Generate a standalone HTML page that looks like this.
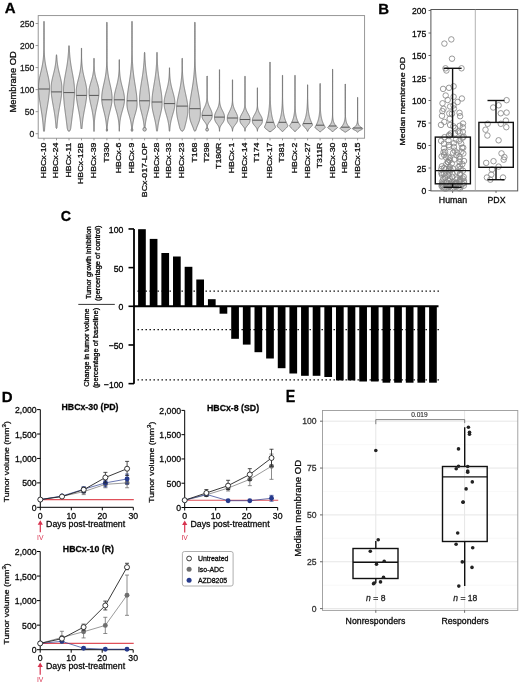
<!DOCTYPE html>
<html><head><meta charset="utf-8"><title>Figure</title>
<style>
html,body{margin:0;padding:0;background:#fff;}
svg{display:block;font-family:'Liberation Sans', Arial, sans-serif;}
</style></head>
<body>
<svg width="520" height="685" viewBox="0 0 520 685">
<rect width="520" height="685" fill="#fff"/>
<text x="4.70" y="13.30" font-size="15" text-anchor="start" font-weight="bold" fill="#000" stroke="#000" stroke-width="0.28">A</text>
<text x="378.20" y="13.90" font-size="15" text-anchor="start" font-weight="bold" fill="#000" stroke="#000" stroke-width="0.28">B</text>
<text x="0" y="0" font-size="15" font-weight="bold" fill="#000" stroke="#000" stroke-width="0.28" transform="translate(60.8 220.5) scale(0.95 1.03)">C</text>
<text x="1.70" y="401.50" font-size="15" text-anchor="start" font-weight="bold" fill="#000" stroke="#000" stroke-width="0.28">D</text>
<text x="0" y="0" font-size="15" font-weight="bold" fill="#000" stroke="#000" stroke-width="0.28" transform="translate(285.8 402.1) scale(0.95 1.04)">E</text>
<rect x="38.2" y="15.6" width="326.40000000000003" height="122.6" fill="none" stroke="#8c8c8c" stroke-width="0.9"/>
<line x1="35.60" y1="133.70" x2="38.20" y2="133.70" stroke="#8c8c8c" stroke-width="0.9"/>
<text x="34.30" y="137.00" font-size="8.6" text-anchor="end" transform="matrix(1,0,0,1.08,0,-10.960)" fill="#222" stroke="#222" stroke-width="0.28">0</text>
<line x1="35.60" y1="111.66" x2="38.20" y2="111.66" stroke="#8c8c8c" stroke-width="0.9"/>
<text x="34.30" y="114.96" font-size="8.6" text-anchor="end" transform="matrix(1,0,0,1.08,0,-9.197)" fill="#222" stroke="#222" stroke-width="0.28">50</text>
<line x1="35.60" y1="89.62" x2="38.20" y2="89.62" stroke="#8c8c8c" stroke-width="0.9"/>
<text x="34.30" y="92.92" font-size="8.6" text-anchor="end" transform="matrix(1,0,0,1.08,0,-7.434)" fill="#222" stroke="#222" stroke-width="0.28">100</text>
<line x1="35.60" y1="67.58" x2="38.20" y2="67.58" stroke="#8c8c8c" stroke-width="0.9"/>
<text x="34.30" y="70.88" font-size="8.6" text-anchor="end" transform="matrix(1,0,0,1.08,0,-5.670)" fill="#222" stroke="#222" stroke-width="0.28">150</text>
<line x1="35.60" y1="45.54" x2="38.20" y2="45.54" stroke="#8c8c8c" stroke-width="0.9"/>
<text x="34.30" y="48.84" font-size="8.6" text-anchor="end" transform="matrix(1,0,0,1.08,0,-3.907)" fill="#222" stroke="#222" stroke-width="0.28">200</text>
<line x1="35.60" y1="23.50" x2="38.20" y2="23.50" stroke="#8c8c8c" stroke-width="0.9"/>
<text x="34.30" y="26.80" font-size="8.6" text-anchor="end" transform="matrix(1,0,0,1.08,0,-2.144)" fill="#222" stroke="#222" stroke-width="0.28">250</text>
<text x="0" y="0" font-size="8.500" text-anchor="middle" transform="translate(16.40 81.90) rotate(-90) scale(1.1 1)" stroke="#111" stroke-width="0.28">Membrane OD</text>
<path d="M44.10,21.40 L44.10,22.09 L44.10,22.78 L44.10,23.48 L44.10,24.17 L44.10,24.86 L44.10,25.55 L44.10,26.25 L44.10,26.94 L44.10,27.63 L44.10,28.32 L44.10,29.02 L44.10,29.71 L44.10,30.40 L44.10,31.09 L44.10,31.79 L44.10,32.48 L44.10,33.17 L44.10,33.86 L44.10,34.56 L44.10,35.25 L44.10,35.94 L44.10,36.63 L44.10,37.33 L44.10,38.02 L44.10,38.71 L44.10,39.40 L44.10,40.10 L44.10,40.79 L44.10,41.48 L44.10,42.17 L44.10,42.87 L44.10,43.56 L44.10,44.25 L44.10,44.94 L44.10,45.64 L44.10,46.33 L44.10,47.02 L44.11,47.71 L44.13,48.41 L44.15,49.10 L44.17,49.79 L44.19,50.48 L44.22,51.18 L44.24,51.87 L44.28,52.56 L44.31,53.25 L44.35,53.95 L44.39,54.64 L44.44,55.33 L44.49,56.02 L44.55,56.72 L44.61,57.41 L44.67,58.10 L44.74,58.79 L44.82,59.48 L44.90,60.18 L44.99,60.87 L45.08,61.56 L45.18,62.25 L45.29,62.95 L45.40,63.64 L45.52,64.33 L45.64,65.02 L45.77,65.72 L45.90,66.41 L46.04,67.10 L46.19,67.79 L46.34,68.49 L46.49,69.18 L46.65,69.87 L46.81,70.56 L46.97,71.26 L47.13,71.95 L47.30,72.64 L47.46,73.33 L47.63,74.03 L47.79,74.72 L47.95,75.41 L48.11,76.10 L48.26,76.80 L48.41,77.49 L48.55,78.18 L48.69,78.87 L48.81,79.57 L48.93,80.26 L49.04,80.95 L49.14,81.64 L49.23,82.34 L49.30,83.03 L49.37,83.72 L49.42,84.41 L49.46,85.11 L49.49,85.80 L49.50,86.49 L49.50,87.18 L49.49,87.88 L49.48,88.57 L49.46,89.26 L49.43,89.95 L49.40,90.65 L49.36,91.34 L49.32,92.03 L49.26,92.72 L49.21,93.42 L49.14,94.11 L49.08,94.80 L49.00,95.49 L48.93,96.18 L48.84,96.88 L48.76,97.57 L48.67,98.26 L48.57,98.95 L48.47,99.65 L48.37,100.34 L48.27,101.03 L48.16,101.72 L48.05,102.42 L47.94,103.11 L47.83,103.80 L47.72,104.49 L47.60,105.19 L47.49,105.88 L47.37,106.57 L47.26,107.26 L47.14,107.96 L47.03,108.65 L46.91,109.34 L46.80,110.03 L46.69,110.73 L46.58,111.42 L46.47,112.11 L46.36,112.80 L46.26,113.50 L46.15,114.19 L46.05,114.88 L45.95,115.57 L45.86,116.27 L45.76,116.96 L45.67,117.65 L45.59,118.34 L45.50,119.04 L45.42,119.73 L45.34,120.42 L45.26,121.11 L45.19,121.81 L45.12,122.50 L45.05,123.19 L44.99,123.88 L44.92,124.58 L44.87,125.27 L44.81,125.96 L44.76,126.65 L44.70,127.35 L44.66,128.04 L44.61,128.73 L44.57,129.42 L44.53,130.12 L44.46,130.81 L44.00,131.50 L44.00,131.50 L43.54,130.81 L43.47,130.12 L43.43,129.42 L43.39,128.73 L43.34,128.04 L43.30,127.35 L43.24,126.65 L43.19,125.96 L43.13,125.27 L43.08,124.58 L43.01,123.88 L42.95,123.19 L42.88,122.50 L42.81,121.81 L42.74,121.11 L42.66,120.42 L42.58,119.73 L42.50,119.04 L42.41,118.34 L42.33,117.65 L42.24,116.96 L42.14,116.27 L42.05,115.57 L41.95,114.88 L41.85,114.19 L41.74,113.50 L41.64,112.80 L41.53,112.11 L41.42,111.42 L41.31,110.73 L41.20,110.03 L41.09,109.34 L40.97,108.65 L40.86,107.96 L40.74,107.26 L40.63,106.57 L40.51,105.88 L40.40,105.19 L40.28,104.49 L40.17,103.80 L40.06,103.11 L39.95,102.42 L39.84,101.72 L39.73,101.03 L39.63,100.34 L39.53,99.65 L39.43,98.95 L39.33,98.26 L39.24,97.57 L39.16,96.88 L39.07,96.18 L39.00,95.49 L38.92,94.80 L38.86,94.11 L38.79,93.42 L38.74,92.72 L38.68,92.03 L38.64,91.34 L38.60,90.65 L38.57,89.95 L38.54,89.26 L38.52,88.57 L38.51,87.88 L38.50,87.18 L38.50,86.49 L38.51,85.80 L38.54,85.11 L38.58,84.41 L38.63,83.72 L38.70,83.03 L38.77,82.34 L38.86,81.64 L38.96,80.95 L39.07,80.26 L39.19,79.57 L39.31,78.87 L39.45,78.18 L39.59,77.49 L39.74,76.80 L39.89,76.10 L40.05,75.41 L40.21,74.72 L40.37,74.03 L40.54,73.33 L40.70,72.64 L40.87,71.95 L41.03,71.26 L41.19,70.56 L41.35,69.87 L41.51,69.18 L41.66,68.49 L41.81,67.79 L41.96,67.10 L42.10,66.41 L42.23,65.72 L42.36,65.02 L42.48,64.33 L42.60,63.64 L42.71,62.95 L42.82,62.25 L42.92,61.56 L43.01,60.87 L43.10,60.18 L43.18,59.48 L43.26,58.79 L43.33,58.10 L43.39,57.41 L43.45,56.72 L43.51,56.02 L43.56,55.33 L43.61,54.64 L43.65,53.95 L43.69,53.25 L43.72,52.56 L43.76,51.87 L43.78,51.18 L43.81,50.48 L43.83,49.79 L43.85,49.10 L43.87,48.41 L43.89,47.71 L43.90,47.02 L43.90,46.33 L43.90,45.64 L43.90,44.94 L43.90,44.25 L43.90,43.56 L43.90,42.87 L43.90,42.17 L43.90,41.48 L43.90,40.79 L43.90,40.10 L43.90,39.40 L43.90,38.71 L43.90,38.02 L43.90,37.33 L43.90,36.63 L43.90,35.94 L43.90,35.25 L43.90,34.56 L43.90,33.86 L43.90,33.17 L43.90,32.48 L43.90,31.79 L43.90,31.09 L43.90,30.40 L43.90,29.71 L43.90,29.02 L43.90,28.32 L43.90,27.63 L43.90,26.94 L43.90,26.25 L43.90,25.55 L43.90,24.86 L43.90,24.17 L43.90,23.48 L43.90,22.78 L43.90,22.09 L43.90,21.40Z" fill="#cdcdcd" stroke="#666" stroke-width="0.8" stroke-linejoin="round"/>
<line x1="38.53" y1="89.00" x2="49.47" y2="89.00" stroke="#555" stroke-width="1.0"/>
<line x1="44.00" y1="138.20" x2="44.00" y2="140.40" stroke="#8c8c8c" stroke-width="0.9"/>
<text x="0" y="0" font-size="7.982" text-anchor="end" transform="translate(45.90 142.60) rotate(-90) scale(1.1 1)" stroke="#111" stroke-width="0.28">HBCx-10</text>
<path d="M56.60,54.80 L56.60,55.26 L56.75,55.73 L56.77,56.19 L56.80,56.65 L56.82,57.12 L56.85,57.58 L56.88,58.04 L56.91,58.51 L56.95,58.97 L56.98,59.44 L57.02,59.90 L57.06,60.36 L57.11,60.83 L57.15,61.29 L57.20,61.75 L57.26,62.22 L57.31,62.68 L57.37,63.14 L57.43,63.61 L57.49,64.07 L57.56,64.53 L57.63,65.00 L57.70,65.46 L57.78,65.92 L57.86,66.39 L57.94,66.85 L58.02,67.32 L58.11,67.78 L58.20,68.24 L58.29,68.71 L58.39,69.17 L58.49,69.63 L58.59,70.10 L58.70,70.56 L58.80,71.02 L58.91,71.49 L59.02,71.95 L59.13,72.41 L59.25,72.88 L59.36,73.34 L59.47,73.80 L59.59,74.27 L59.71,74.73 L59.82,75.19 L59.94,75.66 L60.06,76.12 L60.17,76.59 L60.29,77.05 L60.40,77.51 L60.51,77.98 L60.62,78.44 L60.73,78.90 L60.83,79.37 L60.93,79.83 L61.03,80.29 L61.12,80.76 L61.21,81.22 L61.30,81.68 L61.38,82.15 L61.46,82.61 L61.53,83.07 L61.59,83.54 L61.65,84.00 L61.70,84.47 L61.75,84.93 L61.79,85.39 L61.83,85.86 L61.86,86.32 L61.88,86.78 L61.89,87.25 L61.90,87.71 L61.90,88.17 L61.90,88.64 L61.89,89.10 L61.88,89.56 L61.87,90.03 L61.85,90.49 L61.83,90.95 L61.80,91.42 L61.78,91.88 L61.74,92.35 L61.71,92.81 L61.67,93.27 L61.63,93.74 L61.59,94.20 L61.54,94.66 L61.49,95.13 L61.44,95.59 L61.39,96.05 L61.33,96.52 L61.27,96.98 L61.21,97.44 L61.14,97.91 L61.07,98.37 L61.01,98.83 L60.93,99.30 L60.86,99.76 L60.79,100.23 L60.71,100.69 L60.63,101.15 L60.56,101.62 L60.48,102.08 L60.40,102.54 L60.31,103.01 L60.23,103.47 L60.15,103.93 L60.07,104.40 L59.98,104.86 L59.90,105.32 L59.81,105.79 L59.73,106.25 L59.65,106.71 L59.56,107.18 L59.48,107.64 L59.39,108.11 L59.31,108.57 L59.23,109.03 L59.15,109.50 L59.07,109.96 L58.99,110.42 L58.91,110.89 L58.83,111.35 L58.75,111.81 L58.67,112.28 L58.60,112.74 L58.53,113.20 L58.45,113.67 L58.38,114.13 L58.31,114.59 L58.24,115.06 L58.18,115.52 L58.11,115.98 L58.05,116.45 L57.99,116.91 L57.93,117.38 L57.87,117.84 L57.81,118.30 L57.75,118.77 L57.70,119.23 L57.65,119.69 L57.59,120.16 L57.55,120.62 L57.50,121.08 L57.45,121.55 L57.41,122.01 L57.36,122.47 L57.32,122.94 L57.28,123.40 L57.24,123.86 L57.20,124.33 L57.17,124.79 L57.13,125.26 L57.10,125.72 L57.07,126.18 L57.04,126.65 L57.01,127.11 L56.98,127.57 L56.88,128.04 L56.50,128.50 L56.50,128.50 L56.12,128.04 L56.02,127.57 L55.99,127.11 L55.96,126.65 L55.93,126.18 L55.90,125.72 L55.87,125.26 L55.83,124.79 L55.80,124.33 L55.76,123.86 L55.72,123.40 L55.68,122.94 L55.64,122.47 L55.59,122.01 L55.55,121.55 L55.50,121.08 L55.45,120.62 L55.41,120.16 L55.35,119.69 L55.30,119.23 L55.25,118.77 L55.19,118.30 L55.13,117.84 L55.07,117.38 L55.01,116.91 L54.95,116.45 L54.89,115.98 L54.82,115.52 L54.76,115.06 L54.69,114.59 L54.62,114.13 L54.55,113.67 L54.47,113.20 L54.40,112.74 L54.33,112.28 L54.25,111.81 L54.17,111.35 L54.09,110.89 L54.01,110.42 L53.93,109.96 L53.85,109.50 L53.77,109.03 L53.69,108.57 L53.61,108.11 L53.52,107.64 L53.44,107.18 L53.35,106.71 L53.27,106.25 L53.19,105.79 L53.10,105.32 L53.02,104.86 L52.93,104.40 L52.85,103.93 L52.77,103.47 L52.69,103.01 L52.60,102.54 L52.52,102.08 L52.44,101.62 L52.37,101.15 L52.29,100.69 L52.21,100.23 L52.14,99.76 L52.07,99.30 L51.99,98.83 L51.93,98.37 L51.86,97.91 L51.79,97.44 L51.73,96.98 L51.67,96.52 L51.61,96.05 L51.56,95.59 L51.51,95.13 L51.46,94.66 L51.41,94.20 L51.37,93.74 L51.33,93.27 L51.29,92.81 L51.26,92.35 L51.22,91.88 L51.20,91.42 L51.17,90.95 L51.15,90.49 L51.13,90.03 L51.12,89.56 L51.11,89.10 L51.10,88.64 L51.10,88.17 L51.10,87.71 L51.11,87.25 L51.12,86.78 L51.14,86.32 L51.17,85.86 L51.21,85.39 L51.25,84.93 L51.30,84.47 L51.35,84.00 L51.41,83.54 L51.47,83.07 L51.54,82.61 L51.62,82.15 L51.70,81.68 L51.79,81.22 L51.88,80.76 L51.97,80.29 L52.07,79.83 L52.17,79.37 L52.27,78.90 L52.38,78.44 L52.49,77.98 L52.60,77.51 L52.71,77.05 L52.83,76.59 L52.94,76.12 L53.06,75.66 L53.18,75.19 L53.29,74.73 L53.41,74.27 L53.53,73.80 L53.64,73.34 L53.75,72.88 L53.87,72.41 L53.98,71.95 L54.09,71.49 L54.20,71.02 L54.30,70.56 L54.41,70.10 L54.51,69.63 L54.61,69.17 L54.71,68.71 L54.80,68.24 L54.89,67.78 L54.98,67.32 L55.06,66.85 L55.14,66.39 L55.22,65.92 L55.30,65.46 L55.37,65.00 L55.44,64.53 L55.51,64.07 L55.57,63.61 L55.63,63.14 L55.69,62.68 L55.74,62.22 L55.80,61.75 L55.85,61.29 L55.89,60.83 L55.94,60.36 L55.98,59.90 L56.02,59.44 L56.05,58.97 L56.09,58.51 L56.12,58.04 L56.15,57.58 L56.18,57.12 L56.20,56.65 L56.23,56.19 L56.25,55.73 L56.40,55.26 L56.40,54.80Z" fill="#cdcdcd" stroke="#666" stroke-width="0.8" stroke-linejoin="round"/>
<line x1="51.23" y1="91.90" x2="61.77" y2="91.90" stroke="#555" stroke-width="1.0"/>
<line x1="56.50" y1="138.20" x2="56.50" y2="140.40" stroke="#8c8c8c" stroke-width="0.9"/>
<text x="0" y="0" font-size="7.982" text-anchor="end" transform="translate(58.40 142.60) rotate(-90) scale(1.1 1)" stroke="#111" stroke-width="0.28">HBCx-24</text>
<path d="M69.10,45.70 L69.10,46.24 L69.27,46.78 L69.29,47.32 L69.31,47.86 L69.34,48.40 L69.36,48.94 L69.39,49.48 L69.42,50.02 L69.44,50.56 L69.48,51.10 L69.51,51.64 L69.54,52.18 L69.58,52.72 L69.62,53.25 L69.66,53.79 L69.70,54.33 L69.74,54.87 L69.79,55.41 L69.84,55.95 L69.89,56.49 L69.94,57.03 L69.99,57.57 L70.05,58.11 L70.11,58.65 L70.17,59.19 L70.23,59.73 L70.30,60.27 L70.36,60.81 L70.43,61.35 L70.51,61.89 L70.58,62.43 L70.66,62.97 L70.73,63.51 L70.82,64.05 L70.90,64.59 L70.98,65.13 L71.07,65.67 L71.16,66.21 L71.25,66.75 L71.34,67.28 L71.43,67.82 L71.52,68.36 L71.62,68.90 L71.72,69.44 L71.82,69.98 L71.91,70.52 L72.01,71.06 L72.11,71.60 L72.21,72.14 L72.31,72.68 L72.41,73.22 L72.51,73.76 L72.61,74.30 L72.71,74.84 L72.81,75.38 L72.91,75.92 L73.01,76.46 L73.10,77.00 L73.20,77.54 L73.29,78.08 L73.38,78.62 L73.47,79.16 L73.55,79.70 L73.64,80.24 L73.72,80.78 L73.79,81.32 L73.87,81.85 L73.94,82.39 L74.01,82.93 L74.07,83.47 L74.13,84.01 L74.19,84.55 L74.24,85.09 L74.28,85.63 L74.33,86.17 L74.37,86.71 L74.40,87.25 L74.43,87.79 L74.45,88.33 L74.47,88.87 L74.49,89.41 L74.50,89.95 L74.50,90.49 L74.50,91.03 L74.50,91.57 L74.49,92.11 L74.48,92.65 L74.47,93.19 L74.46,93.73 L74.44,94.27 L74.43,94.81 L74.41,95.35 L74.38,95.88 L74.36,96.42 L74.33,96.96 L74.30,97.50 L74.27,98.04 L74.23,98.58 L74.20,99.12 L74.16,99.66 L74.12,100.20 L74.07,100.74 L74.03,101.28 L73.98,101.82 L73.93,102.36 L73.88,102.90 L73.83,103.44 L73.78,103.98 L73.72,104.52 L73.66,105.06 L73.61,105.60 L73.55,106.14 L73.48,106.68 L73.42,107.22 L73.36,107.76 L73.29,108.30 L73.23,108.84 L73.16,109.38 L73.09,109.92 L73.03,110.45 L72.96,110.99 L72.89,111.53 L72.82,112.07 L72.75,112.61 L72.67,113.15 L72.60,113.69 L72.53,114.23 L72.46,114.77 L72.39,115.31 L72.32,115.85 L72.24,116.39 L72.17,116.93 L72.10,117.47 L72.03,118.01 L71.96,118.55 L71.89,119.09 L71.82,119.63 L71.75,120.17 L71.68,120.71 L71.61,121.25 L71.54,121.79 L71.47,122.33 L71.40,122.87 L71.34,123.41 L71.27,123.95 L71.21,124.48 L71.14,125.02 L71.08,125.56 L71.02,126.10 L70.96,126.64 L70.90,127.18 L70.83,127.72 L70.75,128.26 L70.63,128.80 L70.48,129.34 L70.29,129.88 L70.06,130.42 L69.75,130.96 L69.00,131.50 L69.00,131.50 L68.25,130.96 L67.94,130.42 L67.71,129.88 L67.52,129.34 L67.37,128.80 L67.25,128.26 L67.17,127.72 L67.10,127.18 L67.04,126.64 L66.98,126.10 L66.92,125.56 L66.86,125.02 L66.79,124.48 L66.73,123.95 L66.66,123.41 L66.60,122.87 L66.53,122.33 L66.46,121.79 L66.39,121.25 L66.32,120.71 L66.25,120.17 L66.18,119.63 L66.11,119.09 L66.04,118.55 L65.97,118.01 L65.90,117.47 L65.83,116.93 L65.76,116.39 L65.68,115.85 L65.61,115.31 L65.54,114.77 L65.47,114.23 L65.40,113.69 L65.33,113.15 L65.25,112.61 L65.18,112.07 L65.11,111.53 L65.04,110.99 L64.97,110.45 L64.91,109.92 L64.84,109.38 L64.77,108.84 L64.71,108.30 L64.64,107.76 L64.58,107.22 L64.52,106.68 L64.45,106.14 L64.39,105.60 L64.34,105.06 L64.28,104.52 L64.22,103.98 L64.17,103.44 L64.12,102.90 L64.07,102.36 L64.02,101.82 L63.97,101.28 L63.93,100.74 L63.88,100.20 L63.84,99.66 L63.80,99.12 L63.77,98.58 L63.73,98.04 L63.70,97.50 L63.67,96.96 L63.64,96.42 L63.62,95.88 L63.59,95.35 L63.57,94.81 L63.56,94.27 L63.54,93.73 L63.53,93.19 L63.52,92.65 L63.51,92.11 L63.50,91.57 L63.50,91.03 L63.50,90.49 L63.50,89.95 L63.51,89.41 L63.53,88.87 L63.55,88.33 L63.57,87.79 L63.60,87.25 L63.63,86.71 L63.67,86.17 L63.72,85.63 L63.76,85.09 L63.81,84.55 L63.87,84.01 L63.93,83.47 L63.99,82.93 L64.06,82.39 L64.13,81.85 L64.21,81.32 L64.28,80.78 L64.36,80.24 L64.45,79.70 L64.53,79.16 L64.62,78.62 L64.71,78.08 L64.80,77.54 L64.90,77.00 L64.99,76.46 L65.09,75.92 L65.19,75.38 L65.29,74.84 L65.39,74.30 L65.49,73.76 L65.59,73.22 L65.69,72.68 L65.79,72.14 L65.89,71.60 L65.99,71.06 L66.09,70.52 L66.18,69.98 L66.28,69.44 L66.38,68.90 L66.48,68.36 L66.57,67.82 L66.66,67.28 L66.75,66.75 L66.84,66.21 L66.93,65.67 L67.02,65.13 L67.10,64.59 L67.18,64.05 L67.27,63.51 L67.34,62.97 L67.42,62.43 L67.49,61.89 L67.57,61.35 L67.64,60.81 L67.70,60.27 L67.77,59.73 L67.83,59.19 L67.89,58.65 L67.95,58.11 L68.01,57.57 L68.06,57.03 L68.11,56.49 L68.16,55.95 L68.21,55.41 L68.26,54.87 L68.30,54.33 L68.34,53.79 L68.38,53.25 L68.42,52.72 L68.46,52.18 L68.49,51.64 L68.52,51.10 L68.56,50.56 L68.58,50.02 L68.61,49.48 L68.64,48.94 L68.66,48.40 L68.69,47.86 L68.71,47.32 L68.73,46.78 L68.90,46.24 L68.90,45.70Z" fill="#cdcdcd" stroke="#666" stroke-width="0.8" stroke-linejoin="round"/>
<line x1="63.52" y1="92.60" x2="74.48" y2="92.60" stroke="#555" stroke-width="1.0"/>
<line x1="69.00" y1="138.20" x2="69.00" y2="140.40" stroke="#8c8c8c" stroke-width="0.9"/>
<text x="0" y="0" font-size="7.982" text-anchor="end" transform="translate(70.90 142.60) rotate(-90) scale(1.1 1)" stroke="#111" stroke-width="0.28">HBCx-11</text>
<path d="M81.60,48.20 L81.60,48.71 L81.60,49.22 L81.60,49.72 L81.60,50.23 L81.60,50.74 L81.60,51.25 L81.60,51.76 L81.60,52.27 L81.60,52.77 L81.60,53.28 L81.60,53.79 L81.60,54.30 L81.60,54.81 L81.60,55.31 L81.60,55.82 L81.60,56.33 L81.61,56.84 L81.62,57.35 L81.63,57.86 L81.65,58.36 L81.67,58.87 L81.69,59.38 L81.71,59.89 L81.73,60.40 L81.75,60.90 L81.78,61.41 L81.81,61.92 L81.84,62.43 L81.87,62.94 L81.91,63.45 L81.95,63.95 L81.99,64.46 L82.03,64.97 L82.08,65.48 L82.13,65.99 L82.18,66.49 L82.24,67.00 L82.30,67.51 L82.37,68.02 L82.43,68.53 L82.51,69.04 L82.58,69.54 L82.66,70.05 L82.75,70.56 L82.83,71.07 L82.92,71.58 L83.02,72.08 L83.12,72.59 L83.22,73.10 L83.33,73.61 L83.44,74.12 L83.55,74.63 L83.66,75.13 L83.78,75.64 L83.90,76.15 L84.03,76.66 L84.15,77.17 L84.28,77.67 L84.40,78.18 L84.53,78.69 L84.66,79.20 L84.79,79.71 L84.92,80.22 L85.05,80.72 L85.18,81.23 L85.30,81.74 L85.43,82.25 L85.55,82.76 L85.67,83.26 L85.78,83.77 L85.89,84.28 L86.00,84.79 L86.10,85.30 L86.20,85.81 L86.29,86.31 L86.37,86.82 L86.45,87.33 L86.52,87.84 L86.58,88.35 L86.64,88.85 L86.69,89.36 L86.72,89.87 L86.76,90.38 L86.78,90.89 L86.79,91.39 L86.80,91.90 L86.80,92.41 L86.79,92.92 L86.78,93.43 L86.76,93.94 L86.74,94.44 L86.72,94.95 L86.69,95.46 L86.65,95.97 L86.61,96.48 L86.57,96.98 L86.52,97.49 L86.47,98.00 L86.41,98.51 L86.35,99.02 L86.29,99.53 L86.22,100.03 L86.15,100.54 L86.08,101.05 L86.00,101.56 L85.92,102.07 L85.84,102.57 L85.75,103.08 L85.67,103.59 L85.58,104.10 L85.49,104.61 L85.39,105.12 L85.30,105.62 L85.20,106.13 L85.11,106.64 L85.01,107.15 L84.92,107.66 L84.82,108.16 L84.72,108.67 L84.62,109.18 L84.52,109.69 L84.43,110.20 L84.33,110.71 L84.23,111.21 L84.14,111.72 L84.04,112.23 L83.95,112.74 L83.86,113.25 L83.77,113.75 L83.68,114.26 L83.59,114.77 L83.51,115.28 L83.42,115.79 L83.34,116.30 L83.26,116.80 L83.18,117.31 L83.10,117.82 L83.03,118.33 L82.96,118.84 L82.89,119.34 L82.82,119.85 L82.75,120.36 L82.69,120.87 L82.63,121.38 L82.57,121.89 L82.51,122.39 L82.46,122.90 L82.40,123.41 L82.35,123.92 L82.30,124.43 L82.26,124.93 L82.21,125.44 L82.17,125.95 L82.13,126.46 L82.09,126.97 L82.06,127.48 L82.02,127.98 L81.92,128.49 L81.50,129.00 L81.50,129.00 L81.08,128.49 L80.98,127.98 L80.94,127.48 L80.91,126.97 L80.87,126.46 L80.83,125.95 L80.79,125.44 L80.74,124.93 L80.70,124.43 L80.65,123.92 L80.60,123.41 L80.54,122.90 L80.49,122.39 L80.43,121.89 L80.37,121.38 L80.31,120.87 L80.25,120.36 L80.18,119.85 L80.11,119.34 L80.04,118.84 L79.97,118.33 L79.90,117.82 L79.82,117.31 L79.74,116.80 L79.66,116.30 L79.58,115.79 L79.49,115.28 L79.41,114.77 L79.32,114.26 L79.23,113.75 L79.14,113.25 L79.05,112.74 L78.96,112.23 L78.86,111.72 L78.77,111.21 L78.67,110.71 L78.57,110.20 L78.48,109.69 L78.38,109.18 L78.28,108.67 L78.18,108.16 L78.08,107.66 L77.99,107.15 L77.89,106.64 L77.80,106.13 L77.70,105.62 L77.61,105.12 L77.51,104.61 L77.42,104.10 L77.33,103.59 L77.25,103.08 L77.16,102.57 L77.08,102.07 L77.00,101.56 L76.92,101.05 L76.85,100.54 L76.78,100.03 L76.71,99.53 L76.65,99.02 L76.59,98.51 L76.53,98.00 L76.48,97.49 L76.43,96.98 L76.39,96.48 L76.35,95.97 L76.31,95.46 L76.28,94.95 L76.26,94.44 L76.24,93.94 L76.22,93.43 L76.21,92.92 L76.20,92.41 L76.20,91.90 L76.21,91.39 L76.22,90.89 L76.24,90.38 L76.28,89.87 L76.31,89.36 L76.36,88.85 L76.42,88.35 L76.48,87.84 L76.55,87.33 L76.63,86.82 L76.71,86.31 L76.80,85.81 L76.90,85.30 L77.00,84.79 L77.11,84.28 L77.22,83.77 L77.33,83.26 L77.45,82.76 L77.57,82.25 L77.70,81.74 L77.82,81.23 L77.95,80.72 L78.08,80.22 L78.21,79.71 L78.34,79.20 L78.47,78.69 L78.60,78.18 L78.72,77.67 L78.85,77.17 L78.97,76.66 L79.10,76.15 L79.22,75.64 L79.34,75.13 L79.45,74.63 L79.56,74.12 L79.67,73.61 L79.78,73.10 L79.88,72.59 L79.98,72.08 L80.08,71.58 L80.17,71.07 L80.25,70.56 L80.34,70.05 L80.42,69.54 L80.49,69.04 L80.57,68.53 L80.63,68.02 L80.70,67.51 L80.76,67.00 L80.82,66.49 L80.87,65.99 L80.92,65.48 L80.97,64.97 L81.01,64.46 L81.05,63.95 L81.09,63.45 L81.13,62.94 L81.16,62.43 L81.19,61.92 L81.22,61.41 L81.25,60.90 L81.27,60.40 L81.29,59.89 L81.31,59.38 L81.33,58.87 L81.35,58.36 L81.37,57.86 L81.38,57.35 L81.39,56.84 L81.40,56.33 L81.40,55.82 L81.40,55.31 L81.40,54.81 L81.40,54.30 L81.40,53.79 L81.40,53.28 L81.40,52.77 L81.40,52.27 L81.40,51.76 L81.40,51.25 L81.40,50.74 L81.40,50.23 L81.40,49.72 L81.40,49.22 L81.40,48.71 L81.40,48.20Z" fill="#cdcdcd" stroke="#666" stroke-width="0.8" stroke-linejoin="round"/>
<line x1="76.31" y1="95.40" x2="86.69" y2="95.40" stroke="#555" stroke-width="1.0"/>
<line x1="81.50" y1="138.20" x2="81.50" y2="140.40" stroke="#8c8c8c" stroke-width="0.9"/>
<text x="0" y="0" font-size="7.982" text-anchor="end" transform="translate(83.40 142.60) rotate(-90) scale(1.1 1)" stroke="#111" stroke-width="0.28">HBCx-12B</text>
<path d="M94.10,58.30 L94.10,58.76 L94.10,59.22 L94.10,59.68 L94.10,60.14 L94.10,60.60 L94.10,61.06 L94.10,61.52 L94.10,61.98 L94.10,62.44 L94.10,62.90 L94.10,63.36 L94.10,63.82 L94.11,64.28 L94.12,64.75 L94.14,65.21 L94.16,65.67 L94.18,66.13 L94.20,66.59 L94.22,67.05 L94.25,67.51 L94.28,67.97 L94.31,68.43 L94.35,68.89 L94.38,69.35 L94.43,69.81 L94.47,70.27 L94.52,70.73 L94.57,71.19 L94.63,71.65 L94.69,72.11 L94.76,72.57 L94.83,73.03 L94.90,73.49 L94.98,73.95 L95.06,74.41 L95.15,74.87 L95.25,75.33 L95.34,75.79 L95.45,76.25 L95.55,76.72 L95.67,77.18 L95.78,77.64 L95.90,78.10 L96.03,78.56 L96.15,79.02 L96.28,79.48 L96.42,79.94 L96.55,80.40 L96.69,80.86 L96.83,81.32 L96.97,81.78 L97.11,82.24 L97.24,82.70 L97.38,83.16 L97.52,83.62 L97.65,84.08 L97.79,84.54 L97.91,85.00 L98.04,85.46 L98.16,85.92 L98.27,86.38 L98.38,86.84 L98.48,87.30 L98.57,87.76 L98.66,88.22 L98.73,88.68 L98.80,89.15 L98.86,89.61 L98.91,90.07 L98.95,90.53 L98.97,90.99 L98.99,91.45 L99.00,91.91 L99.00,92.37 L98.99,92.83 L98.98,93.29 L98.96,93.75 L98.93,94.21 L98.90,94.67 L98.87,95.13 L98.82,95.59 L98.78,96.05 L98.72,96.51 L98.67,96.97 L98.61,97.43 L98.54,97.89 L98.47,98.35 L98.39,98.81 L98.32,99.27 L98.23,99.73 L98.15,100.19 L98.06,100.65 L97.97,101.12 L97.87,101.58 L97.78,102.04 L97.68,102.50 L97.58,102.96 L97.48,103.42 L97.38,103.88 L97.27,104.34 L97.17,104.80 L97.06,105.26 L96.96,105.72 L96.86,106.18 L96.75,106.64 L96.65,107.10 L96.55,107.56 L96.45,108.02 L96.35,108.48 L96.25,108.94 L96.15,109.40 L96.06,109.86 L95.96,110.32 L95.87,110.78 L95.78,111.24 L95.70,111.70 L95.61,112.16 L95.53,112.62 L95.45,113.08 L95.37,113.55 L95.30,114.01 L95.23,114.47 L95.16,114.93 L95.09,115.39 L95.03,115.85 L94.96,116.31 L94.91,116.77 L94.85,117.23 L94.80,117.69 L94.74,118.15 L94.70,118.61 L94.65,119.07 L94.61,119.53 L94.56,119.99 L94.52,120.45 L94.49,120.91 L94.45,121.37 L94.42,121.83 L94.39,122.29 L94.36,122.75 L94.33,123.21 L94.31,123.67 L94.28,124.13 L94.26,124.59 L94.24,125.05 L94.22,125.52 L94.20,125.98 L94.18,126.44 L94.17,126.90 L94.15,127.36 L94.14,127.82 L94.13,128.28 L94.12,128.74 L94.11,129.20 L94.10,129.66 L94.10,130.12 L94.10,130.58 L94.08,131.04 L94.00,131.50 L94.00,131.50 L93.92,131.04 L93.90,130.58 L93.90,130.12 L93.90,129.66 L93.89,129.20 L93.88,128.74 L93.87,128.28 L93.86,127.82 L93.85,127.36 L93.83,126.90 L93.82,126.44 L93.80,125.98 L93.78,125.52 L93.76,125.05 L93.74,124.59 L93.72,124.13 L93.69,123.67 L93.67,123.21 L93.64,122.75 L93.61,122.29 L93.58,121.83 L93.55,121.37 L93.51,120.91 L93.48,120.45 L93.44,119.99 L93.39,119.53 L93.35,119.07 L93.30,118.61 L93.26,118.15 L93.20,117.69 L93.15,117.23 L93.09,116.77 L93.04,116.31 L92.97,115.85 L92.91,115.39 L92.84,114.93 L92.77,114.47 L92.70,114.01 L92.63,113.55 L92.55,113.08 L92.47,112.62 L92.39,112.16 L92.30,111.70 L92.22,111.24 L92.13,110.78 L92.04,110.32 L91.94,109.86 L91.85,109.40 L91.75,108.94 L91.65,108.48 L91.55,108.02 L91.45,107.56 L91.35,107.10 L91.25,106.64 L91.14,106.18 L91.04,105.72 L90.94,105.26 L90.83,104.80 L90.73,104.34 L90.62,103.88 L90.52,103.42 L90.42,102.96 L90.32,102.50 L90.22,102.04 L90.13,101.58 L90.03,101.12 L89.94,100.65 L89.85,100.19 L89.77,99.73 L89.68,99.27 L89.61,98.81 L89.53,98.35 L89.46,97.89 L89.39,97.43 L89.33,96.97 L89.28,96.51 L89.22,96.05 L89.18,95.59 L89.13,95.13 L89.10,94.67 L89.07,94.21 L89.04,93.75 L89.02,93.29 L89.01,92.83 L89.00,92.37 L89.00,91.91 L89.01,91.45 L89.03,90.99 L89.05,90.53 L89.09,90.07 L89.14,89.61 L89.20,89.15 L89.27,88.68 L89.34,88.22 L89.43,87.76 L89.52,87.30 L89.62,86.84 L89.73,86.38 L89.84,85.92 L89.96,85.46 L90.09,85.00 L90.21,84.54 L90.35,84.08 L90.48,83.62 L90.62,83.16 L90.76,82.70 L90.89,82.24 L91.03,81.78 L91.17,81.32 L91.31,80.86 L91.45,80.40 L91.58,79.94 L91.72,79.48 L91.85,79.02 L91.97,78.56 L92.10,78.10 L92.22,77.64 L92.33,77.18 L92.45,76.72 L92.55,76.25 L92.66,75.79 L92.75,75.33 L92.85,74.87 L92.94,74.41 L93.02,73.95 L93.10,73.49 L93.17,73.03 L93.24,72.57 L93.31,72.11 L93.37,71.65 L93.43,71.19 L93.48,70.73 L93.53,70.27 L93.57,69.81 L93.62,69.35 L93.65,68.89 L93.69,68.43 L93.72,67.97 L93.75,67.51 L93.78,67.05 L93.80,66.59 L93.82,66.13 L93.84,65.67 L93.86,65.21 L93.88,64.75 L93.89,64.28 L93.90,63.82 L93.90,63.36 L93.90,62.90 L93.90,62.44 L93.90,61.98 L93.90,61.52 L93.90,61.06 L93.90,60.60 L93.90,60.14 L93.90,59.68 L93.90,59.22 L93.90,58.76 L93.90,58.30Z" fill="#cdcdcd" stroke="#666" stroke-width="0.8" stroke-linejoin="round"/>
<line x1="89.16" y1="95.40" x2="98.84" y2="95.40" stroke="#555" stroke-width="1.0"/>
<line x1="94.00" y1="138.20" x2="94.00" y2="140.40" stroke="#8c8c8c" stroke-width="0.9"/>
<text x="0" y="0" font-size="7.982" text-anchor="end" transform="translate(95.90 142.60) rotate(-90) scale(1.1 1)" stroke="#111" stroke-width="0.28">HBCx-39</text>
<path d="M107.00,22.30 L107.00,22.99 L107.00,23.67 L107.00,24.36 L107.00,25.04 L107.00,25.73 L107.00,26.41 L107.00,27.10 L107.00,27.78 L107.00,28.47 L107.00,29.16 L107.00,29.84 L107.00,30.53 L107.00,31.21 L107.00,31.90 L107.00,32.58 L107.00,33.27 L107.00,33.95 L107.00,34.64 L107.00,35.33 L107.00,36.01 L107.00,36.70 L107.00,37.38 L107.00,38.07 L107.00,38.75 L107.00,39.44 L107.00,40.12 L107.00,40.81 L107.00,41.49 L107.00,42.18 L107.00,42.87 L107.00,43.55 L107.00,44.24 L107.00,44.92 L107.00,45.61 L107.00,46.29 L107.00,46.98 L107.00,47.66 L107.00,48.35 L107.00,49.04 L107.00,49.72 L107.00,50.41 L107.00,51.09 L107.00,51.78 L107.00,52.46 L107.00,53.15 L107.00,53.83 L107.00,54.52 L107.00,55.21 L107.00,55.89 L107.00,56.58 L107.00,57.26 L107.00,57.95 L107.00,58.63 L107.01,59.32 L107.02,60.00 L107.04,60.69 L107.06,61.38 L107.08,62.06 L107.11,62.75 L107.13,63.43 L107.16,64.12 L107.20,64.80 L107.23,65.49 L107.27,66.17 L107.32,66.86 L107.37,67.55 L107.42,68.23 L107.47,68.92 L107.54,69.60 L107.60,70.29 L107.67,70.97 L107.75,71.66 L107.83,72.34 L107.92,73.03 L108.01,73.72 L108.11,74.40 L108.22,75.09 L108.32,75.77 L108.44,76.46 L108.56,77.14 L108.69,77.83 L108.82,78.51 L108.95,79.20 L109.09,79.88 L109.23,80.57 L109.38,81.26 L109.53,81.94 L109.68,82.63 L109.83,83.31 L109.99,84.00 L110.14,84.68 L110.29,85.37 L110.45,86.05 L110.60,86.74 L110.75,87.43 L110.89,88.11 L111.03,88.80 L111.16,89.48 L111.29,90.17 L111.41,90.85 L111.53,91.54 L111.63,92.22 L111.73,92.91 L111.81,93.60 L111.89,94.28 L111.95,94.97 L112.01,95.65 L112.05,96.34 L112.08,97.02 L112.10,97.71 L112.10,98.39 L112.09,99.08 L112.06,99.77 L112.02,100.45 L111.97,101.14 L111.90,101.82 L111.81,102.51 L111.72,103.19 L111.61,103.88 L111.49,104.56 L111.36,105.25 L111.22,105.94 L111.07,106.62 L110.91,107.31 L110.75,107.99 L110.58,108.68 L110.41,109.36 L110.24,110.05 L110.07,110.73 L109.90,111.42 L109.73,112.11 L109.56,112.79 L109.39,113.48 L109.22,114.16 L109.07,114.85 L108.91,115.53 L108.76,116.22 L108.62,116.90 L108.48,117.59 L108.35,118.27 L108.23,118.96 L108.11,119.65 L108.00,120.33 L107.90,121.02 L107.80,121.70 L107.71,122.39 L107.63,123.07 L107.55,123.76 L107.48,124.44 L107.42,125.13 L107.36,125.82 L107.31,126.50 L107.26,127.19 L107.22,127.87 L107.18,128.56 L107.14,129.24 L107.11,129.93 L107.07,130.61 L106.90,131.30 L106.90,131.30 L106.73,130.61 L106.69,129.93 L106.66,129.24 L106.62,128.56 L106.58,127.87 L106.54,127.19 L106.49,126.50 L106.44,125.82 L106.38,125.13 L106.32,124.44 L106.25,123.76 L106.17,123.07 L106.09,122.39 L106.00,121.70 L105.90,121.02 L105.80,120.33 L105.69,119.65 L105.57,118.96 L105.45,118.27 L105.32,117.59 L105.18,116.90 L105.04,116.22 L104.89,115.53 L104.73,114.85 L104.58,114.16 L104.41,113.48 L104.24,112.79 L104.07,112.11 L103.90,111.42 L103.73,110.73 L103.56,110.05 L103.39,109.36 L103.22,108.68 L103.05,107.99 L102.89,107.31 L102.73,106.62 L102.58,105.94 L102.44,105.25 L102.31,104.56 L102.19,103.88 L102.08,103.19 L101.99,102.51 L101.90,101.82 L101.83,101.14 L101.78,100.45 L101.74,99.77 L101.71,99.08 L101.70,98.39 L101.70,97.71 L101.72,97.02 L101.75,96.34 L101.79,95.65 L101.85,94.97 L101.91,94.28 L101.99,93.60 L102.07,92.91 L102.17,92.22 L102.27,91.54 L102.39,90.85 L102.51,90.17 L102.64,89.48 L102.77,88.80 L102.91,88.11 L103.05,87.43 L103.20,86.74 L103.35,86.05 L103.51,85.37 L103.66,84.68 L103.81,84.00 L103.97,83.31 L104.12,82.63 L104.27,81.94 L104.42,81.26 L104.57,80.57 L104.71,79.88 L104.85,79.20 L104.98,78.51 L105.11,77.83 L105.24,77.14 L105.36,76.46 L105.48,75.77 L105.58,75.09 L105.69,74.40 L105.79,73.72 L105.88,73.03 L105.97,72.34 L106.05,71.66 L106.13,70.97 L106.20,70.29 L106.26,69.60 L106.33,68.92 L106.38,68.23 L106.43,67.55 L106.48,66.86 L106.53,66.17 L106.57,65.49 L106.60,64.80 L106.64,64.12 L106.67,63.43 L106.69,62.75 L106.72,62.06 L106.74,61.38 L106.76,60.69 L106.78,60.00 L106.79,59.32 L106.80,58.63 L106.80,57.95 L106.80,57.26 L106.80,56.58 L106.80,55.89 L106.80,55.21 L106.80,54.52 L106.80,53.83 L106.80,53.15 L106.80,52.46 L106.80,51.78 L106.80,51.09 L106.80,50.41 L106.80,49.72 L106.80,49.04 L106.80,48.35 L106.80,47.66 L106.80,46.98 L106.80,46.29 L106.80,45.61 L106.80,44.92 L106.80,44.24 L106.80,43.55 L106.80,42.87 L106.80,42.18 L106.80,41.49 L106.80,40.81 L106.80,40.12 L106.80,39.44 L106.80,38.75 L106.80,38.07 L106.80,37.38 L106.80,36.70 L106.80,36.01 L106.80,35.33 L106.80,34.64 L106.80,33.95 L106.80,33.27 L106.80,32.58 L106.80,31.90 L106.80,31.21 L106.80,30.53 L106.80,29.84 L106.80,29.16 L106.80,28.47 L106.80,27.78 L106.80,27.10 L106.80,26.41 L106.80,25.73 L106.80,25.04 L106.80,24.36 L106.80,23.67 L106.80,22.99 L106.80,22.30Z" fill="#cdcdcd" stroke="#666" stroke-width="0.8" stroke-linejoin="round"/>
<ellipse cx="106.90" cy="130.0" rx="0.8" ry="0.88" fill="#cdcdcd" stroke="#6a6a6a" stroke-width="0.75"/>
<line x1="101.74" y1="99.80" x2="112.06" y2="99.80" stroke="#555" stroke-width="1.0"/>
<line x1="106.90" y1="138.20" x2="106.90" y2="140.40" stroke="#8c8c8c" stroke-width="0.9"/>
<text x="0" y="0" font-size="7.982" text-anchor="end" transform="translate(108.80 142.60) rotate(-90) scale(1.1 1)" stroke="#111" stroke-width="0.28">T330</text>
<path d="M119.40,59.70 L119.40,60.15 L119.40,60.60 L119.40,61.05 L119.40,61.50 L119.40,61.95 L119.40,62.40 L119.40,62.85 L119.40,63.30 L119.40,63.75 L119.40,64.20 L119.40,64.65 L119.40,65.10 L119.40,65.55 L119.40,66.00 L119.41,66.45 L119.42,66.91 L119.44,67.36 L119.45,67.81 L119.47,68.26 L119.48,68.71 L119.50,69.16 L119.52,69.61 L119.54,70.06 L119.57,70.51 L119.59,70.96 L119.62,71.41 L119.65,71.86 L119.68,72.31 L119.72,72.76 L119.75,73.21 L119.79,73.66 L119.83,74.11 L119.88,74.56 L119.93,75.01 L119.98,75.46 L120.03,75.91 L120.09,76.36 L120.14,76.81 L120.21,77.26 L120.27,77.71 L120.34,78.16 L120.41,78.61 L120.49,79.06 L120.57,79.51 L120.65,79.96 L120.74,80.41 L120.83,80.86 L120.92,81.32 L121.01,81.77 L121.11,82.22 L121.21,82.67 L121.32,83.12 L121.42,83.57 L121.53,84.02 L121.64,84.47 L121.75,84.92 L121.87,85.37 L121.99,85.82 L122.10,86.27 L122.22,86.72 L122.34,87.17 L122.46,87.62 L122.58,88.07 L122.70,88.52 L122.82,88.97 L122.93,89.42 L123.05,89.87 L123.16,90.32 L123.27,90.77 L123.38,91.22 L123.49,91.67 L123.59,92.12 L123.69,92.57 L123.78,93.02 L123.87,93.47 L123.96,93.92 L124.04,94.37 L124.11,94.82 L124.18,95.27 L124.24,95.73 L124.30,96.18 L124.35,96.63 L124.39,97.08 L124.43,97.53 L124.46,97.98 L124.48,98.43 L124.49,98.88 L124.50,99.33 L124.50,99.78 L124.49,100.23 L124.47,100.68 L124.44,101.13 L124.41,101.58 L124.36,102.03 L124.31,102.48 L124.25,102.93 L124.18,103.38 L124.11,103.83 L124.02,104.28 L123.93,104.73 L123.84,105.18 L123.74,105.63 L123.63,106.08 L123.52,106.53 L123.41,106.98 L123.29,107.43 L123.17,107.88 L123.04,108.33 L122.92,108.78 L122.79,109.23 L122.66,109.68 L122.53,110.14 L122.40,110.59 L122.27,111.04 L122.14,111.49 L122.01,111.94 L121.89,112.39 L121.76,112.84 L121.64,113.29 L121.52,113.74 L121.40,114.19 L121.28,114.64 L121.17,115.09 L121.06,115.54 L120.96,115.99 L120.85,116.44 L120.76,116.89 L120.66,117.34 L120.57,117.79 L120.49,118.24 L120.40,118.69 L120.33,119.14 L120.25,119.59 L120.18,120.04 L120.11,120.49 L120.05,120.94 L119.99,121.39 L119.94,121.84 L119.88,122.29 L119.84,122.74 L119.79,123.19 L119.75,123.64 L119.71,124.09 L119.67,124.55 L119.64,125.00 L119.61,125.45 L119.58,125.90 L119.55,126.35 L119.53,126.80 L119.50,127.25 L119.48,127.70 L119.46,128.15 L119.45,128.60 L119.43,129.05 L119.42,129.50 L119.41,129.95 L119.40,130.40 L119.38,130.85 L119.30,131.30 L119.30,131.30 L119.22,130.85 L119.20,130.40 L119.19,129.95 L119.18,129.50 L119.17,129.05 L119.15,128.60 L119.14,128.15 L119.12,127.70 L119.10,127.25 L119.07,126.80 L119.05,126.35 L119.02,125.90 L118.99,125.45 L118.96,125.00 L118.93,124.55 L118.89,124.09 L118.85,123.64 L118.81,123.19 L118.76,122.74 L118.72,122.29 L118.66,121.84 L118.61,121.39 L118.55,120.94 L118.49,120.49 L118.42,120.04 L118.35,119.59 L118.27,119.14 L118.20,118.69 L118.11,118.24 L118.03,117.79 L117.94,117.34 L117.84,116.89 L117.75,116.44 L117.64,115.99 L117.54,115.54 L117.43,115.09 L117.32,114.64 L117.20,114.19 L117.08,113.74 L116.96,113.29 L116.84,112.84 L116.71,112.39 L116.59,111.94 L116.46,111.49 L116.33,111.04 L116.20,110.59 L116.07,110.14 L115.94,109.68 L115.81,109.23 L115.68,108.78 L115.56,108.33 L115.43,107.88 L115.31,107.43 L115.19,106.98 L115.08,106.53 L114.97,106.08 L114.86,105.63 L114.76,105.18 L114.67,104.73 L114.58,104.28 L114.49,103.83 L114.42,103.38 L114.35,102.93 L114.29,102.48 L114.24,102.03 L114.19,101.58 L114.16,101.13 L114.13,100.68 L114.11,100.23 L114.10,99.78 L114.10,99.33 L114.11,98.88 L114.12,98.43 L114.14,97.98 L114.17,97.53 L114.21,97.08 L114.25,96.63 L114.30,96.18 L114.36,95.73 L114.42,95.27 L114.49,94.82 L114.56,94.37 L114.64,93.92 L114.73,93.47 L114.82,93.02 L114.91,92.57 L115.01,92.12 L115.11,91.67 L115.22,91.22 L115.33,90.77 L115.44,90.32 L115.55,89.87 L115.67,89.42 L115.78,88.97 L115.90,88.52 L116.02,88.07 L116.14,87.62 L116.26,87.17 L116.38,86.72 L116.50,86.27 L116.61,85.82 L116.73,85.37 L116.85,84.92 L116.96,84.47 L117.07,84.02 L117.18,83.57 L117.28,83.12 L117.39,82.67 L117.49,82.22 L117.59,81.77 L117.68,81.32 L117.77,80.86 L117.86,80.41 L117.95,79.96 L118.03,79.51 L118.11,79.06 L118.19,78.61 L118.26,78.16 L118.33,77.71 L118.39,77.26 L118.46,76.81 L118.51,76.36 L118.57,75.91 L118.62,75.46 L118.67,75.01 L118.72,74.56 L118.77,74.11 L118.81,73.66 L118.85,73.21 L118.88,72.76 L118.92,72.31 L118.95,71.86 L118.98,71.41 L119.01,70.96 L119.03,70.51 L119.06,70.06 L119.08,69.61 L119.10,69.16 L119.12,68.71 L119.13,68.26 L119.15,67.81 L119.16,67.36 L119.18,66.91 L119.19,66.45 L119.20,66.00 L119.20,65.55 L119.20,65.10 L119.20,64.65 L119.20,64.20 L119.20,63.75 L119.20,63.30 L119.20,62.85 L119.20,62.40 L119.20,61.95 L119.20,61.50 L119.20,61.05 L119.20,60.60 L119.20,60.15 L119.20,59.70Z" fill="#cdcdcd" stroke="#666" stroke-width="0.8" stroke-linejoin="round"/>
<line x1="114.10" y1="99.80" x2="124.50" y2="99.80" stroke="#555" stroke-width="1.0"/>
<line x1="119.30" y1="138.20" x2="119.30" y2="140.40" stroke="#8c8c8c" stroke-width="0.9"/>
<text x="0" y="0" font-size="7.982" text-anchor="end" transform="translate(121.20 142.60) rotate(-90) scale(1.1 1)" stroke="#111" stroke-width="0.28">HBCx-6</text>
<path d="M132.10,21.40 L132.10,22.09 L132.10,22.78 L132.10,23.47 L132.10,24.16 L132.10,24.86 L132.10,25.55 L132.10,26.24 L132.10,26.93 L132.10,27.62 L132.10,28.31 L132.10,29.00 L132.10,29.69 L132.10,30.39 L132.10,31.08 L132.10,31.77 L132.10,32.46 L132.10,33.15 L132.10,33.84 L132.10,34.53 L132.10,35.22 L132.10,35.92 L132.10,36.61 L132.10,37.30 L132.10,37.99 L132.10,38.68 L132.10,39.37 L132.10,40.06 L132.10,40.75 L132.10,41.44 L132.10,42.14 L132.10,42.83 L132.10,43.52 L132.10,44.21 L132.10,44.90 L132.10,45.59 L132.10,46.28 L132.10,46.97 L132.10,47.67 L132.10,48.36 L132.10,49.05 L132.10,49.74 L132.11,50.43 L132.12,51.12 L132.13,51.81 L132.15,52.50 L132.16,53.19 L132.18,53.89 L132.19,54.58 L132.21,55.27 L132.23,55.96 L132.25,56.65 L132.27,57.34 L132.30,58.03 L132.33,58.72 L132.35,59.42 L132.38,60.11 L132.42,60.80 L132.45,61.49 L132.49,62.18 L132.53,62.87 L132.57,63.56 L132.61,64.25 L132.66,64.95 L132.71,65.64 L132.76,66.33 L132.81,67.02 L132.87,67.71 L132.93,68.40 L132.99,69.09 L133.06,69.78 L133.13,70.47 L133.20,71.17 L133.27,71.86 L133.35,72.55 L133.43,73.24 L133.52,73.93 L133.60,74.62 L133.69,75.31 L133.78,76.00 L133.87,76.70 L133.97,77.39 L134.07,78.08 L134.17,78.77 L134.27,79.46 L134.38,80.15 L134.48,80.84 L134.59,81.53 L134.70,82.23 L134.81,82.92 L134.92,83.61 L135.03,84.30 L135.14,84.99 L135.25,85.68 L135.36,86.37 L135.47,87.06 L135.58,87.75 L135.69,88.45 L135.79,89.14 L135.89,89.83 L136.00,90.52 L136.09,91.21 L136.19,91.90 L136.28,92.59 L136.37,93.28 L136.46,93.98 L136.54,94.67 L136.61,95.36 L136.69,96.05 L136.75,96.74 L136.81,97.43 L136.87,98.12 L136.92,98.81 L136.96,99.51 L137.00,100.20 L137.03,100.89 L137.06,101.58 L137.08,102.27 L137.09,102.96 L137.10,103.65 L137.10,104.34 L137.08,105.03 L137.03,105.73 L136.97,106.42 L136.88,107.11 L136.78,107.80 L136.65,108.49 L136.52,109.18 L136.36,109.87 L136.19,110.56 L136.02,111.26 L135.83,111.95 L135.64,112.64 L135.44,113.33 L135.23,114.02 L135.03,114.71 L134.83,115.40 L134.63,116.09 L134.43,116.78 L134.24,117.48 L134.05,118.17 L133.87,118.86 L133.70,119.55 L133.54,120.24 L133.39,120.93 L133.25,121.62 L133.11,122.31 L132.99,123.01 L132.88,123.70 L132.77,124.39 L132.68,125.08 L132.59,125.77 L132.52,126.46 L132.45,127.15 L132.39,127.84 L132.33,128.54 L132.28,129.23 L132.24,129.92 L132.20,130.61 L132.00,131.30 L132.00,131.30 L131.80,130.61 L131.76,129.92 L131.72,129.23 L131.67,128.54 L131.61,127.84 L131.55,127.15 L131.48,126.46 L131.41,125.77 L131.32,125.08 L131.23,124.39 L131.12,123.70 L131.01,123.01 L130.89,122.31 L130.75,121.62 L130.61,120.93 L130.46,120.24 L130.30,119.55 L130.13,118.86 L129.95,118.17 L129.76,117.48 L129.57,116.78 L129.37,116.09 L129.17,115.40 L128.97,114.71 L128.77,114.02 L128.56,113.33 L128.36,112.64 L128.17,111.95 L127.98,111.26 L127.81,110.56 L127.64,109.87 L127.48,109.18 L127.35,108.49 L127.22,107.80 L127.12,107.11 L127.03,106.42 L126.97,105.73 L126.92,105.03 L126.90,104.34 L126.90,103.65 L126.91,102.96 L126.92,102.27 L126.94,101.58 L126.97,100.89 L127.00,100.20 L127.04,99.51 L127.08,98.81 L127.13,98.12 L127.19,97.43 L127.25,96.74 L127.31,96.05 L127.39,95.36 L127.46,94.67 L127.54,93.98 L127.63,93.28 L127.72,92.59 L127.81,91.90 L127.91,91.21 L128.00,90.52 L128.11,89.83 L128.21,89.14 L128.31,88.45 L128.42,87.75 L128.53,87.06 L128.64,86.37 L128.75,85.68 L128.86,84.99 L128.97,84.30 L129.08,83.61 L129.19,82.92 L129.30,82.23 L129.41,81.53 L129.52,80.84 L129.62,80.15 L129.73,79.46 L129.83,78.77 L129.93,78.08 L130.03,77.39 L130.13,76.70 L130.22,76.00 L130.31,75.31 L130.40,74.62 L130.48,73.93 L130.57,73.24 L130.65,72.55 L130.73,71.86 L130.80,71.17 L130.87,70.47 L130.94,69.78 L131.01,69.09 L131.07,68.40 L131.13,67.71 L131.19,67.02 L131.24,66.33 L131.29,65.64 L131.34,64.95 L131.39,64.25 L131.43,63.56 L131.47,62.87 L131.51,62.18 L131.55,61.49 L131.58,60.80 L131.62,60.11 L131.65,59.42 L131.67,58.72 L131.70,58.03 L131.73,57.34 L131.75,56.65 L131.77,55.96 L131.79,55.27 L131.81,54.58 L131.82,53.89 L131.84,53.19 L131.85,52.50 L131.87,51.81 L131.88,51.12 L131.89,50.43 L131.90,49.74 L131.90,49.05 L131.90,48.36 L131.90,47.67 L131.90,46.97 L131.90,46.28 L131.90,45.59 L131.90,44.90 L131.90,44.21 L131.90,43.52 L131.90,42.83 L131.90,42.14 L131.90,41.44 L131.90,40.75 L131.90,40.06 L131.90,39.37 L131.90,38.68 L131.90,37.99 L131.90,37.30 L131.90,36.61 L131.90,35.92 L131.90,35.22 L131.90,34.53 L131.90,33.84 L131.90,33.15 L131.90,32.46 L131.90,31.77 L131.90,31.08 L131.90,30.39 L131.90,29.69 L131.90,29.00 L131.90,28.31 L131.90,27.62 L131.90,26.93 L131.90,26.24 L131.90,25.55 L131.90,24.86 L131.90,24.16 L131.90,23.47 L131.90,22.78 L131.90,22.09 L131.90,21.40Z" fill="#cdcdcd" stroke="#666" stroke-width="0.8" stroke-linejoin="round"/>
<ellipse cx="132.00" cy="130.0" rx="1.0" ry="1.10" fill="#cdcdcd" stroke="#6a6a6a" stroke-width="0.75"/>
<line x1="126.97" y1="100.80" x2="137.03" y2="100.80" stroke="#555" stroke-width="1.0"/>
<line x1="132.00" y1="138.20" x2="132.00" y2="140.40" stroke="#8c8c8c" stroke-width="0.9"/>
<text x="0" y="0" font-size="7.982" text-anchor="end" transform="translate(133.90 142.60) rotate(-90) scale(1.1 1)" stroke="#111" stroke-width="0.28">HBCx-9</text>
<path d="M144.70,52.40 L144.70,52.88 L144.83,53.37 L144.84,53.85 L144.86,54.34 L144.87,54.82 L144.89,55.31 L144.91,55.79 L144.93,56.27 L144.95,56.76 L144.97,57.24 L144.99,57.73 L145.01,58.21 L145.04,58.70 L145.06,59.18 L145.09,59.66 L145.12,60.15 L145.15,60.63 L145.18,61.12 L145.21,61.60 L145.24,62.09 L145.27,62.57 L145.31,63.05 L145.35,63.54 L145.38,64.02 L145.42,64.51 L145.46,64.99 L145.51,65.48 L145.55,65.96 L145.59,66.44 L145.64,66.93 L145.69,67.41 L145.74,67.90 L145.79,68.38 L145.84,68.87 L145.90,69.35 L145.95,69.83 L146.01,70.32 L146.07,70.80 L146.13,71.29 L146.19,71.77 L146.25,72.26 L146.31,72.74 L146.38,73.22 L146.45,73.71 L146.51,74.19 L146.58,74.68 L146.65,75.16 L146.72,75.65 L146.80,76.13 L146.87,76.61 L146.94,77.10 L147.02,77.58 L147.09,78.07 L147.17,78.55 L147.25,79.04 L147.32,79.52 L147.40,80.00 L147.48,80.49 L147.56,80.97 L147.64,81.46 L147.72,81.94 L147.80,82.43 L147.87,82.91 L147.95,83.39 L148.03,83.88 L148.11,84.36 L148.18,84.85 L148.26,85.33 L148.34,85.82 L148.41,86.30 L148.49,86.78 L148.56,87.27 L148.63,87.75 L148.70,88.24 L148.77,88.72 L148.83,89.21 L148.90,89.69 L148.96,90.17 L149.02,90.66 L149.08,91.14 L149.14,91.63 L149.19,92.11 L149.25,92.59 L149.30,93.08 L149.34,93.56 L149.39,94.05 L149.43,94.53 L149.47,95.02 L149.51,95.50 L149.54,95.98 L149.57,96.47 L149.60,96.95 L149.62,97.44 L149.64,97.92 L149.66,98.41 L149.67,98.89 L149.69,99.37 L149.69,99.86 L149.70,100.34 L149.70,100.83 L149.70,101.31 L149.68,101.80 L149.66,102.28 L149.63,102.76 L149.59,103.25 L149.55,103.73 L149.49,104.22 L149.43,104.70 L149.37,105.19 L149.29,105.67 L149.21,106.15 L149.12,106.64 L149.03,107.12 L148.93,107.61 L148.83,108.09 L148.72,108.58 L148.61,109.06 L148.49,109.54 L148.38,110.03 L148.26,110.51 L148.13,111.00 L148.01,111.48 L147.88,111.97 L147.76,112.45 L147.63,112.93 L147.51,113.42 L147.38,113.90 L147.26,114.39 L147.13,114.87 L147.01,115.36 L146.89,115.84 L146.78,116.32 L146.66,116.81 L146.55,117.29 L146.44,117.78 L146.34,118.26 L146.24,118.75 L146.14,119.23 L146.04,119.71 L145.95,120.20 L145.86,120.68 L145.78,121.17 L145.70,121.65 L145.62,122.14 L145.55,122.62 L145.48,123.10 L145.42,123.59 L145.35,124.07 L145.30,124.56 L145.24,125.04 L145.19,125.53 L145.14,126.01 L145.10,126.49 L145.05,126.98 L145.01,127.46 L144.98,127.95 L144.94,128.43 L144.87,128.92 L144.60,129.40 L144.60,129.40 L144.33,128.92 L144.26,128.43 L144.22,127.95 L144.19,127.46 L144.15,126.98 L144.10,126.49 L144.06,126.01 L144.01,125.53 L143.96,125.04 L143.90,124.56 L143.85,124.07 L143.78,123.59 L143.72,123.10 L143.65,122.62 L143.58,122.14 L143.50,121.65 L143.42,121.17 L143.34,120.68 L143.25,120.20 L143.16,119.71 L143.06,119.23 L142.96,118.75 L142.86,118.26 L142.76,117.78 L142.65,117.29 L142.54,116.81 L142.42,116.32 L142.31,115.84 L142.19,115.36 L142.07,114.87 L141.94,114.39 L141.82,113.90 L141.69,113.42 L141.57,112.93 L141.44,112.45 L141.32,111.97 L141.19,111.48 L141.07,111.00 L140.94,110.51 L140.82,110.03 L140.71,109.54 L140.59,109.06 L140.48,108.58 L140.37,108.09 L140.27,107.61 L140.17,107.12 L140.08,106.64 L139.99,106.15 L139.91,105.67 L139.83,105.19 L139.77,104.70 L139.71,104.22 L139.65,103.73 L139.61,103.25 L139.57,102.76 L139.54,102.28 L139.52,101.80 L139.50,101.31 L139.50,100.83 L139.50,100.34 L139.51,99.86 L139.51,99.37 L139.53,98.89 L139.54,98.41 L139.56,97.92 L139.58,97.44 L139.60,96.95 L139.63,96.47 L139.66,95.98 L139.69,95.50 L139.73,95.02 L139.77,94.53 L139.81,94.05 L139.86,93.56 L139.90,93.08 L139.95,92.59 L140.01,92.11 L140.06,91.63 L140.12,91.14 L140.18,90.66 L140.24,90.17 L140.30,89.69 L140.37,89.21 L140.43,88.72 L140.50,88.24 L140.57,87.75 L140.64,87.27 L140.71,86.78 L140.79,86.30 L140.86,85.82 L140.94,85.33 L141.02,84.85 L141.09,84.36 L141.17,83.88 L141.25,83.39 L141.33,82.91 L141.40,82.43 L141.48,81.94 L141.56,81.46 L141.64,80.97 L141.72,80.49 L141.80,80.00 L141.88,79.52 L141.95,79.04 L142.03,78.55 L142.11,78.07 L142.18,77.58 L142.26,77.10 L142.33,76.61 L142.40,76.13 L142.48,75.65 L142.55,75.16 L142.62,74.68 L142.69,74.19 L142.75,73.71 L142.82,73.22 L142.89,72.74 L142.95,72.26 L143.01,71.77 L143.07,71.29 L143.13,70.80 L143.19,70.32 L143.25,69.83 L143.30,69.35 L143.36,68.87 L143.41,68.38 L143.46,67.90 L143.51,67.41 L143.56,66.93 L143.61,66.44 L143.65,65.96 L143.69,65.48 L143.74,64.99 L143.78,64.51 L143.82,64.02 L143.85,63.54 L143.89,63.05 L143.93,62.57 L143.96,62.09 L143.99,61.60 L144.02,61.12 L144.05,60.63 L144.08,60.15 L144.11,59.66 L144.14,59.18 L144.16,58.70 L144.19,58.21 L144.21,57.73 L144.23,57.24 L144.25,56.76 L144.27,56.27 L144.29,55.79 L144.31,55.31 L144.33,54.82 L144.34,54.34 L144.36,53.85 L144.37,53.37 L144.50,52.88 L144.50,52.40Z" fill="#cdcdcd" stroke="#666" stroke-width="0.8" stroke-linejoin="round"/>
<ellipse cx="144.60" cy="129.3" rx="1.7" ry="1.87" fill="#cdcdcd" stroke="#6a6a6a" stroke-width="0.75"/>
<line x1="139.50" y1="100.80" x2="149.70" y2="100.80" stroke="#555" stroke-width="1.0"/>
<line x1="144.60" y1="138.20" x2="144.60" y2="140.40" stroke="#8c8c8c" stroke-width="0.9"/>
<text x="0" y="0" font-size="7.982" text-anchor="end" transform="translate(146.50 142.60) rotate(-90) scale(1.1 1)" stroke="#111" stroke-width="0.28">BCx-017-LOP</text>
<path d="M157.10,52.40 L157.10,52.90 L157.12,53.39 L157.13,53.89 L157.14,54.38 L157.15,54.88 L157.16,55.38 L157.17,55.87 L157.18,56.37 L157.20,56.87 L157.21,57.36 L157.23,57.86 L157.24,58.35 L157.26,58.85 L157.28,59.35 L157.29,59.84 L157.31,60.34 L157.34,60.84 L157.36,61.33 L157.38,61.83 L157.40,62.32 L157.43,62.82 L157.46,63.32 L157.48,63.81 L157.51,64.31 L157.54,64.81 L157.58,65.30 L157.61,65.80 L157.65,66.29 L157.68,66.79 L157.72,67.29 L157.76,67.78 L157.80,68.28 L157.84,68.78 L157.89,69.27 L157.93,69.77 L157.98,70.26 L158.03,70.76 L158.08,71.26 L158.14,71.75 L158.19,72.25 L158.25,72.75 L158.30,73.24 L158.36,73.74 L158.42,74.23 L158.49,74.73 L158.55,75.23 L158.62,75.72 L158.69,76.22 L158.75,76.72 L158.83,77.21 L158.90,77.71 L158.97,78.20 L159.05,78.70 L159.12,79.20 L159.20,79.69 L159.28,80.19 L159.36,80.68 L159.44,81.18 L159.52,81.68 L159.60,82.17 L159.68,82.67 L159.77,83.17 L159.85,83.66 L159.93,84.16 L160.02,84.65 L160.10,85.15 L160.19,85.65 L160.27,86.14 L160.35,86.64 L160.44,87.14 L160.52,87.63 L160.60,88.13 L160.68,88.62 L160.77,89.12 L160.84,89.62 L160.92,90.11 L161.00,90.61 L161.07,91.11 L161.15,91.60 L161.22,92.10 L161.29,92.59 L161.36,93.09 L161.42,93.59 L161.49,94.08 L161.55,94.58 L161.60,95.08 L161.66,95.57 L161.71,96.07 L161.76,96.56 L161.81,97.06 L161.85,97.56 L161.89,98.05 L161.93,98.55 L161.96,99.05 L161.99,99.54 L162.02,100.04 L162.04,100.53 L162.06,101.03 L162.08,101.53 L162.09,102.02 L162.10,102.52 L162.10,103.02 L162.10,103.51 L162.09,104.01 L162.08,104.50 L162.05,105.00 L162.02,105.50 L161.98,105.99 L161.94,106.49 L161.89,106.98 L161.83,107.48 L161.76,107.98 L161.69,108.47 L161.61,108.97 L161.52,109.47 L161.43,109.96 L161.34,110.46 L161.24,110.95 L161.14,111.45 L161.03,111.95 L160.92,112.44 L160.81,112.94 L160.69,113.44 L160.57,113.93 L160.45,114.43 L160.33,114.92 L160.21,115.42 L160.09,115.92 L159.97,116.41 L159.85,116.91 L159.73,117.41 L159.61,117.90 L159.49,118.40 L159.37,118.89 L159.26,119.39 L159.14,119.89 L159.03,120.38 L158.93,120.88 L158.82,121.38 L158.72,121.87 L158.62,122.37 L158.53,122.86 L158.44,123.36 L158.35,123.86 L158.26,124.35 L158.18,124.85 L158.10,125.35 L158.03,125.84 L157.96,126.34 L157.89,126.83 L157.83,127.33 L157.77,127.83 L157.71,128.32 L157.66,128.82 L157.61,129.32 L157.56,129.81 L157.51,130.31 L157.41,130.80 L157.00,131.30 L157.00,131.30 L156.59,130.80 L156.49,130.31 L156.44,129.81 L156.39,129.32 L156.34,128.82 L156.29,128.32 L156.23,127.83 L156.17,127.33 L156.11,126.83 L156.04,126.34 L155.97,125.84 L155.90,125.35 L155.82,124.85 L155.74,124.35 L155.65,123.86 L155.56,123.36 L155.47,122.86 L155.38,122.37 L155.28,121.87 L155.18,121.38 L155.07,120.88 L154.97,120.38 L154.86,119.89 L154.74,119.39 L154.63,118.89 L154.51,118.40 L154.39,117.90 L154.27,117.41 L154.15,116.91 L154.03,116.41 L153.91,115.92 L153.79,115.42 L153.67,114.92 L153.55,114.43 L153.43,113.93 L153.31,113.44 L153.19,112.94 L153.08,112.44 L152.97,111.95 L152.86,111.45 L152.76,110.95 L152.66,110.46 L152.57,109.96 L152.48,109.47 L152.39,108.97 L152.31,108.47 L152.24,107.98 L152.17,107.48 L152.11,106.98 L152.06,106.49 L152.02,105.99 L151.98,105.50 L151.95,105.00 L151.92,104.50 L151.91,104.01 L151.90,103.51 L151.90,103.02 L151.90,102.52 L151.91,102.02 L151.92,101.53 L151.94,101.03 L151.96,100.53 L151.98,100.04 L152.01,99.54 L152.04,99.05 L152.07,98.55 L152.11,98.05 L152.15,97.56 L152.19,97.06 L152.24,96.56 L152.29,96.07 L152.34,95.57 L152.40,95.08 L152.45,94.58 L152.51,94.08 L152.58,93.59 L152.64,93.09 L152.71,92.59 L152.78,92.10 L152.85,91.60 L152.93,91.11 L153.00,90.61 L153.08,90.11 L153.16,89.62 L153.23,89.12 L153.32,88.62 L153.40,88.13 L153.48,87.63 L153.56,87.14 L153.65,86.64 L153.73,86.14 L153.81,85.65 L153.90,85.15 L153.98,84.65 L154.07,84.16 L154.15,83.66 L154.23,83.17 L154.32,82.67 L154.40,82.17 L154.48,81.68 L154.56,81.18 L154.64,80.68 L154.72,80.19 L154.80,79.69 L154.88,79.20 L154.95,78.70 L155.03,78.20 L155.10,77.71 L155.17,77.21 L155.25,76.72 L155.31,76.22 L155.38,75.72 L155.45,75.23 L155.51,74.73 L155.58,74.23 L155.64,73.74 L155.70,73.24 L155.75,72.75 L155.81,72.25 L155.86,71.75 L155.92,71.26 L155.97,70.76 L156.02,70.26 L156.07,69.77 L156.11,69.27 L156.16,68.78 L156.20,68.28 L156.24,67.78 L156.28,67.29 L156.32,66.79 L156.35,66.29 L156.39,65.80 L156.42,65.30 L156.46,64.81 L156.49,64.31 L156.52,63.81 L156.54,63.32 L156.57,62.82 L156.60,62.32 L156.62,61.83 L156.64,61.33 L156.66,60.84 L156.69,60.34 L156.71,59.84 L156.72,59.35 L156.74,58.85 L156.76,58.35 L156.77,57.86 L156.79,57.36 L156.80,56.87 L156.82,56.37 L156.83,55.87 L156.84,55.38 L156.85,54.88 L156.86,54.38 L156.87,53.89 L156.88,53.39 L156.90,52.90 L156.90,52.40Z" fill="#cdcdcd" stroke="#666" stroke-width="0.8" stroke-linejoin="round"/>
<line x1="151.91" y1="102.00" x2="162.09" y2="102.00" stroke="#555" stroke-width="1.0"/>
<line x1="157.00" y1="138.20" x2="157.00" y2="140.40" stroke="#8c8c8c" stroke-width="0.9"/>
<text x="0" y="0" font-size="7.982" text-anchor="end" transform="translate(158.90 142.60) rotate(-90) scale(1.1 1)" stroke="#111" stroke-width="0.28">HBCx-28</text>
<path d="M169.60,67.80 L169.60,68.20 L169.60,68.60 L169.60,69.00 L169.60,69.40 L169.60,69.80 L169.60,70.20 L169.61,70.60 L169.62,70.99 L169.63,71.39 L169.64,71.79 L169.66,72.19 L169.67,72.59 L169.69,72.99 L169.71,73.39 L169.72,73.79 L169.74,74.19 L169.77,74.59 L169.79,74.99 L169.81,75.39 L169.84,75.79 L169.87,76.19 L169.90,76.59 L169.93,76.99 L169.96,77.38 L170.00,77.78 L170.04,78.18 L170.08,78.58 L170.12,78.98 L170.17,79.38 L170.22,79.78 L170.27,80.18 L170.32,80.58 L170.38,80.98 L170.43,81.38 L170.49,81.78 L170.56,82.18 L170.63,82.58 L170.69,82.98 L170.77,83.38 L170.84,83.77 L170.92,84.17 L171.00,84.57 L171.08,84.97 L171.17,85.37 L171.26,85.77 L171.35,86.17 L171.44,86.57 L171.54,86.97 L171.64,87.37 L171.74,87.77 L171.84,88.17 L171.94,88.57 L172.05,88.97 L172.16,89.37 L172.27,89.77 L172.38,90.16 L172.49,90.56 L172.60,90.96 L172.71,91.36 L172.82,91.76 L172.93,92.16 L173.04,92.56 L173.15,92.96 L173.26,93.36 L173.37,93.76 L173.48,94.16 L173.58,94.56 L173.69,94.96 L173.79,95.36 L173.89,95.76 L173.98,96.16 L174.07,96.55 L174.16,96.95 L174.25,97.35 L174.33,97.75 L174.40,98.15 L174.47,98.55 L174.54,98.95 L174.60,99.35 L174.66,99.75 L174.71,100.15 L174.75,100.55 L174.79,100.95 L174.83,101.35 L174.85,101.75 L174.87,102.15 L174.89,102.55 L174.90,102.94 L174.90,103.34 L174.90,103.74 L174.88,104.14 L174.87,104.54 L174.84,104.94 L174.81,105.34 L174.77,105.74 L174.73,106.14 L174.67,106.54 L174.62,106.94 L174.55,107.34 L174.49,107.74 L174.41,108.14 L174.33,108.54 L174.25,108.94 L174.16,109.33 L174.06,109.73 L173.97,110.13 L173.87,110.53 L173.76,110.93 L173.66,111.33 L173.55,111.73 L173.44,112.13 L173.32,112.53 L173.21,112.93 L173.09,113.33 L172.97,113.73 L172.86,114.13 L172.74,114.53 L172.62,114.93 L172.50,115.33 L172.39,115.72 L172.27,116.12 L172.16,116.52 L172.04,116.92 L171.93,117.32 L171.82,117.72 L171.71,118.12 L171.61,118.52 L171.51,118.92 L171.41,119.32 L171.31,119.72 L171.21,120.12 L171.12,120.52 L171.03,120.92 L170.95,121.32 L170.86,121.72 L170.78,122.11 L170.71,122.51 L170.63,122.91 L170.56,123.31 L170.50,123.71 L170.43,124.11 L170.37,124.51 L170.31,124.91 L170.26,125.31 L170.20,125.71 L170.15,126.11 L170.11,126.51 L170.06,126.91 L170.02,127.31 L169.98,127.71 L169.94,128.11 L169.91,128.50 L169.88,128.90 L169.85,129.30 L169.82,129.70 L169.79,130.10 L169.76,130.50 L169.70,130.90 L169.50,131.30 L169.50,131.30 L169.30,130.90 L169.24,130.50 L169.21,130.10 L169.18,129.70 L169.15,129.30 L169.12,128.90 L169.09,128.50 L169.06,128.11 L169.02,127.71 L168.98,127.31 L168.94,126.91 L168.89,126.51 L168.85,126.11 L168.80,125.71 L168.74,125.31 L168.69,124.91 L168.63,124.51 L168.57,124.11 L168.50,123.71 L168.44,123.31 L168.37,122.91 L168.29,122.51 L168.22,122.11 L168.14,121.72 L168.05,121.32 L167.97,120.92 L167.88,120.52 L167.79,120.12 L167.69,119.72 L167.59,119.32 L167.49,118.92 L167.39,118.52 L167.29,118.12 L167.18,117.72 L167.07,117.32 L166.96,116.92 L166.84,116.52 L166.73,116.12 L166.61,115.72 L166.50,115.33 L166.38,114.93 L166.26,114.53 L166.14,114.13 L166.03,113.73 L165.91,113.33 L165.79,112.93 L165.68,112.53 L165.56,112.13 L165.45,111.73 L165.34,111.33 L165.24,110.93 L165.13,110.53 L165.03,110.13 L164.94,109.73 L164.84,109.33 L164.75,108.94 L164.67,108.54 L164.59,108.14 L164.51,107.74 L164.45,107.34 L164.38,106.94 L164.33,106.54 L164.27,106.14 L164.23,105.74 L164.19,105.34 L164.16,104.94 L164.13,104.54 L164.12,104.14 L164.10,103.74 L164.10,103.34 L164.10,102.94 L164.11,102.55 L164.13,102.15 L164.15,101.75 L164.17,101.35 L164.21,100.95 L164.25,100.55 L164.29,100.15 L164.34,99.75 L164.40,99.35 L164.46,98.95 L164.53,98.55 L164.60,98.15 L164.67,97.75 L164.75,97.35 L164.84,96.95 L164.93,96.55 L165.02,96.16 L165.11,95.76 L165.21,95.36 L165.31,94.96 L165.42,94.56 L165.52,94.16 L165.63,93.76 L165.74,93.36 L165.85,92.96 L165.96,92.56 L166.07,92.16 L166.18,91.76 L166.29,91.36 L166.40,90.96 L166.51,90.56 L166.62,90.16 L166.73,89.77 L166.84,89.37 L166.95,88.97 L167.06,88.57 L167.16,88.17 L167.26,87.77 L167.36,87.37 L167.46,86.97 L167.56,86.57 L167.65,86.17 L167.74,85.77 L167.83,85.37 L167.92,84.97 L168.00,84.57 L168.08,84.17 L168.16,83.77 L168.23,83.38 L168.31,82.98 L168.37,82.58 L168.44,82.18 L168.51,81.78 L168.57,81.38 L168.62,80.98 L168.68,80.58 L168.73,80.18 L168.78,79.78 L168.83,79.38 L168.88,78.98 L168.92,78.58 L168.96,78.18 L169.00,77.78 L169.04,77.38 L169.07,76.99 L169.10,76.59 L169.13,76.19 L169.16,75.79 L169.19,75.39 L169.21,74.99 L169.23,74.59 L169.26,74.19 L169.28,73.79 L169.29,73.39 L169.31,72.99 L169.33,72.59 L169.34,72.19 L169.36,71.79 L169.37,71.39 L169.38,70.99 L169.39,70.60 L169.40,70.20 L169.40,69.80 L169.40,69.40 L169.40,69.00 L169.40,68.60 L169.40,68.20 L169.40,67.80Z" fill="#cdcdcd" stroke="#666" stroke-width="0.8" stroke-linejoin="round"/>
<line x1="164.10" y1="103.60" x2="174.90" y2="103.60" stroke="#555" stroke-width="1.0"/>
<line x1="169.50" y1="138.20" x2="169.50" y2="140.40" stroke="#8c8c8c" stroke-width="0.9"/>
<text x="0" y="0" font-size="7.982" text-anchor="end" transform="translate(171.40 142.60) rotate(-90) scale(1.1 1)" stroke="#111" stroke-width="0.28">HBCx-33</text>
<path d="M182.30,58.30 L182.30,58.76 L182.30,59.22 L182.30,59.68 L182.30,60.14 L182.30,60.60 L182.30,61.05 L182.30,61.51 L182.30,61.97 L182.30,62.43 L182.30,62.89 L182.30,63.35 L182.30,63.81 L182.30,64.27 L182.30,64.73 L182.30,65.19 L182.31,65.65 L182.31,66.11 L182.32,66.56 L182.34,67.02 L182.35,67.48 L182.36,67.94 L182.37,68.40 L182.39,68.86 L182.40,69.32 L182.42,69.78 L182.43,70.24 L182.45,70.70 L182.47,71.16 L182.49,71.61 L182.51,72.07 L182.53,72.53 L182.56,72.99 L182.58,73.45 L182.61,73.91 L182.64,74.37 L182.67,74.83 L182.70,75.29 L182.73,75.75 L182.77,76.21 L182.81,76.66 L182.84,77.12 L182.88,77.58 L182.93,78.04 L182.97,78.50 L183.02,78.96 L183.07,79.42 L183.12,79.88 L183.17,80.34 L183.22,80.80 L183.28,81.26 L183.34,81.72 L183.40,82.17 L183.47,82.63 L183.53,83.09 L183.60,83.55 L183.67,84.01 L183.74,84.47 L183.82,84.93 L183.89,85.39 L183.97,85.85 L184.05,86.31 L184.13,86.77 L184.22,87.22 L184.31,87.68 L184.39,88.14 L184.48,88.60 L184.58,89.06 L184.67,89.52 L184.76,89.98 L184.86,90.44 L184.96,90.90 L185.06,91.36 L185.15,91.82 L185.25,92.27 L185.36,92.73 L185.46,93.19 L185.56,93.65 L185.66,94.11 L185.76,94.57 L185.86,95.03 L185.96,95.49 L186.06,95.95 L186.16,96.41 L186.26,96.87 L186.36,97.33 L186.46,97.78 L186.55,98.24 L186.65,98.70 L186.74,99.16 L186.83,99.62 L186.91,100.08 L187.00,100.54 L187.08,101.00 L187.16,101.46 L187.23,101.92 L187.31,102.38 L187.37,102.83 L187.44,103.29 L187.50,103.75 L187.56,104.21 L187.61,104.67 L187.66,105.13 L187.71,105.59 L187.75,106.05 L187.78,106.51 L187.81,106.97 L187.84,107.43 L187.86,107.88 L187.88,108.34 L187.89,108.80 L187.90,109.26 L187.90,109.72 L187.90,110.18 L187.89,110.64 L187.87,111.10 L187.85,111.56 L187.82,112.02 L187.79,112.48 L187.75,112.94 L187.70,113.39 L187.65,113.85 L187.60,114.31 L187.54,114.77 L187.47,115.23 L187.40,115.69 L187.33,116.15 L187.25,116.61 L187.16,117.07 L187.08,117.53 L186.98,117.99 L186.89,118.44 L186.79,118.90 L186.69,119.36 L186.59,119.82 L186.48,120.28 L186.38,120.74 L186.27,121.20 L186.16,121.66 L186.05,122.12 L185.93,122.58 L185.82,123.04 L185.71,123.49 L185.59,123.95 L185.48,124.41 L185.37,124.87 L185.26,125.33 L185.14,125.79 L185.03,126.25 L184.92,126.71 L184.82,127.17 L184.70,127.63 L184.56,128.09 L184.39,128.55 L184.19,129.00 L183.97,129.46 L183.72,129.92 L183.42,130.38 L183.05,130.84 L182.20,131.30 L182.20,131.30 L181.35,130.84 L180.98,130.38 L180.68,129.92 L180.43,129.46 L180.21,129.00 L180.01,128.55 L179.84,128.09 L179.70,127.63 L179.58,127.17 L179.48,126.71 L179.37,126.25 L179.26,125.79 L179.14,125.33 L179.03,124.87 L178.92,124.41 L178.81,123.95 L178.69,123.49 L178.58,123.04 L178.47,122.58 L178.35,122.12 L178.24,121.66 L178.13,121.20 L178.02,120.74 L177.92,120.28 L177.81,119.82 L177.71,119.36 L177.61,118.90 L177.51,118.44 L177.42,117.99 L177.32,117.53 L177.24,117.07 L177.15,116.61 L177.07,116.15 L177.00,115.69 L176.93,115.23 L176.86,114.77 L176.80,114.31 L176.75,113.85 L176.70,113.39 L176.65,112.94 L176.61,112.48 L176.58,112.02 L176.55,111.56 L176.53,111.10 L176.51,110.64 L176.50,110.18 L176.50,109.72 L176.50,109.26 L176.51,108.80 L176.52,108.34 L176.54,107.88 L176.56,107.43 L176.59,106.97 L176.62,106.51 L176.65,106.05 L176.69,105.59 L176.74,105.13 L176.79,104.67 L176.84,104.21 L176.90,103.75 L176.96,103.29 L177.03,102.83 L177.09,102.38 L177.17,101.92 L177.24,101.46 L177.32,101.00 L177.40,100.54 L177.49,100.08 L177.57,99.62 L177.66,99.16 L177.75,98.70 L177.85,98.24 L177.94,97.78 L178.04,97.33 L178.14,96.87 L178.24,96.41 L178.34,95.95 L178.44,95.49 L178.54,95.03 L178.64,94.57 L178.74,94.11 L178.84,93.65 L178.94,93.19 L179.04,92.73 L179.15,92.27 L179.25,91.82 L179.34,91.36 L179.44,90.90 L179.54,90.44 L179.64,89.98 L179.73,89.52 L179.82,89.06 L179.92,88.60 L180.01,88.14 L180.09,87.68 L180.18,87.22 L180.27,86.77 L180.35,86.31 L180.43,85.85 L180.51,85.39 L180.58,84.93 L180.66,84.47 L180.73,84.01 L180.80,83.55 L180.87,83.09 L180.93,82.63 L181.00,82.17 L181.06,81.72 L181.12,81.26 L181.18,80.80 L181.23,80.34 L181.28,79.88 L181.33,79.42 L181.38,78.96 L181.43,78.50 L181.47,78.04 L181.52,77.58 L181.56,77.12 L181.59,76.66 L181.63,76.21 L181.67,75.75 L181.70,75.29 L181.73,74.83 L181.76,74.37 L181.79,73.91 L181.82,73.45 L181.84,72.99 L181.87,72.53 L181.89,72.07 L181.91,71.61 L181.93,71.16 L181.95,70.70 L181.97,70.24 L181.98,69.78 L182.00,69.32 L182.01,68.86 L182.03,68.40 L182.04,67.94 L182.05,67.48 L182.06,67.02 L182.08,66.56 L182.09,66.11 L182.09,65.65 L182.10,65.19 L182.10,64.73 L182.10,64.27 L182.10,63.81 L182.10,63.35 L182.10,62.89 L182.10,62.43 L182.10,61.97 L182.10,61.51 L182.10,61.05 L182.10,60.60 L182.10,60.14 L182.10,59.68 L182.10,59.22 L182.10,58.76 L182.10,58.30Z" fill="#cdcdcd" stroke="#666" stroke-width="0.8" stroke-linejoin="round"/>
<line x1="176.65" y1="106.10" x2="187.75" y2="106.10" stroke="#555" stroke-width="1.0"/>
<line x1="182.20" y1="138.20" x2="182.20" y2="140.40" stroke="#8c8c8c" stroke-width="0.9"/>
<text x="0" y="0" font-size="7.982" text-anchor="end" transform="translate(184.10 142.60) rotate(-90) scale(1.1 1)" stroke="#111" stroke-width="0.28">HBCx-23</text>
<path d="M195.00,22.30 L195.00,22.99 L195.00,23.67 L195.00,24.36 L195.00,25.04 L195.00,25.73 L195.00,26.41 L195.00,27.10 L195.00,27.78 L195.00,28.47 L195.00,29.16 L195.00,29.84 L195.00,30.53 L195.00,31.21 L195.00,31.90 L195.00,32.58 L195.00,33.27 L195.00,33.95 L195.00,34.64 L195.00,35.33 L195.00,36.01 L195.00,36.70 L195.00,37.38 L195.00,38.07 L195.00,38.75 L195.00,39.44 L195.00,40.12 L195.00,40.81 L195.00,41.49 L195.00,42.18 L195.00,42.87 L195.00,43.55 L195.00,44.24 L195.00,44.92 L195.00,45.61 L195.00,46.29 L195.00,46.98 L195.00,47.66 L195.00,48.35 L195.00,49.04 L195.00,49.72 L195.00,50.41 L195.00,51.09 L195.00,51.78 L195.00,52.46 L195.00,53.15 L195.00,53.83 L195.00,54.52 L195.00,55.21 L195.00,55.89 L195.00,56.58 L195.01,57.26 L195.03,57.95 L195.04,58.63 L195.05,59.32 L195.07,60.00 L195.08,60.69 L195.10,61.38 L195.12,62.06 L195.14,62.75 L195.16,63.43 L195.19,64.12 L195.21,64.80 L195.24,65.49 L195.27,66.17 L195.30,66.86 L195.33,67.55 L195.37,68.23 L195.41,68.92 L195.45,69.60 L195.49,70.29 L195.53,70.97 L195.58,71.66 L195.63,72.34 L195.69,73.03 L195.74,73.72 L195.80,74.40 L195.86,75.09 L195.93,75.77 L195.99,76.46 L196.06,77.14 L196.14,77.83 L196.22,78.51 L196.29,79.20 L196.38,79.88 L196.46,80.57 L196.55,81.26 L196.64,81.94 L196.74,82.63 L196.83,83.31 L196.93,84.00 L197.04,84.68 L197.14,85.37 L197.25,86.05 L197.36,86.74 L197.47,87.43 L197.58,88.11 L197.69,88.80 L197.81,89.48 L197.92,90.17 L198.04,90.85 L198.16,91.54 L198.27,92.22 L198.39,92.91 L198.51,93.60 L198.62,94.28 L198.74,94.97 L198.85,95.65 L198.97,96.34 L199.08,97.02 L199.18,97.71 L199.29,98.39 L199.39,99.08 L199.49,99.77 L199.58,100.45 L199.68,101.14 L199.76,101.82 L199.85,102.51 L199.92,103.19 L200.00,103.88 L200.06,104.56 L200.12,105.25 L200.18,105.94 L200.23,106.62 L200.27,107.31 L200.31,107.99 L200.34,108.68 L200.37,109.36 L200.38,110.05 L200.40,110.73 L200.40,111.42 L200.40,112.11 L200.40,112.79 L200.39,113.48 L200.37,114.16 L200.35,114.85 L200.31,115.53 L200.25,116.22 L200.18,116.90 L200.08,117.59 L199.97,118.27 L199.83,118.96 L199.67,119.65 L199.49,120.33 L199.29,121.02 L199.06,121.70 L198.82,122.39 L198.56,123.07 L198.29,123.76 L198.01,124.44 L197.73,125.13 L197.45,125.82 L197.17,126.50 L196.90,127.19 L196.64,127.87 L196.40,128.56 L196.17,129.24 L195.97,129.93 L195.74,130.61 L194.90,131.30 L194.90,131.30 L194.06,130.61 L193.83,129.93 L193.63,129.24 L193.40,128.56 L193.16,127.87 L192.90,127.19 L192.63,126.50 L192.35,125.82 L192.07,125.13 L191.79,124.44 L191.51,123.76 L191.24,123.07 L190.98,122.39 L190.74,121.70 L190.51,121.02 L190.31,120.33 L190.13,119.65 L189.97,118.96 L189.83,118.27 L189.72,117.59 L189.62,116.90 L189.55,116.22 L189.49,115.53 L189.45,114.85 L189.43,114.16 L189.41,113.48 L189.40,112.79 L189.40,112.11 L189.40,111.42 L189.40,110.73 L189.42,110.05 L189.43,109.36 L189.46,108.68 L189.49,107.99 L189.53,107.31 L189.57,106.62 L189.62,105.94 L189.68,105.25 L189.74,104.56 L189.80,103.88 L189.88,103.19 L189.95,102.51 L190.04,101.82 L190.12,101.14 L190.22,100.45 L190.31,99.77 L190.41,99.08 L190.51,98.39 L190.62,97.71 L190.72,97.02 L190.83,96.34 L190.95,95.65 L191.06,94.97 L191.18,94.28 L191.29,93.60 L191.41,92.91 L191.53,92.22 L191.64,91.54 L191.76,90.85 L191.88,90.17 L191.99,89.48 L192.11,88.80 L192.22,88.11 L192.33,87.43 L192.44,86.74 L192.55,86.05 L192.66,85.37 L192.76,84.68 L192.87,84.00 L192.97,83.31 L193.06,82.63 L193.16,81.94 L193.25,81.26 L193.34,80.57 L193.42,79.88 L193.51,79.20 L193.58,78.51 L193.66,77.83 L193.74,77.14 L193.81,76.46 L193.87,75.77 L193.94,75.09 L194.00,74.40 L194.06,73.72 L194.11,73.03 L194.17,72.34 L194.22,71.66 L194.27,70.97 L194.31,70.29 L194.35,69.60 L194.39,68.92 L194.43,68.23 L194.47,67.55 L194.50,66.86 L194.53,66.17 L194.56,65.49 L194.59,64.80 L194.61,64.12 L194.64,63.43 L194.66,62.75 L194.68,62.06 L194.70,61.38 L194.72,60.69 L194.73,60.00 L194.75,59.32 L194.76,58.63 L194.77,57.95 L194.79,57.26 L194.80,56.58 L194.80,55.89 L194.80,55.21 L194.80,54.52 L194.80,53.83 L194.80,53.15 L194.80,52.46 L194.80,51.78 L194.80,51.09 L194.80,50.41 L194.80,49.72 L194.80,49.04 L194.80,48.35 L194.80,47.66 L194.80,46.98 L194.80,46.29 L194.80,45.61 L194.80,44.92 L194.80,44.24 L194.80,43.55 L194.80,42.87 L194.80,42.18 L194.80,41.49 L194.80,40.81 L194.80,40.12 L194.80,39.44 L194.80,38.75 L194.80,38.07 L194.80,37.38 L194.80,36.70 L194.80,36.01 L194.80,35.33 L194.80,34.64 L194.80,33.95 L194.80,33.27 L194.80,32.58 L194.80,31.90 L194.80,31.21 L194.80,30.53 L194.80,29.84 L194.80,29.16 L194.80,28.47 L194.80,27.78 L194.80,27.10 L194.80,26.41 L194.80,25.73 L194.80,25.04 L194.80,24.36 L194.80,23.67 L194.80,22.99 L194.80,22.30Z" fill="#cdcdcd" stroke="#666" stroke-width="0.8" stroke-linejoin="round"/>
<line x1="189.46" y1="108.70" x2="200.34" y2="108.70" stroke="#555" stroke-width="1.0"/>
<line x1="194.90" y1="138.20" x2="194.90" y2="140.40" stroke="#8c8c8c" stroke-width="0.9"/>
<text x="0" y="0" font-size="7.982" text-anchor="end" transform="translate(196.80 142.60) rotate(-90) scale(1.1 1)" stroke="#111" stroke-width="0.28">T168</text>
<path d="M207.20,76.00 L207.20,76.34 L207.20,76.67 L207.20,77.01 L207.20,77.34 L207.20,77.68 L207.20,78.02 L207.20,78.35 L207.20,78.69 L207.20,79.02 L207.20,79.36 L207.20,79.69 L207.20,80.03 L207.20,80.37 L207.20,80.70 L207.20,81.04 L207.20,81.37 L207.20,81.71 L207.20,82.05 L207.20,82.38 L207.20,82.72 L207.20,83.05 L207.20,83.39 L207.20,83.72 L207.20,84.06 L207.20,84.40 L207.20,84.73 L207.20,85.07 L207.20,85.40 L207.20,85.74 L207.20,86.08 L207.20,86.41 L207.20,86.75 L207.20,87.08 L207.20,87.42 L207.20,87.75 L207.20,88.09 L207.20,88.43 L207.20,88.76 L207.20,89.10 L207.20,89.43 L207.20,89.77 L207.20,90.11 L207.20,90.44 L207.20,90.78 L207.20,91.11 L207.20,91.45 L207.20,91.78 L207.20,92.12 L207.20,92.46 L207.20,92.79 L207.20,93.13 L207.20,93.46 L207.20,93.80 L207.20,94.14 L207.20,94.47 L207.20,94.81 L207.20,95.14 L207.20,95.48 L207.20,95.82 L207.20,96.15 L207.20,96.49 L207.21,96.82 L207.23,97.16 L207.25,97.49 L207.27,97.83 L207.29,98.17 L207.32,98.50 L207.35,98.84 L207.38,99.17 L207.42,99.51 L207.46,99.85 L207.51,100.18 L207.56,100.52 L207.61,100.85 L207.67,101.19 L207.73,101.52 L207.80,101.86 L207.88,102.20 L207.96,102.53 L208.05,102.87 L208.14,103.20 L208.24,103.54 L208.34,103.88 L208.45,104.21 L208.57,104.55 L208.69,104.88 L208.82,105.22 L208.95,105.55 L209.09,105.89 L209.24,106.23 L209.38,106.56 L209.54,106.90 L209.69,107.23 L209.85,107.57 L210.01,107.91 L210.17,108.24 L210.33,108.58 L210.48,108.91 L210.64,109.25 L210.80,109.58 L210.95,109.92 L211.09,110.26 L211.24,110.59 L211.37,110.93 L211.50,111.26 L211.62,111.60 L211.73,111.94 L211.83,112.27 L211.92,112.61 L212.00,112.94 L212.06,113.28 L212.12,113.62 L212.16,113.95 L212.18,114.29 L212.20,114.62 L212.20,114.96 L212.20,115.29 L212.19,115.63 L212.18,115.97 L212.16,116.30 L212.13,116.64 L212.09,116.97 L212.03,117.31 L211.96,117.65 L211.87,117.98 L211.76,118.32 L211.62,118.65 L211.47,118.99 L211.30,119.32 L211.11,119.66 L210.90,120.00 L210.68,120.33 L210.44,120.67 L210.19,121.00 L209.94,121.34 L209.68,121.68 L209.42,122.01 L209.17,122.35 L208.92,122.68 L208.69,123.02 L208.47,123.35 L208.27,123.69 L208.08,124.03 L207.91,124.36 L207.77,124.70 L207.64,125.03 L207.53,125.37 L207.44,125.71 L207.36,126.04 L207.30,126.38 L207.25,126.71 L207.21,127.05 L207.20,127.38 L207.20,127.72 L207.20,128.06 L207.20,128.39 L207.19,128.73 L207.17,129.06 L207.10,129.40 L207.10,129.40 L207.03,129.06 L207.01,128.73 L207.00,128.39 L207.00,128.06 L207.00,127.72 L207.00,127.38 L206.99,127.05 L206.95,126.71 L206.90,126.38 L206.84,126.04 L206.76,125.71 L206.67,125.37 L206.56,125.03 L206.43,124.70 L206.29,124.36 L206.12,124.03 L205.93,123.69 L205.73,123.35 L205.51,123.02 L205.28,122.68 L205.03,122.35 L204.78,122.01 L204.52,121.68 L204.26,121.34 L204.01,121.00 L203.76,120.67 L203.52,120.33 L203.30,120.00 L203.09,119.66 L202.90,119.32 L202.73,118.99 L202.58,118.65 L202.44,118.32 L202.33,117.98 L202.24,117.65 L202.17,117.31 L202.11,116.97 L202.07,116.64 L202.04,116.30 L202.02,115.97 L202.01,115.63 L202.00,115.29 L202.00,114.96 L202.00,114.62 L202.02,114.29 L202.04,113.95 L202.08,113.62 L202.14,113.28 L202.20,112.94 L202.28,112.61 L202.37,112.27 L202.47,111.94 L202.58,111.60 L202.70,111.26 L202.83,110.93 L202.96,110.59 L203.11,110.26 L203.25,109.92 L203.40,109.58 L203.56,109.25 L203.72,108.91 L203.87,108.58 L204.03,108.24 L204.19,107.91 L204.35,107.57 L204.51,107.23 L204.66,106.90 L204.82,106.56 L204.96,106.23 L205.11,105.89 L205.25,105.55 L205.38,105.22 L205.51,104.88 L205.63,104.55 L205.75,104.21 L205.86,103.88 L205.96,103.54 L206.06,103.20 L206.15,102.87 L206.24,102.53 L206.32,102.20 L206.40,101.86 L206.47,101.52 L206.53,101.19 L206.59,100.85 L206.64,100.52 L206.69,100.18 L206.74,99.85 L206.78,99.51 L206.82,99.17 L206.85,98.84 L206.88,98.50 L206.91,98.17 L206.93,97.83 L206.95,97.49 L206.97,97.16 L206.99,96.82 L207.00,96.49 L207.00,96.15 L207.00,95.82 L207.00,95.48 L207.00,95.14 L207.00,94.81 L207.00,94.47 L207.00,94.14 L207.00,93.80 L207.00,93.46 L207.00,93.13 L207.00,92.79 L207.00,92.46 L207.00,92.12 L207.00,91.78 L207.00,91.45 L207.00,91.11 L207.00,90.78 L207.00,90.44 L207.00,90.11 L207.00,89.77 L207.00,89.43 L207.00,89.10 L207.00,88.76 L207.00,88.43 L207.00,88.09 L207.00,87.75 L207.00,87.42 L207.00,87.08 L207.00,86.75 L207.00,86.41 L207.00,86.08 L207.00,85.74 L207.00,85.40 L207.00,85.07 L207.00,84.73 L207.00,84.40 L207.00,84.06 L207.00,83.72 L207.00,83.39 L207.00,83.05 L207.00,82.72 L207.00,82.38 L207.00,82.05 L207.00,81.71 L207.00,81.37 L207.00,81.04 L207.00,80.70 L207.00,80.37 L207.00,80.03 L207.00,79.69 L207.00,79.36 L207.00,79.02 L207.00,78.69 L207.00,78.35 L207.00,78.02 L207.00,77.68 L207.00,77.34 L207.00,77.01 L207.00,76.67 L207.00,76.34 L207.00,76.00Z" fill="#cdcdcd" stroke="#666" stroke-width="0.8" stroke-linejoin="round"/>
<ellipse cx="207.10" cy="129.6" rx="1.4" ry="1.54" fill="#cdcdcd" stroke="#6a6a6a" stroke-width="0.75"/>
<line x1="202.00" y1="115.40" x2="212.20" y2="115.40" stroke="#555" stroke-width="1.0"/>
<line x1="207.10" y1="138.20" x2="207.10" y2="140.40" stroke="#8c8c8c" stroke-width="0.9"/>
<text x="0" y="0" font-size="7.982" text-anchor="end" transform="translate(209.00 142.60) rotate(-90) scale(1.1 1)" stroke="#111" stroke-width="0.28">T298</text>
<path d="M219.60,69.70 L219.60,70.09 L219.60,70.47 L219.60,70.86 L219.60,71.25 L219.60,71.64 L219.60,72.02 L219.60,72.41 L219.60,72.80 L219.60,73.19 L219.60,73.57 L219.60,73.96 L219.60,74.35 L219.60,74.74 L219.60,75.12 L219.60,75.51 L219.60,75.90 L219.60,76.29 L219.60,76.67 L219.60,77.06 L219.60,77.45 L219.60,77.84 L219.60,78.22 L219.60,78.61 L219.60,79.00 L219.60,79.39 L219.60,79.77 L219.60,80.16 L219.60,80.55 L219.60,80.94 L219.60,81.32 L219.60,81.71 L219.60,82.10 L219.60,82.48 L219.60,82.87 L219.60,83.26 L219.60,83.65 L219.60,84.03 L219.60,84.42 L219.60,84.81 L219.60,85.20 L219.60,85.58 L219.60,85.97 L219.60,86.36 L219.60,86.75 L219.60,87.13 L219.60,87.52 L219.60,87.91 L219.60,88.30 L219.60,88.68 L219.60,89.07 L219.60,89.46 L219.60,89.85 L219.60,90.23 L219.60,90.62 L219.60,91.01 L219.60,91.40 L219.60,91.78 L219.60,92.17 L219.60,92.56 L219.60,92.95 L219.60,93.33 L219.60,93.72 L219.60,94.11 L219.60,94.49 L219.60,94.88 L219.60,95.27 L219.60,95.66 L219.60,96.04 L219.60,96.43 L219.60,96.82 L219.60,97.21 L219.60,97.59 L219.60,97.98 L219.60,98.37 L219.60,98.76 L219.60,99.14 L219.60,99.53 L219.60,99.92 L219.61,100.31 L219.64,100.69 L219.66,101.08 L219.69,101.47 L219.72,101.86 L219.76,102.24 L219.81,102.63 L219.86,103.02 L219.91,103.41 L219.98,103.79 L220.05,104.18 L220.13,104.57 L220.21,104.96 L220.31,105.34 L220.41,105.73 L220.52,106.12 L220.65,106.51 L220.78,106.89 L220.92,107.28 L221.07,107.67 L221.23,108.05 L221.40,108.44 L221.57,108.83 L221.75,109.22 L221.94,109.60 L222.13,109.99 L222.32,110.38 L222.52,110.77 L222.71,111.15 L222.91,111.54 L223.10,111.93 L223.28,112.32 L223.46,112.70 L223.63,113.09 L223.79,113.48 L223.94,113.87 L224.07,114.25 L224.19,114.64 L224.29,115.03 L224.37,115.42 L224.43,115.80 L224.47,116.19 L224.50,116.58 L224.50,116.97 L224.50,117.35 L224.49,117.74 L224.48,118.13 L224.45,118.52 L224.41,118.90 L224.35,119.29 L224.28,119.68 L224.18,120.06 L224.06,120.45 L223.91,120.84 L223.74,121.23 L223.54,121.61 L223.32,122.00 L223.08,122.39 L222.83,122.78 L222.56,123.16 L222.28,123.55 L222.00,123.94 L221.72,124.33 L221.44,124.71 L221.18,125.10 L220.93,125.49 L220.70,125.88 L220.49,126.26 L220.31,126.65 L220.15,127.04 L220.01,127.43 L219.89,127.81 L219.80,128.20 L219.72,128.59 L219.66,128.98 L219.61,129.36 L219.60,129.75 L219.60,130.14 L219.60,130.53 L219.58,130.91 L219.50,131.30 L219.50,131.30 L219.42,130.91 L219.40,130.53 L219.40,130.14 L219.40,129.75 L219.39,129.36 L219.34,128.98 L219.28,128.59 L219.20,128.20 L219.11,127.81 L218.99,127.43 L218.85,127.04 L218.69,126.65 L218.51,126.26 L218.30,125.88 L218.07,125.49 L217.82,125.10 L217.56,124.71 L217.28,124.33 L217.00,123.94 L216.72,123.55 L216.44,123.16 L216.17,122.78 L215.92,122.39 L215.68,122.00 L215.46,121.61 L215.26,121.23 L215.09,120.84 L214.94,120.45 L214.82,120.06 L214.72,119.68 L214.65,119.29 L214.59,118.90 L214.55,118.52 L214.52,118.13 L214.51,117.74 L214.50,117.35 L214.50,116.97 L214.50,116.58 L214.53,116.19 L214.57,115.80 L214.63,115.42 L214.71,115.03 L214.81,114.64 L214.93,114.25 L215.06,113.87 L215.21,113.48 L215.37,113.09 L215.54,112.70 L215.72,112.32 L215.90,111.93 L216.09,111.54 L216.29,111.15 L216.48,110.77 L216.68,110.38 L216.87,109.99 L217.06,109.60 L217.25,109.22 L217.43,108.83 L217.60,108.44 L217.77,108.05 L217.93,107.67 L218.08,107.28 L218.22,106.89 L218.35,106.51 L218.48,106.12 L218.59,105.73 L218.69,105.34 L218.79,104.96 L218.87,104.57 L218.95,104.18 L219.02,103.79 L219.09,103.41 L219.14,103.02 L219.19,102.63 L219.24,102.24 L219.28,101.86 L219.31,101.47 L219.34,101.08 L219.36,100.69 L219.39,100.31 L219.40,99.92 L219.40,99.53 L219.40,99.14 L219.40,98.76 L219.40,98.37 L219.40,97.98 L219.40,97.59 L219.40,97.21 L219.40,96.82 L219.40,96.43 L219.40,96.04 L219.40,95.66 L219.40,95.27 L219.40,94.88 L219.40,94.49 L219.40,94.11 L219.40,93.72 L219.40,93.33 L219.40,92.95 L219.40,92.56 L219.40,92.17 L219.40,91.78 L219.40,91.40 L219.40,91.01 L219.40,90.62 L219.40,90.23 L219.40,89.85 L219.40,89.46 L219.40,89.07 L219.40,88.68 L219.40,88.30 L219.40,87.91 L219.40,87.52 L219.40,87.13 L219.40,86.75 L219.40,86.36 L219.40,85.97 L219.40,85.58 L219.40,85.20 L219.40,84.81 L219.40,84.42 L219.40,84.03 L219.40,83.65 L219.40,83.26 L219.40,82.87 L219.40,82.48 L219.40,82.10 L219.40,81.71 L219.40,81.32 L219.40,80.94 L219.40,80.55 L219.40,80.16 L219.40,79.77 L219.40,79.39 L219.40,79.00 L219.40,78.61 L219.40,78.22 L219.40,77.84 L219.40,77.45 L219.40,77.06 L219.40,76.67 L219.40,76.29 L219.40,75.90 L219.40,75.51 L219.40,75.12 L219.40,74.74 L219.40,74.35 L219.40,73.96 L219.40,73.57 L219.40,73.19 L219.40,72.80 L219.40,72.41 L219.40,72.02 L219.40,71.64 L219.40,71.25 L219.40,70.86 L219.40,70.47 L219.40,70.09 L219.40,69.70Z" fill="#cdcdcd" stroke="#666" stroke-width="0.8" stroke-linejoin="round"/>
<line x1="214.50" y1="117.10" x2="224.50" y2="117.10" stroke="#555" stroke-width="1.0"/>
<line x1="219.50" y1="138.20" x2="219.50" y2="140.40" stroke="#8c8c8c" stroke-width="0.9"/>
<text x="0" y="0" font-size="7.982" text-anchor="end" transform="translate(221.40 142.60) rotate(-90) scale(1.1 1)" stroke="#111" stroke-width="0.28">T180R</text>
<path d="M232.60,79.80 L232.60,80.12 L232.60,80.45 L232.60,80.77 L232.60,81.10 L232.60,81.42 L232.60,81.74 L232.60,82.07 L232.60,82.39 L232.60,82.72 L232.60,83.04 L232.60,83.36 L232.60,83.69 L232.60,84.01 L232.60,84.33 L232.60,84.66 L232.60,84.98 L232.60,85.31 L232.60,85.63 L232.60,85.95 L232.60,86.28 L232.60,86.60 L232.60,86.93 L232.60,87.25 L232.60,87.57 L232.60,87.90 L232.60,88.22 L232.60,88.55 L232.60,88.87 L232.60,89.19 L232.60,89.52 L232.60,89.84 L232.60,90.16 L232.60,90.49 L232.60,90.81 L232.60,91.14 L232.60,91.46 L232.60,91.78 L232.60,92.11 L232.60,92.43 L232.60,92.76 L232.60,93.08 L232.60,93.40 L232.60,93.73 L232.60,94.05 L232.60,94.38 L232.60,94.70 L232.60,95.02 L232.60,95.35 L232.60,95.67 L232.60,95.99 L232.60,96.32 L232.60,96.64 L232.60,96.97 L232.60,97.29 L232.60,97.61 L232.60,97.94 L232.60,98.26 L232.60,98.59 L232.60,98.91 L232.60,99.23 L232.60,99.56 L232.60,99.88 L232.60,100.21 L232.61,100.53 L232.63,100.85 L232.65,101.18 L232.67,101.50 L232.69,101.83 L232.72,102.15 L232.75,102.47 L232.78,102.80 L232.82,103.12 L232.86,103.44 L232.91,103.77 L232.95,104.09 L233.01,104.42 L233.07,104.74 L233.13,105.06 L233.20,105.39 L233.28,105.71 L233.36,106.04 L233.44,106.36 L233.54,106.68 L233.63,107.01 L233.74,107.33 L233.85,107.66 L233.97,107.98 L234.09,108.30 L234.22,108.63 L234.35,108.95 L234.49,109.27 L234.64,109.60 L234.79,109.92 L234.94,110.25 L235.09,110.57 L235.25,110.89 L235.41,111.22 L235.57,111.54 L235.74,111.87 L235.90,112.19 L236.06,112.51 L236.22,112.84 L236.37,113.16 L236.52,113.49 L236.67,113.81 L236.81,114.13 L236.94,114.46 L237.06,114.78 L237.18,115.11 L237.28,115.43 L237.38,115.75 L237.46,116.08 L237.54,116.40 L237.59,116.72 L237.64,117.05 L237.67,117.37 L237.69,117.70 L237.70,118.02 L237.70,118.34 L237.70,118.67 L237.69,118.99 L237.68,119.32 L237.65,119.64 L237.62,119.96 L237.57,120.29 L237.51,120.61 L237.43,120.94 L237.34,121.26 L237.22,121.58 L237.09,121.91 L236.94,122.23 L236.76,122.55 L236.58,122.88 L236.37,123.20 L236.15,123.53 L235.92,123.85 L235.67,124.17 L235.42,124.50 L235.17,124.82 L234.92,125.15 L234.67,125.47 L234.43,125.79 L234.19,126.12 L233.97,126.44 L233.77,126.77 L233.58,127.09 L233.40,127.41 L233.25,127.74 L233.11,128.06 L233.00,128.38 L232.90,128.71 L232.81,129.03 L232.74,129.36 L232.68,129.68 L232.64,130.00 L232.60,130.33 L232.59,130.65 L232.57,130.98 L232.50,131.30 L232.50,131.30 L232.43,130.98 L232.41,130.65 L232.40,130.33 L232.36,130.00 L232.32,129.68 L232.26,129.36 L232.19,129.03 L232.10,128.71 L232.00,128.38 L231.89,128.06 L231.75,127.74 L231.60,127.41 L231.42,127.09 L231.23,126.77 L231.03,126.44 L230.81,126.12 L230.57,125.79 L230.33,125.47 L230.08,125.15 L229.83,124.82 L229.58,124.50 L229.33,124.17 L229.08,123.85 L228.85,123.53 L228.63,123.20 L228.42,122.88 L228.24,122.55 L228.06,122.23 L227.91,121.91 L227.78,121.58 L227.66,121.26 L227.57,120.94 L227.49,120.61 L227.43,120.29 L227.38,119.96 L227.35,119.64 L227.32,119.32 L227.31,118.99 L227.30,118.67 L227.30,118.34 L227.30,118.02 L227.31,117.70 L227.33,117.37 L227.36,117.05 L227.41,116.72 L227.46,116.40 L227.54,116.08 L227.62,115.75 L227.72,115.43 L227.82,115.11 L227.94,114.78 L228.06,114.46 L228.19,114.13 L228.33,113.81 L228.48,113.49 L228.63,113.16 L228.78,112.84 L228.94,112.51 L229.10,112.19 L229.26,111.87 L229.43,111.54 L229.59,111.22 L229.75,110.89 L229.91,110.57 L230.06,110.25 L230.21,109.92 L230.36,109.60 L230.51,109.27 L230.65,108.95 L230.78,108.63 L230.91,108.30 L231.03,107.98 L231.15,107.66 L231.26,107.33 L231.37,107.01 L231.46,106.68 L231.56,106.36 L231.64,106.04 L231.72,105.71 L231.80,105.39 L231.87,105.06 L231.93,104.74 L231.99,104.42 L232.05,104.09 L232.09,103.77 L232.14,103.44 L232.18,103.12 L232.22,102.80 L232.25,102.47 L232.28,102.15 L232.31,101.83 L232.33,101.50 L232.35,101.18 L232.37,100.85 L232.39,100.53 L232.40,100.21 L232.40,99.88 L232.40,99.56 L232.40,99.23 L232.40,98.91 L232.40,98.59 L232.40,98.26 L232.40,97.94 L232.40,97.61 L232.40,97.29 L232.40,96.97 L232.40,96.64 L232.40,96.32 L232.40,95.99 L232.40,95.67 L232.40,95.35 L232.40,95.02 L232.40,94.70 L232.40,94.38 L232.40,94.05 L232.40,93.73 L232.40,93.40 L232.40,93.08 L232.40,92.76 L232.40,92.43 L232.40,92.11 L232.40,91.78 L232.40,91.46 L232.40,91.14 L232.40,90.81 L232.40,90.49 L232.40,90.16 L232.40,89.84 L232.40,89.52 L232.40,89.19 L232.40,88.87 L232.40,88.55 L232.40,88.22 L232.40,87.90 L232.40,87.57 L232.40,87.25 L232.40,86.93 L232.40,86.60 L232.40,86.28 L232.40,85.95 L232.40,85.63 L232.40,85.31 L232.40,84.98 L232.40,84.66 L232.40,84.33 L232.40,84.01 L232.40,83.69 L232.40,83.36 L232.40,83.04 L232.40,82.72 L232.40,82.39 L232.40,82.07 L232.40,81.74 L232.40,81.42 L232.40,81.10 L232.40,80.77 L232.40,80.45 L232.40,80.12 L232.40,79.80Z" fill="#cdcdcd" stroke="#666" stroke-width="0.8" stroke-linejoin="round"/>
<line x1="227.30" y1="118.00" x2="237.70" y2="118.00" stroke="#555" stroke-width="1.0"/>
<line x1="232.50" y1="138.20" x2="232.50" y2="140.40" stroke="#8c8c8c" stroke-width="0.9"/>
<text x="0" y="0" font-size="7.982" text-anchor="end" transform="translate(234.40 142.60) rotate(-90) scale(1.1 1)" stroke="#111" stroke-width="0.28">HBCx-1</text>
<path d="M245.10,76.20 L245.10,76.55 L245.10,76.89 L245.10,77.24 L245.10,77.59 L245.10,77.93 L245.10,78.28 L245.10,78.63 L245.10,78.97 L245.10,79.32 L245.10,79.67 L245.10,80.01 L245.10,80.36 L245.10,80.71 L245.10,81.05 L245.10,81.40 L245.10,81.74 L245.10,82.09 L245.10,82.44 L245.10,82.78 L245.10,83.13 L245.10,83.48 L245.10,83.82 L245.10,84.17 L245.10,84.52 L245.10,84.86 L245.10,85.21 L245.10,85.56 L245.10,85.90 L245.10,86.25 L245.10,86.60 L245.10,86.94 L245.10,87.29 L245.10,87.64 L245.10,87.98 L245.10,88.33 L245.10,88.68 L245.10,89.02 L245.10,89.37 L245.10,89.72 L245.10,90.06 L245.10,90.41 L245.10,90.75 L245.10,91.10 L245.10,91.45 L245.10,91.79 L245.10,92.14 L245.10,92.49 L245.10,92.83 L245.10,93.18 L245.10,93.53 L245.10,93.87 L245.10,94.22 L245.10,94.57 L245.10,94.91 L245.10,95.26 L245.10,95.61 L245.10,95.95 L245.10,96.30 L245.10,96.65 L245.10,96.99 L245.10,97.34 L245.10,97.69 L245.10,98.03 L245.10,98.38 L245.10,98.73 L245.10,99.07 L245.10,99.42 L245.10,99.76 L245.10,100.11 L245.10,100.46 L245.10,100.80 L245.10,101.15 L245.10,101.50 L245.10,101.84 L245.10,102.19 L245.10,102.54 L245.10,102.88 L245.10,103.23 L245.10,103.58 L245.11,103.92 L245.13,104.27 L245.15,104.62 L245.18,104.96 L245.21,105.31 L245.25,105.66 L245.29,106.00 L245.33,106.35 L245.38,106.70 L245.44,107.04 L245.51,107.39 L245.58,107.74 L245.66,108.08 L245.75,108.43 L245.85,108.77 L245.95,109.12 L246.07,109.47 L246.19,109.81 L246.32,110.16 L246.46,110.51 L246.61,110.85 L246.77,111.20 L246.94,111.55 L247.11,111.89 L247.29,112.24 L247.48,112.59 L247.66,112.93 L247.86,113.28 L248.05,113.63 L248.25,113.97 L248.44,114.32 L248.63,114.67 L248.82,115.01 L249.00,115.36 L249.17,115.71 L249.33,116.05 L249.48,116.40 L249.62,116.75 L249.74,117.09 L249.84,117.44 L249.93,117.78 L250.00,118.13 L250.06,118.48 L250.09,118.82 L250.10,119.17 L250.10,119.52 L250.10,119.86 L250.09,120.21 L250.06,120.56 L250.03,120.90 L249.98,121.25 L249.90,121.60 L249.81,121.94 L249.69,122.29 L249.54,122.64 L249.37,122.98 L249.17,123.33 L248.95,123.68 L248.71,124.02 L248.44,124.37 L248.16,124.72 L247.87,125.06 L247.58,125.41 L247.29,125.76 L247.00,126.10 L246.72,126.45 L246.47,126.79 L246.23,127.14 L246.01,127.49 L245.82,127.83 L245.65,128.18 L245.51,128.53 L245.39,128.87 L245.29,129.22 L245.21,129.57 L245.15,129.91 L245.11,130.26 L245.10,130.61 L245.08,130.95 L245.00,131.30 L245.00,131.30 L244.92,130.95 L244.90,130.61 L244.89,130.26 L244.85,129.91 L244.79,129.57 L244.71,129.22 L244.61,128.87 L244.49,128.53 L244.35,128.18 L244.18,127.83 L243.99,127.49 L243.77,127.14 L243.53,126.79 L243.28,126.45 L243.00,126.10 L242.71,125.76 L242.42,125.41 L242.13,125.06 L241.84,124.72 L241.56,124.37 L241.29,124.02 L241.05,123.68 L240.83,123.33 L240.63,122.98 L240.46,122.64 L240.31,122.29 L240.19,121.94 L240.10,121.60 L240.02,121.25 L239.97,120.90 L239.94,120.56 L239.91,120.21 L239.90,119.86 L239.90,119.52 L239.90,119.17 L239.91,118.82 L239.94,118.48 L240.00,118.13 L240.07,117.78 L240.16,117.44 L240.26,117.09 L240.38,116.75 L240.52,116.40 L240.67,116.05 L240.83,115.71 L241.00,115.36 L241.18,115.01 L241.37,114.67 L241.56,114.32 L241.75,113.97 L241.95,113.63 L242.14,113.28 L242.34,112.93 L242.52,112.59 L242.71,112.24 L242.89,111.89 L243.06,111.55 L243.23,111.20 L243.39,110.85 L243.54,110.51 L243.68,110.16 L243.81,109.81 L243.93,109.47 L244.05,109.12 L244.15,108.77 L244.25,108.43 L244.34,108.08 L244.42,107.74 L244.49,107.39 L244.56,107.04 L244.62,106.70 L244.67,106.35 L244.71,106.00 L244.75,105.66 L244.79,105.31 L244.82,104.96 L244.85,104.62 L244.87,104.27 L244.89,103.92 L244.90,103.58 L244.90,103.23 L244.90,102.88 L244.90,102.54 L244.90,102.19 L244.90,101.84 L244.90,101.50 L244.90,101.15 L244.90,100.80 L244.90,100.46 L244.90,100.11 L244.90,99.76 L244.90,99.42 L244.90,99.07 L244.90,98.73 L244.90,98.38 L244.90,98.03 L244.90,97.69 L244.90,97.34 L244.90,96.99 L244.90,96.65 L244.90,96.30 L244.90,95.95 L244.90,95.61 L244.90,95.26 L244.90,94.91 L244.90,94.57 L244.90,94.22 L244.90,93.87 L244.90,93.53 L244.90,93.18 L244.90,92.83 L244.90,92.49 L244.90,92.14 L244.90,91.79 L244.90,91.45 L244.90,91.10 L244.90,90.75 L244.90,90.41 L244.90,90.06 L244.90,89.72 L244.90,89.37 L244.90,89.02 L244.90,88.68 L244.90,88.33 L244.90,87.98 L244.90,87.64 L244.90,87.29 L244.90,86.94 L244.90,86.60 L244.90,86.25 L244.90,85.90 L244.90,85.56 L244.90,85.21 L244.90,84.86 L244.90,84.52 L244.90,84.17 L244.90,83.82 L244.90,83.48 L244.90,83.13 L244.90,82.78 L244.90,82.44 L244.90,82.09 L244.90,81.74 L244.90,81.40 L244.90,81.05 L244.90,80.71 L244.90,80.36 L244.90,80.01 L244.90,79.67 L244.90,79.32 L244.90,78.97 L244.90,78.63 L244.90,78.28 L244.90,77.93 L244.90,77.59 L244.90,77.24 L244.90,76.89 L244.90,76.55 L244.90,76.20Z" fill="#cdcdcd" stroke="#666" stroke-width="0.8" stroke-linejoin="round"/>
<line x1="239.90" y1="119.50" x2="250.10" y2="119.50" stroke="#555" stroke-width="1.0"/>
<line x1="245.00" y1="138.20" x2="245.00" y2="140.40" stroke="#8c8c8c" stroke-width="0.9"/>
<text x="0" y="0" font-size="7.982" text-anchor="end" transform="translate(246.90 142.60) rotate(-90) scale(1.1 1)" stroke="#111" stroke-width="0.28">HBCx-14</text>
<path d="M257.50,87.80 L257.50,88.07 L257.50,88.35 L257.50,88.62 L257.50,88.89 L257.50,89.17 L257.50,89.44 L257.50,89.72 L257.50,89.99 L257.50,90.26 L257.50,90.54 L257.50,90.81 L257.50,91.08 L257.50,91.36 L257.50,91.63 L257.50,91.90 L257.50,92.18 L257.50,92.45 L257.50,92.72 L257.50,93.00 L257.50,93.27 L257.50,93.55 L257.50,93.82 L257.50,94.09 L257.50,94.37 L257.50,94.64 L257.50,94.91 L257.50,95.19 L257.50,95.46 L257.50,95.73 L257.50,96.01 L257.50,96.28 L257.50,96.55 L257.50,96.83 L257.50,97.10 L257.50,97.38 L257.50,97.65 L257.50,97.92 L257.50,98.20 L257.50,98.47 L257.50,98.74 L257.50,99.02 L257.50,99.29 L257.50,99.56 L257.50,99.84 L257.50,100.11 L257.50,100.38 L257.50,100.66 L257.50,100.93 L257.50,101.21 L257.50,101.48 L257.50,101.75 L257.50,102.03 L257.50,102.30 L257.50,102.57 L257.50,102.85 L257.50,103.12 L257.50,103.39 L257.50,103.67 L257.50,103.94 L257.50,104.22 L257.50,104.49 L257.50,104.76 L257.50,105.04 L257.50,105.31 L257.51,105.58 L257.53,105.86 L257.55,106.13 L257.57,106.40 L257.59,106.68 L257.62,106.95 L257.65,107.22 L257.68,107.50 L257.72,107.77 L257.76,108.05 L257.81,108.32 L257.85,108.59 L257.91,108.87 L257.97,109.14 L258.03,109.41 L258.10,109.69 L258.17,109.96 L258.25,110.23 L258.34,110.51 L258.43,110.78 L258.53,111.05 L258.63,111.33 L258.74,111.60 L258.86,111.88 L258.98,112.15 L259.10,112.42 L259.24,112.70 L259.37,112.97 L259.51,113.24 L259.66,113.52 L259.81,113.79 L259.96,114.06 L260.11,114.34 L260.27,114.61 L260.42,114.88 L260.58,115.16 L260.74,115.43 L260.89,115.71 L261.04,115.98 L261.19,116.25 L261.33,116.53 L261.47,116.80 L261.60,117.07 L261.73,117.35 L261.84,117.62 L261.95,117.89 L262.05,118.17 L262.13,118.44 L262.21,118.72 L262.27,118.99 L262.32,119.26 L262.36,119.54 L262.39,119.81 L262.40,120.08 L262.40,120.36 L262.40,120.63 L262.39,120.90 L262.38,121.18 L262.37,121.45 L262.34,121.72 L262.30,122.00 L262.24,122.27 L262.18,122.55 L262.09,122.82 L261.99,123.09 L261.87,123.37 L261.73,123.64 L261.57,123.91 L261.39,124.19 L261.20,124.46 L260.99,124.73 L260.77,125.01 L260.54,125.28 L260.30,125.55 L260.05,125.83 L259.81,126.10 L259.56,126.38 L259.33,126.65 L259.10,126.92 L258.88,127.20 L258.68,127.47 L258.49,127.74 L258.31,128.02 L258.16,128.29 L258.02,128.56 L257.91,128.84 L257.80,129.11 L257.72,129.38 L257.65,129.66 L257.59,129.93 L257.54,130.21 L257.50,130.48 L257.49,130.75 L257.47,131.03 L257.40,131.30 L257.40,131.30 L257.33,131.03 L257.31,130.75 L257.30,130.48 L257.26,130.21 L257.21,129.93 L257.15,129.66 L257.08,129.38 L257.00,129.11 L256.89,128.84 L256.78,128.56 L256.64,128.29 L256.49,128.02 L256.31,127.74 L256.12,127.47 L255.92,127.20 L255.70,126.92 L255.47,126.65 L255.24,126.38 L254.99,126.10 L254.75,125.83 L254.50,125.55 L254.26,125.28 L254.03,125.01 L253.81,124.73 L253.60,124.46 L253.41,124.19 L253.23,123.91 L253.07,123.64 L252.93,123.37 L252.81,123.09 L252.71,122.82 L252.62,122.55 L252.56,122.27 L252.50,122.00 L252.46,121.72 L252.43,121.45 L252.42,121.18 L252.41,120.90 L252.40,120.63 L252.40,120.36 L252.40,120.08 L252.41,119.81 L252.44,119.54 L252.48,119.26 L252.53,118.99 L252.59,118.72 L252.67,118.44 L252.75,118.17 L252.85,117.89 L252.96,117.62 L253.07,117.35 L253.20,117.07 L253.33,116.80 L253.47,116.53 L253.61,116.25 L253.76,115.98 L253.91,115.71 L254.06,115.43 L254.22,115.16 L254.38,114.88 L254.53,114.61 L254.69,114.34 L254.84,114.06 L254.99,113.79 L255.14,113.52 L255.29,113.24 L255.43,112.97 L255.56,112.70 L255.70,112.42 L255.82,112.15 L255.94,111.88 L256.06,111.60 L256.17,111.33 L256.27,111.05 L256.37,110.78 L256.46,110.51 L256.55,110.23 L256.63,109.96 L256.70,109.69 L256.77,109.41 L256.83,109.14 L256.89,108.87 L256.95,108.59 L256.99,108.32 L257.04,108.05 L257.08,107.77 L257.12,107.50 L257.15,107.22 L257.18,106.95 L257.21,106.68 L257.23,106.40 L257.25,106.13 L257.27,105.86 L257.29,105.58 L257.30,105.31 L257.30,105.04 L257.30,104.76 L257.30,104.49 L257.30,104.22 L257.30,103.94 L257.30,103.67 L257.30,103.39 L257.30,103.12 L257.30,102.85 L257.30,102.57 L257.30,102.30 L257.30,102.03 L257.30,101.75 L257.30,101.48 L257.30,101.21 L257.30,100.93 L257.30,100.66 L257.30,100.38 L257.30,100.11 L257.30,99.84 L257.30,99.56 L257.30,99.29 L257.30,99.02 L257.30,98.74 L257.30,98.47 L257.30,98.20 L257.30,97.92 L257.30,97.65 L257.30,97.38 L257.30,97.10 L257.30,96.83 L257.30,96.55 L257.30,96.28 L257.30,96.01 L257.30,95.73 L257.30,95.46 L257.30,95.19 L257.30,94.91 L257.30,94.64 L257.30,94.37 L257.30,94.09 L257.30,93.82 L257.30,93.55 L257.30,93.27 L257.30,93.00 L257.30,92.72 L257.30,92.45 L257.30,92.18 L257.30,91.90 L257.30,91.63 L257.30,91.36 L257.30,91.08 L257.30,90.81 L257.30,90.54 L257.30,90.26 L257.30,89.99 L257.30,89.72 L257.30,89.44 L257.30,89.17 L257.30,88.89 L257.30,88.62 L257.30,88.35 L257.30,88.07 L257.30,87.80Z" fill="#cdcdcd" stroke="#666" stroke-width="0.8" stroke-linejoin="round"/>
<line x1="252.40" y1="120.20" x2="262.40" y2="120.20" stroke="#555" stroke-width="1.0"/>
<line x1="257.40" y1="138.20" x2="257.40" y2="140.40" stroke="#8c8c8c" stroke-width="0.9"/>
<text x="0" y="0" font-size="7.982" text-anchor="end" transform="translate(259.30 142.60) rotate(-90) scale(1.1 1)" stroke="#111" stroke-width="0.28">T174</text>
<path d="M270.10,62.10 L270.10,62.54 L270.10,62.98 L270.10,63.42 L270.10,63.85 L270.10,64.29 L270.10,64.73 L270.10,65.17 L270.10,65.61 L270.10,66.05 L270.10,66.48 L270.10,66.92 L270.10,67.36 L270.10,67.80 L270.10,68.24 L270.10,68.68 L270.10,69.11 L270.10,69.55 L270.10,69.99 L270.10,70.43 L270.10,70.87 L270.10,71.31 L270.10,71.74 L270.10,72.18 L270.10,72.62 L270.10,73.06 L270.10,73.50 L270.10,73.94 L270.10,74.37 L270.10,74.81 L270.10,75.25 L270.10,75.69 L270.10,76.13 L270.10,76.57 L270.10,77.00 L270.10,77.44 L270.10,77.88 L270.10,78.32 L270.10,78.76 L270.10,79.20 L270.10,79.63 L270.10,80.07 L270.10,80.51 L270.10,80.95 L270.10,81.39 L270.10,81.83 L270.10,82.26 L270.10,82.70 L270.10,83.14 L270.10,83.58 L270.10,84.02 L270.10,84.46 L270.10,84.89 L270.10,85.33 L270.10,85.77 L270.10,86.21 L270.10,86.65 L270.10,87.09 L270.10,87.53 L270.10,87.96 L270.10,88.40 L270.10,88.84 L270.10,89.28 L270.10,89.72 L270.10,90.16 L270.11,90.59 L270.11,91.03 L270.12,91.47 L270.13,91.91 L270.13,92.35 L270.14,92.79 L270.15,93.22 L270.16,93.66 L270.17,94.10 L270.17,94.54 L270.18,94.98 L270.19,95.42 L270.20,95.85 L270.21,96.29 L270.22,96.73 L270.24,97.17 L270.25,97.61 L270.26,98.05 L270.27,98.48 L270.29,98.92 L270.30,99.36 L270.32,99.80 L270.34,100.24 L270.35,100.68 L270.37,101.11 L270.39,101.55 L270.41,101.99 L270.43,102.43 L270.45,102.87 L270.48,103.31 L270.50,103.74 L270.53,104.18 L270.55,104.62 L270.58,105.06 L270.61,105.50 L270.64,105.94 L270.67,106.37 L270.71,106.81 L270.74,107.25 L270.78,107.69 L270.82,108.13 L270.86,108.57 L270.90,109.01 L270.95,109.44 L271.00,109.88 L271.04,110.32 L271.10,110.76 L271.15,111.20 L271.21,111.64 L271.26,112.07 L271.33,112.51 L271.39,112.95 L271.46,113.39 L271.53,113.83 L271.60,114.27 L271.68,114.70 L271.76,115.14 L271.84,115.58 L271.93,116.02 L272.02,116.46 L272.11,116.90 L272.21,117.33 L272.31,117.77 L272.42,118.21 L272.53,118.65 L272.65,119.09 L272.77,119.53 L272.89,119.96 L273.02,120.40 L273.16,120.84 L273.30,121.28 L273.44,121.72 L273.59,122.16 L273.75,122.59 L273.91,123.03 L274.07,123.47 L274.24,123.91 L274.41,124.35 L274.59,124.79 L274.78,125.22 L274.96,125.66 L275.14,126.10 L275.33,126.54 L275.49,126.98 L275.42,127.42 L275.19,127.85 L274.81,128.29 L274.33,128.73 L273.77,129.17 L273.19,129.61 L272.62,130.05 L272.08,130.48 L271.59,130.92 L270.99,131.36 L270.00,131.80 L270.00,131.80 L269.01,131.36 L268.41,130.92 L267.92,130.48 L267.38,130.05 L266.81,129.61 L266.23,129.17 L265.67,128.73 L265.19,128.29 L264.81,127.85 L264.58,127.42 L264.51,126.98 L264.67,126.54 L264.86,126.10 L265.04,125.66 L265.22,125.22 L265.41,124.79 L265.59,124.35 L265.76,123.91 L265.93,123.47 L266.09,123.03 L266.25,122.59 L266.41,122.16 L266.56,121.72 L266.70,121.28 L266.84,120.84 L266.98,120.40 L267.11,119.96 L267.23,119.53 L267.35,119.09 L267.47,118.65 L267.58,118.21 L267.69,117.77 L267.79,117.33 L267.89,116.90 L267.98,116.46 L268.07,116.02 L268.16,115.58 L268.24,115.14 L268.32,114.70 L268.40,114.27 L268.47,113.83 L268.54,113.39 L268.61,112.95 L268.67,112.51 L268.74,112.07 L268.79,111.64 L268.85,111.20 L268.90,110.76 L268.96,110.32 L269.00,109.88 L269.05,109.44 L269.10,109.01 L269.14,108.57 L269.18,108.13 L269.22,107.69 L269.26,107.25 L269.29,106.81 L269.33,106.37 L269.36,105.94 L269.39,105.50 L269.42,105.06 L269.45,104.62 L269.47,104.18 L269.50,103.74 L269.52,103.31 L269.55,102.87 L269.57,102.43 L269.59,101.99 L269.61,101.55 L269.63,101.11 L269.65,100.68 L269.66,100.24 L269.68,99.80 L269.70,99.36 L269.71,98.92 L269.73,98.48 L269.74,98.05 L269.75,97.61 L269.76,97.17 L269.78,96.73 L269.79,96.29 L269.80,95.85 L269.81,95.42 L269.82,94.98 L269.83,94.54 L269.83,94.10 L269.84,93.66 L269.85,93.22 L269.86,92.79 L269.87,92.35 L269.87,91.91 L269.88,91.47 L269.89,91.03 L269.89,90.59 L269.90,90.16 L269.90,89.72 L269.90,89.28 L269.90,88.84 L269.90,88.40 L269.90,87.96 L269.90,87.53 L269.90,87.09 L269.90,86.65 L269.90,86.21 L269.90,85.77 L269.90,85.33 L269.90,84.89 L269.90,84.46 L269.90,84.02 L269.90,83.58 L269.90,83.14 L269.90,82.70 L269.90,82.26 L269.90,81.83 L269.90,81.39 L269.90,80.95 L269.90,80.51 L269.90,80.07 L269.90,79.63 L269.90,79.20 L269.90,78.76 L269.90,78.32 L269.90,77.88 L269.90,77.44 L269.90,77.00 L269.90,76.57 L269.90,76.13 L269.90,75.69 L269.90,75.25 L269.90,74.81 L269.90,74.37 L269.90,73.94 L269.90,73.50 L269.90,73.06 L269.90,72.62 L269.90,72.18 L269.90,71.74 L269.90,71.31 L269.90,70.87 L269.90,70.43 L269.90,69.99 L269.90,69.55 L269.90,69.11 L269.90,68.68 L269.90,68.24 L269.90,67.80 L269.90,67.36 L269.90,66.92 L269.90,66.48 L269.90,66.05 L269.90,65.61 L269.90,65.17 L269.90,64.73 L269.90,64.29 L269.90,63.85 L269.90,63.42 L269.90,62.98 L269.90,62.54 L269.90,62.10Z" fill="#cdcdcd" stroke="#666" stroke-width="0.8" stroke-linejoin="round"/>
<line x1="266.36" y1="122.30" x2="273.64" y2="122.30" stroke="#555" stroke-width="1.0"/>
<line x1="270.00" y1="138.20" x2="270.00" y2="140.40" stroke="#8c8c8c" stroke-width="0.9"/>
<text x="0" y="0" font-size="7.982" text-anchor="end" transform="translate(271.90 142.60) rotate(-90) scale(1.1 1)" stroke="#111" stroke-width="0.28">HBCx-17</text>
<path d="M282.60,75.30 L282.60,75.65 L282.60,76.01 L282.60,76.36 L282.60,76.71 L282.60,77.07 L282.60,77.42 L282.60,77.77 L282.60,78.13 L282.60,78.48 L282.60,78.83 L282.60,79.19 L282.60,79.54 L282.60,79.89 L282.60,80.25 L282.60,80.60 L282.60,80.96 L282.60,81.31 L282.60,81.66 L282.60,82.02 L282.60,82.37 L282.60,82.72 L282.60,83.08 L282.60,83.43 L282.60,83.78 L282.60,84.14 L282.60,84.49 L282.60,84.84 L282.60,85.20 L282.60,85.55 L282.60,85.90 L282.60,86.26 L282.60,86.61 L282.60,86.96 L282.60,87.32 L282.60,87.67 L282.60,88.02 L282.60,88.38 L282.60,88.73 L282.60,89.08 L282.60,89.44 L282.60,89.79 L282.60,90.15 L282.60,90.50 L282.60,90.85 L282.60,91.21 L282.60,91.56 L282.60,91.91 L282.60,92.27 L282.60,92.62 L282.60,92.97 L282.60,93.33 L282.60,93.68 L282.60,94.03 L282.60,94.39 L282.60,94.74 L282.60,95.09 L282.60,95.45 L282.60,95.80 L282.60,96.15 L282.60,96.51 L282.60,96.86 L282.61,97.21 L282.62,97.57 L282.62,97.92 L282.63,98.27 L282.64,98.63 L282.64,98.98 L282.65,99.34 L282.66,99.69 L282.67,100.04 L282.68,100.40 L282.69,100.75 L282.70,101.10 L282.71,101.46 L282.72,101.81 L282.73,102.16 L282.74,102.52 L282.76,102.87 L282.77,103.22 L282.78,103.58 L282.80,103.93 L282.82,104.28 L282.83,104.64 L282.85,104.99 L282.87,105.34 L282.89,105.70 L282.91,106.05 L282.93,106.40 L282.95,106.76 L282.98,107.11 L283.00,107.46 L283.03,107.82 L283.05,108.17 L283.08,108.53 L283.11,108.88 L283.14,109.23 L283.18,109.59 L283.21,109.94 L283.25,110.29 L283.29,110.65 L283.33,111.00 L283.37,111.35 L283.41,111.71 L283.46,112.06 L283.51,112.41 L283.56,112.77 L283.61,113.12 L283.67,113.47 L283.73,113.83 L283.79,114.18 L283.85,114.53 L283.92,114.89 L283.99,115.24 L284.06,115.59 L284.14,115.95 L284.22,116.30 L284.30,116.65 L284.39,117.01 L284.48,117.36 L284.58,117.72 L284.68,118.07 L284.78,118.42 L284.89,118.78 L285.00,119.13 L285.12,119.48 L285.24,119.84 L285.37,120.19 L285.50,120.54 L285.63,120.90 L285.78,121.25 L285.92,121.60 L286.07,121.96 L286.23,122.31 L286.39,122.66 L286.56,123.02 L286.73,123.37 L286.91,123.72 L287.09,124.08 L287.27,124.43 L287.45,124.78 L287.63,125.14 L287.80,125.49 L287.77,125.84 L287.66,126.20 L287.48,126.55 L287.25,126.91 L286.96,127.26 L286.64,127.61 L286.28,127.97 L285.91,128.32 L285.53,128.67 L285.16,129.03 L284.80,129.38 L284.46,129.73 L284.15,130.09 L283.87,130.44 L283.57,130.79 L283.19,131.15 L282.50,131.50 L282.50,131.50 L281.81,131.15 L281.43,130.79 L281.13,130.44 L280.85,130.09 L280.54,129.73 L280.20,129.38 L279.84,129.03 L279.47,128.67 L279.09,128.32 L278.72,127.97 L278.36,127.61 L278.04,127.26 L277.75,126.91 L277.52,126.55 L277.34,126.20 L277.23,125.84 L277.20,125.49 L277.37,125.14 L277.55,124.78 L277.73,124.43 L277.91,124.08 L278.09,123.72 L278.27,123.37 L278.44,123.02 L278.61,122.66 L278.77,122.31 L278.93,121.96 L279.08,121.60 L279.22,121.25 L279.37,120.90 L279.50,120.54 L279.63,120.19 L279.76,119.84 L279.88,119.48 L280.00,119.13 L280.11,118.78 L280.22,118.42 L280.32,118.07 L280.42,117.72 L280.52,117.36 L280.61,117.01 L280.70,116.65 L280.78,116.30 L280.86,115.95 L280.94,115.59 L281.01,115.24 L281.08,114.89 L281.15,114.53 L281.21,114.18 L281.27,113.83 L281.33,113.47 L281.39,113.12 L281.44,112.77 L281.49,112.41 L281.54,112.06 L281.59,111.71 L281.63,111.35 L281.67,111.00 L281.71,110.65 L281.75,110.29 L281.79,109.94 L281.82,109.59 L281.86,109.23 L281.89,108.88 L281.92,108.53 L281.95,108.17 L281.97,107.82 L282.00,107.46 L282.02,107.11 L282.05,106.76 L282.07,106.40 L282.09,106.05 L282.11,105.70 L282.13,105.34 L282.15,104.99 L282.17,104.64 L282.18,104.28 L282.20,103.93 L282.22,103.58 L282.23,103.22 L282.24,102.87 L282.26,102.52 L282.27,102.16 L282.28,101.81 L282.29,101.46 L282.30,101.10 L282.31,100.75 L282.32,100.40 L282.33,100.04 L282.34,99.69 L282.35,99.34 L282.36,98.98 L282.36,98.63 L282.37,98.27 L282.38,97.92 L282.38,97.57 L282.39,97.21 L282.40,96.86 L282.40,96.51 L282.40,96.15 L282.40,95.80 L282.40,95.45 L282.40,95.09 L282.40,94.74 L282.40,94.39 L282.40,94.03 L282.40,93.68 L282.40,93.33 L282.40,92.97 L282.40,92.62 L282.40,92.27 L282.40,91.91 L282.40,91.56 L282.40,91.21 L282.40,90.85 L282.40,90.50 L282.40,90.15 L282.40,89.79 L282.40,89.44 L282.40,89.08 L282.40,88.73 L282.40,88.38 L282.40,88.02 L282.40,87.67 L282.40,87.32 L282.40,86.96 L282.40,86.61 L282.40,86.26 L282.40,85.90 L282.40,85.55 L282.40,85.20 L282.40,84.84 L282.40,84.49 L282.40,84.14 L282.40,83.78 L282.40,83.43 L282.40,83.08 L282.40,82.72 L282.40,82.37 L282.40,82.02 L282.40,81.66 L282.40,81.31 L282.40,80.96 L282.40,80.60 L282.40,80.25 L282.40,79.89 L282.40,79.54 L282.40,79.19 L282.40,78.83 L282.40,78.48 L282.40,78.13 L282.40,77.77 L282.40,77.42 L282.40,77.07 L282.40,76.71 L282.40,76.36 L282.40,76.01 L282.40,75.65 L282.40,75.30Z" fill="#cdcdcd" stroke="#666" stroke-width="0.8" stroke-linejoin="round"/>
<line x1="278.77" y1="122.30" x2="286.23" y2="122.30" stroke="#555" stroke-width="1.0"/>
<line x1="282.50" y1="138.20" x2="282.50" y2="140.40" stroke="#8c8c8c" stroke-width="0.9"/>
<text x="0" y="0" font-size="7.982" text-anchor="end" transform="translate(284.40 142.60) rotate(-90) scale(1.1 1)" stroke="#111" stroke-width="0.28">T381</text>
<path d="M295.10,75.30 L295.10,75.65 L295.10,76.01 L295.10,76.36 L295.10,76.71 L295.10,77.07 L295.10,77.42 L295.10,77.77 L295.10,78.13 L295.10,78.48 L295.10,78.83 L295.10,79.19 L295.10,79.54 L295.10,79.89 L295.10,80.25 L295.10,80.60 L295.10,80.96 L295.10,81.31 L295.10,81.66 L295.10,82.02 L295.10,82.37 L295.10,82.72 L295.10,83.08 L295.10,83.43 L295.10,83.78 L295.10,84.14 L295.10,84.49 L295.10,84.84 L295.10,85.20 L295.10,85.55 L295.10,85.90 L295.10,86.26 L295.10,86.61 L295.10,86.96 L295.10,87.32 L295.10,87.67 L295.10,88.02 L295.10,88.38 L295.10,88.73 L295.10,89.08 L295.10,89.44 L295.10,89.79 L295.10,90.15 L295.10,90.50 L295.10,90.85 L295.10,91.21 L295.10,91.56 L295.10,91.91 L295.10,92.27 L295.10,92.62 L295.10,92.97 L295.10,93.33 L295.10,93.68 L295.10,94.03 L295.10,94.39 L295.10,94.74 L295.10,95.09 L295.10,95.45 L295.10,95.80 L295.10,96.15 L295.10,96.51 L295.10,96.86 L295.10,97.21 L295.10,97.57 L295.10,97.92 L295.10,98.27 L295.10,98.63 L295.10,98.98 L295.10,99.34 L295.10,99.69 L295.10,100.04 L295.10,100.40 L295.10,100.75 L295.10,101.10 L295.10,101.46 L295.10,101.81 L295.10,102.16 L295.10,102.52 L295.10,102.87 L295.10,103.22 L295.11,103.58 L295.12,103.93 L295.13,104.28 L295.13,104.64 L295.14,104.99 L295.15,105.34 L295.16,105.70 L295.18,106.05 L295.19,106.40 L295.20,106.76 L295.22,107.11 L295.23,107.46 L295.25,107.82 L295.26,108.17 L295.28,108.53 L295.30,108.88 L295.32,109.23 L295.35,109.59 L295.37,109.94 L295.39,110.29 L295.42,110.65 L295.45,111.00 L295.48,111.35 L295.51,111.71 L295.55,112.06 L295.59,112.41 L295.63,112.77 L295.67,113.12 L295.71,113.47 L295.76,113.83 L295.81,114.18 L295.86,114.53 L295.92,114.89 L295.98,115.24 L296.05,115.59 L296.12,115.95 L296.19,116.30 L296.27,116.65 L296.35,117.01 L296.44,117.36 L296.53,117.72 L296.63,118.07 L296.73,118.42 L296.84,118.78 L296.95,119.13 L297.08,119.48 L297.21,119.84 L297.34,120.19 L297.49,120.54 L297.64,120.90 L297.80,121.25 L297.96,121.60 L298.14,121.96 L298.33,122.31 L298.52,122.66 L298.72,123.02 L298.93,123.37 L299.15,123.72 L299.38,124.08 L299.61,124.43 L299.84,124.78 L300.08,125.14 L300.30,125.49 L300.27,125.84 L300.16,126.20 L299.98,126.55 L299.75,126.91 L299.46,127.26 L299.14,127.61 L298.78,127.97 L298.41,128.32 L298.03,128.67 L297.66,129.03 L297.30,129.38 L296.96,129.73 L296.65,130.09 L296.37,130.44 L296.07,130.79 L295.69,131.15 L295.00,131.50 L295.00,131.50 L294.31,131.15 L293.93,130.79 L293.63,130.44 L293.35,130.09 L293.04,129.73 L292.70,129.38 L292.34,129.03 L291.97,128.67 L291.59,128.32 L291.22,127.97 L290.86,127.61 L290.54,127.26 L290.25,126.91 L290.02,126.55 L289.84,126.20 L289.73,125.84 L289.70,125.49 L289.92,125.14 L290.16,124.78 L290.39,124.43 L290.62,124.08 L290.85,123.72 L291.07,123.37 L291.28,123.02 L291.48,122.66 L291.67,122.31 L291.86,121.96 L292.04,121.60 L292.20,121.25 L292.36,120.90 L292.51,120.54 L292.66,120.19 L292.79,119.84 L292.92,119.48 L293.05,119.13 L293.16,118.78 L293.27,118.42 L293.37,118.07 L293.47,117.72 L293.56,117.36 L293.65,117.01 L293.73,116.65 L293.81,116.30 L293.88,115.95 L293.95,115.59 L294.02,115.24 L294.08,114.89 L294.14,114.53 L294.19,114.18 L294.24,113.83 L294.29,113.47 L294.33,113.12 L294.37,112.77 L294.41,112.41 L294.45,112.06 L294.49,111.71 L294.52,111.35 L294.55,111.00 L294.58,110.65 L294.61,110.29 L294.63,109.94 L294.65,109.59 L294.68,109.23 L294.70,108.88 L294.72,108.53 L294.74,108.17 L294.75,107.82 L294.77,107.46 L294.78,107.11 L294.80,106.76 L294.81,106.40 L294.82,106.05 L294.84,105.70 L294.85,105.34 L294.86,104.99 L294.87,104.64 L294.87,104.28 L294.88,103.93 L294.89,103.58 L294.90,103.22 L294.90,102.87 L294.90,102.52 L294.90,102.16 L294.90,101.81 L294.90,101.46 L294.90,101.10 L294.90,100.75 L294.90,100.40 L294.90,100.04 L294.90,99.69 L294.90,99.34 L294.90,98.98 L294.90,98.63 L294.90,98.27 L294.90,97.92 L294.90,97.57 L294.90,97.21 L294.90,96.86 L294.90,96.51 L294.90,96.15 L294.90,95.80 L294.90,95.45 L294.90,95.09 L294.90,94.74 L294.90,94.39 L294.90,94.03 L294.90,93.68 L294.90,93.33 L294.90,92.97 L294.90,92.62 L294.90,92.27 L294.90,91.91 L294.90,91.56 L294.90,91.21 L294.90,90.85 L294.90,90.50 L294.90,90.15 L294.90,89.79 L294.90,89.44 L294.90,89.08 L294.90,88.73 L294.90,88.38 L294.90,88.02 L294.90,87.67 L294.90,87.32 L294.90,86.96 L294.90,86.61 L294.90,86.26 L294.90,85.90 L294.90,85.55 L294.90,85.20 L294.90,84.84 L294.90,84.49 L294.90,84.14 L294.90,83.78 L294.90,83.43 L294.90,83.08 L294.90,82.72 L294.90,82.37 L294.90,82.02 L294.90,81.66 L294.90,81.31 L294.90,80.96 L294.90,80.60 L294.90,80.25 L294.90,79.89 L294.90,79.54 L294.90,79.19 L294.90,78.83 L294.90,78.48 L294.90,78.13 L294.90,77.77 L294.90,77.42 L294.90,77.07 L294.90,76.71 L294.90,76.36 L294.90,76.01 L294.90,75.65 L294.90,75.30Z" fill="#cdcdcd" stroke="#666" stroke-width="0.8" stroke-linejoin="round"/>
<line x1="291.68" y1="122.30" x2="298.32" y2="122.30" stroke="#555" stroke-width="1.0"/>
<line x1="295.00" y1="138.20" x2="295.00" y2="140.40" stroke="#8c8c8c" stroke-width="0.9"/>
<text x="0" y="0" font-size="7.982" text-anchor="end" transform="translate(296.90 142.60) rotate(-90) scale(1.1 1)" stroke="#111" stroke-width="0.28">HBCx-2</text>
<path d="M307.70,84.80 L307.70,85.09 L307.70,85.39 L307.70,85.68 L307.70,85.97 L307.70,86.27 L307.70,86.56 L307.70,86.86 L307.70,87.15 L307.70,87.44 L307.70,87.74 L307.70,88.03 L307.70,88.32 L307.70,88.62 L307.70,88.91 L307.70,89.21 L307.70,89.50 L307.70,89.79 L307.70,90.09 L307.70,90.38 L307.70,90.67 L307.70,90.97 L307.70,91.26 L307.70,91.56 L307.70,91.85 L307.70,92.14 L307.70,92.44 L307.70,92.73 L307.70,93.02 L307.70,93.32 L307.70,93.61 L307.70,93.91 L307.70,94.20 L307.70,94.49 L307.70,94.79 L307.70,95.08 L307.70,95.37 L307.70,95.67 L307.70,95.96 L307.70,96.25 L307.70,96.55 L307.70,96.84 L307.71,97.14 L307.71,97.43 L307.72,97.72 L307.72,98.02 L307.73,98.31 L307.73,98.60 L307.74,98.90 L307.75,99.19 L307.75,99.49 L307.76,99.78 L307.77,100.07 L307.77,100.37 L307.78,100.66 L307.79,100.95 L307.80,101.25 L307.81,101.54 L307.82,101.84 L307.83,102.13 L307.84,102.42 L307.85,102.72 L307.86,103.01 L307.87,103.30 L307.88,103.60 L307.90,103.89 L307.91,104.18 L307.92,104.48 L307.94,104.77 L307.95,105.07 L307.97,105.36 L307.99,105.65 L308.00,105.95 L308.02,106.24 L308.04,106.53 L308.06,106.83 L308.08,107.12 L308.10,107.42 L308.12,107.71 L308.15,108.00 L308.17,108.30 L308.19,108.59 L308.22,108.88 L308.25,109.18 L308.28,109.47 L308.31,109.77 L308.34,110.06 L308.37,110.35 L308.40,110.65 L308.44,110.94 L308.47,111.23 L308.51,111.53 L308.55,111.82 L308.59,112.12 L308.63,112.41 L308.67,112.70 L308.72,113.00 L308.77,113.29 L308.82,113.58 L308.87,113.88 L308.92,114.17 L308.98,114.46 L309.03,114.76 L309.09,115.05 L309.15,115.35 L309.22,115.64 L309.29,115.93 L309.35,116.23 L309.43,116.52 L309.50,116.81 L309.58,117.11 L309.66,117.40 L309.74,117.70 L309.83,117.99 L309.91,118.28 L310.01,118.58 L310.10,118.87 L310.20,119.16 L310.30,119.46 L310.41,119.75 L310.51,120.05 L310.63,120.34 L310.74,120.63 L310.86,120.93 L310.98,121.22 L311.11,121.51 L311.23,121.81 L311.37,122.10 L311.50,122.39 L311.64,122.69 L311.78,122.98 L311.92,123.28 L312.07,123.57 L312.21,123.86 L312.35,124.16 L312.48,124.45 L312.48,124.74 L312.41,125.04 L312.29,125.33 L312.12,125.63 L311.91,125.92 L311.66,126.21 L311.39,126.51 L311.10,126.80 L310.79,127.09 L310.48,127.39 L310.17,127.68 L309.87,127.98 L309.58,128.27 L309.31,128.56 L309.06,128.86 L308.83,129.15 L308.63,129.44 L308.45,129.74 L308.30,130.03 L308.16,130.33 L308.05,130.62 L307.92,130.91 L307.80,131.21 L307.60,131.50 L307.60,131.50 L307.40,131.21 L307.28,130.91 L307.15,130.62 L307.04,130.33 L306.90,130.03 L306.75,129.74 L306.57,129.44 L306.37,129.15 L306.14,128.86 L305.89,128.56 L305.62,128.27 L305.33,127.98 L305.03,127.68 L304.72,127.39 L304.41,127.09 L304.10,126.80 L303.81,126.51 L303.54,126.21 L303.29,125.92 L303.08,125.63 L302.91,125.33 L302.79,125.04 L302.72,124.74 L302.72,124.45 L302.85,124.16 L302.99,123.86 L303.13,123.57 L303.28,123.28 L303.42,122.98 L303.56,122.69 L303.70,122.39 L303.83,122.10 L303.97,121.81 L304.09,121.51 L304.22,121.22 L304.34,120.93 L304.46,120.63 L304.57,120.34 L304.69,120.05 L304.79,119.75 L304.90,119.46 L305.00,119.16 L305.10,118.87 L305.19,118.58 L305.29,118.28 L305.37,117.99 L305.46,117.70 L305.54,117.40 L305.62,117.11 L305.70,116.81 L305.77,116.52 L305.85,116.23 L305.91,115.93 L305.98,115.64 L306.05,115.35 L306.11,115.05 L306.17,114.76 L306.22,114.46 L306.28,114.17 L306.33,113.88 L306.38,113.58 L306.43,113.29 L306.48,113.00 L306.53,112.70 L306.57,112.41 L306.61,112.12 L306.65,111.82 L306.69,111.53 L306.73,111.23 L306.76,110.94 L306.80,110.65 L306.83,110.35 L306.86,110.06 L306.89,109.77 L306.92,109.47 L306.95,109.18 L306.98,108.88 L307.01,108.59 L307.03,108.30 L307.05,108.00 L307.08,107.71 L307.10,107.42 L307.12,107.12 L307.14,106.83 L307.16,106.53 L307.18,106.24 L307.20,105.95 L307.21,105.65 L307.23,105.36 L307.25,105.07 L307.26,104.77 L307.28,104.48 L307.29,104.18 L307.30,103.89 L307.32,103.60 L307.33,103.30 L307.34,103.01 L307.35,102.72 L307.36,102.42 L307.37,102.13 L307.38,101.84 L307.39,101.54 L307.40,101.25 L307.41,100.95 L307.42,100.66 L307.43,100.37 L307.43,100.07 L307.44,99.78 L307.45,99.49 L307.45,99.19 L307.46,98.90 L307.47,98.60 L307.47,98.31 L307.48,98.02 L307.48,97.72 L307.49,97.43 L307.49,97.14 L307.50,96.84 L307.50,96.55 L307.50,96.25 L307.50,95.96 L307.50,95.67 L307.50,95.37 L307.50,95.08 L307.50,94.79 L307.50,94.49 L307.50,94.20 L307.50,93.91 L307.50,93.61 L307.50,93.32 L307.50,93.02 L307.50,92.73 L307.50,92.44 L307.50,92.14 L307.50,91.85 L307.50,91.56 L307.50,91.26 L307.50,90.97 L307.50,90.67 L307.50,90.38 L307.50,90.09 L307.50,89.79 L307.50,89.50 L307.50,89.21 L307.50,88.91 L307.50,88.62 L307.50,88.32 L307.50,88.03 L307.50,87.74 L307.50,87.44 L307.50,87.15 L307.50,86.86 L307.50,86.56 L307.50,86.27 L307.50,85.97 L307.50,85.68 L307.50,85.39 L307.50,85.09 L307.50,84.80Z" fill="#cdcdcd" stroke="#666" stroke-width="0.8" stroke-linejoin="round"/>
<line x1="303.12" y1="123.60" x2="312.08" y2="123.60" stroke="#555" stroke-width="1.0"/>
<line x1="307.60" y1="138.20" x2="307.60" y2="140.40" stroke="#8c8c8c" stroke-width="0.9"/>
<text x="0" y="0" font-size="7.982" text-anchor="end" transform="translate(309.50 142.60) rotate(-90) scale(1.1 1)" stroke="#111" stroke-width="0.28">HBCx-27</text>
<path d="M320.20,83.50 L320.20,83.81 L320.20,84.11 L320.20,84.42 L320.20,84.72 L320.20,85.03 L320.20,85.33 L320.20,85.64 L320.20,85.94 L320.20,86.25 L320.20,86.55 L320.20,86.86 L320.20,87.16 L320.20,87.47 L320.20,87.77 L320.20,88.08 L320.20,88.38 L320.20,88.69 L320.20,88.99 L320.20,89.30 L320.20,89.60 L320.20,89.91 L320.20,90.21 L320.20,90.52 L320.20,90.82 L320.20,91.13 L320.20,91.43 L320.20,91.74 L320.20,92.04 L320.20,92.35 L320.20,92.65 L320.20,92.96 L320.20,93.26 L320.20,93.57 L320.20,93.87 L320.20,94.18 L320.20,94.48 L320.20,94.79 L320.20,95.09 L320.20,95.40 L320.20,95.70 L320.20,96.01 L320.20,96.31 L320.20,96.62 L320.20,96.92 L320.20,97.23 L320.20,97.53 L320.20,97.84 L320.20,98.14 L320.20,98.45 L320.20,98.75 L320.20,99.06 L320.20,99.36 L320.20,99.67 L320.20,99.97 L320.20,100.28 L320.20,100.58 L320.20,100.89 L320.20,101.19 L320.20,101.50 L320.20,101.80 L320.20,102.11 L320.20,102.41 L320.21,102.72 L320.21,103.02 L320.22,103.33 L320.22,103.63 L320.23,103.94 L320.24,104.24 L320.24,104.55 L320.25,104.85 L320.26,105.16 L320.27,105.46 L320.28,105.77 L320.29,106.07 L320.30,106.38 L320.31,106.68 L320.32,106.99 L320.33,107.29 L320.34,107.60 L320.36,107.90 L320.37,108.21 L320.39,108.51 L320.40,108.82 L320.42,109.12 L320.43,109.43 L320.45,109.73 L320.47,110.04 L320.49,110.34 L320.51,110.65 L320.53,110.95 L320.55,111.26 L320.58,111.56 L320.60,111.87 L320.63,112.17 L320.65,112.48 L320.68,112.78 L320.71,113.09 L320.75,113.39 L320.78,113.70 L320.81,114.00 L320.85,114.31 L320.89,114.61 L320.93,114.92 L320.97,115.22 L321.01,115.53 L321.06,115.83 L321.11,116.14 L321.16,116.44 L321.21,116.75 L321.27,117.05 L321.33,117.36 L321.39,117.66 L321.45,117.97 L321.52,118.27 L321.59,118.58 L321.66,118.88 L321.74,119.19 L321.82,119.49 L321.90,119.80 L321.99,120.10 L322.08,120.41 L322.17,120.71 L322.27,121.02 L322.37,121.32 L322.48,121.63 L322.59,121.93 L322.71,122.24 L322.83,122.54 L322.95,122.85 L323.08,123.15 L323.22,123.46 L323.36,123.76 L323.50,124.07 L323.65,124.37 L323.81,124.68 L323.97,124.98 L324.13,125.29 L324.30,125.59 L324.47,125.90 L324.65,126.20 L324.82,126.51 L325.00,126.81 L325.16,127.12 L325.17,127.42 L325.05,127.73 L324.85,128.03 L324.56,128.34 L324.21,128.64 L323.82,128.95 L323.40,129.25 L322.97,129.56 L322.55,129.86 L322.15,130.17 L321.78,130.47 L321.46,130.78 L321.17,131.08 L320.87,131.39 L320.55,131.69 L320.10,132.00 L320.10,132.00 L319.65,131.69 L319.33,131.39 L319.03,131.08 L318.74,130.78 L318.42,130.47 L318.05,130.17 L317.65,129.86 L317.23,129.56 L316.80,129.25 L316.38,128.95 L315.99,128.64 L315.64,128.34 L315.35,128.03 L315.15,127.73 L315.03,127.42 L315.04,127.12 L315.20,126.81 L315.38,126.51 L315.55,126.20 L315.73,125.90 L315.90,125.59 L316.07,125.29 L316.23,124.98 L316.39,124.68 L316.55,124.37 L316.70,124.07 L316.84,123.76 L316.98,123.46 L317.12,123.15 L317.25,122.85 L317.37,122.54 L317.49,122.24 L317.61,121.93 L317.72,121.63 L317.83,121.32 L317.93,121.02 L318.03,120.71 L318.12,120.41 L318.21,120.10 L318.30,119.80 L318.38,119.49 L318.46,119.19 L318.54,118.88 L318.61,118.58 L318.68,118.27 L318.75,117.97 L318.81,117.66 L318.87,117.36 L318.93,117.05 L318.99,116.75 L319.04,116.44 L319.09,116.14 L319.14,115.83 L319.19,115.53 L319.23,115.22 L319.27,114.92 L319.31,114.61 L319.35,114.31 L319.39,114.00 L319.42,113.70 L319.45,113.39 L319.49,113.09 L319.52,112.78 L319.55,112.48 L319.57,112.17 L319.60,111.87 L319.62,111.56 L319.65,111.26 L319.67,110.95 L319.69,110.65 L319.71,110.34 L319.73,110.04 L319.75,109.73 L319.77,109.43 L319.78,109.12 L319.80,108.82 L319.81,108.51 L319.83,108.21 L319.84,107.90 L319.86,107.60 L319.87,107.29 L319.88,106.99 L319.89,106.68 L319.90,106.38 L319.91,106.07 L319.92,105.77 L319.93,105.46 L319.94,105.16 L319.95,104.85 L319.96,104.55 L319.96,104.24 L319.97,103.94 L319.98,103.63 L319.98,103.33 L319.99,103.02 L319.99,102.72 L320.00,102.41 L320.00,102.11 L320.00,101.80 L320.00,101.50 L320.00,101.19 L320.00,100.89 L320.00,100.58 L320.00,100.28 L320.00,99.97 L320.00,99.67 L320.00,99.36 L320.00,99.06 L320.00,98.75 L320.00,98.45 L320.00,98.14 L320.00,97.84 L320.00,97.53 L320.00,97.23 L320.00,96.92 L320.00,96.62 L320.00,96.31 L320.00,96.01 L320.00,95.70 L320.00,95.40 L320.00,95.09 L320.00,94.79 L320.00,94.48 L320.00,94.18 L320.00,93.87 L320.00,93.57 L320.00,93.26 L320.00,92.96 L320.00,92.65 L320.00,92.35 L320.00,92.04 L320.00,91.74 L320.00,91.43 L320.00,91.13 L320.00,90.82 L320.00,90.52 L320.00,90.21 L320.00,89.91 L320.00,89.60 L320.00,89.30 L320.00,88.99 L320.00,88.69 L320.00,88.38 L320.00,88.08 L320.00,87.77 L320.00,87.47 L320.00,87.16 L320.00,86.86 L320.00,86.55 L320.00,86.25 L320.00,85.94 L320.00,85.64 L320.00,85.33 L320.00,85.03 L320.00,84.72 L320.00,84.42 L320.00,84.11 L320.00,83.81 L320.00,83.50Z" fill="#cdcdcd" stroke="#666" stroke-width="0.8" stroke-linejoin="round"/>
<line x1="316.12" y1="125.20" x2="324.08" y2="125.20" stroke="#555" stroke-width="1.0"/>
<line x1="320.10" y1="138.20" x2="320.10" y2="140.40" stroke="#8c8c8c" stroke-width="0.9"/>
<text x="0" y="0" font-size="7.982" text-anchor="end" transform="translate(322.00 142.60) rotate(-90) scale(1.1 1)" stroke="#111" stroke-width="0.28">T311R</text>
<path d="M332.70,69.20 L332.70,69.59 L332.70,69.99 L332.70,70.38 L332.70,70.78 L332.70,71.17 L332.70,71.57 L332.70,71.96 L332.70,72.36 L332.70,72.75 L332.70,73.15 L332.70,73.54 L332.70,73.94 L332.70,74.33 L332.70,74.73 L332.70,75.12 L332.70,75.52 L332.70,75.91 L332.70,76.31 L332.70,76.70 L332.70,77.10 L332.70,77.49 L332.70,77.89 L332.70,78.28 L332.70,78.68 L332.70,79.07 L332.70,79.47 L332.70,79.86 L332.70,80.26 L332.70,80.65 L332.70,81.05 L332.70,81.44 L332.70,81.84 L332.70,82.23 L332.70,82.63 L332.70,83.02 L332.70,83.42 L332.70,83.81 L332.70,84.21 L332.70,84.60 L332.70,85.00 L332.70,85.39 L332.70,85.79 L332.70,86.18 L332.70,86.58 L332.70,86.97 L332.70,87.37 L332.70,87.76 L332.70,88.16 L332.70,88.55 L332.70,88.95 L332.70,89.34 L332.70,89.74 L332.70,90.13 L332.70,90.53 L332.70,90.92 L332.70,91.32 L332.70,91.71 L332.70,92.11 L332.70,92.50 L332.70,92.90 L332.70,93.29 L332.70,93.69 L332.70,94.08 L332.70,94.48 L332.70,94.87 L332.70,95.27 L332.70,95.66 L332.70,96.06 L332.70,96.45 L332.70,96.85 L332.70,97.24 L332.70,97.64 L332.70,98.03 L332.70,98.43 L332.70,98.82 L332.70,99.22 L332.70,99.61 L332.70,100.01 L332.70,100.40 L332.70,100.80 L332.70,101.19 L332.70,101.59 L332.70,101.98 L332.70,102.38 L332.70,102.77 L332.70,103.17 L332.70,103.56 L332.70,103.96 L332.70,104.35 L332.70,104.75 L332.70,105.14 L332.70,105.54 L332.70,105.93 L332.70,106.33 L332.70,106.72 L332.70,107.12 L332.70,107.51 L332.70,107.91 L332.70,108.30 L332.70,108.70 L332.70,109.09 L332.70,109.49 L332.70,109.88 L332.70,110.28 L332.70,110.67 L332.70,111.07 L332.70,111.46 L332.70,111.86 L332.70,112.25 L332.70,112.65 L332.70,113.04 L332.70,113.44 L332.70,113.83 L332.70,114.23 L332.70,114.62 L332.70,115.02 L332.72,115.41 L332.74,115.81 L332.76,116.20 L332.78,116.60 L332.80,116.99 L332.83,117.39 L332.87,117.78 L332.91,118.18 L332.95,118.57 L333.00,118.97 L333.05,119.36 L333.12,119.76 L333.19,120.15 L333.27,120.55 L333.37,120.94 L333.47,121.34 L333.59,121.73 L333.72,122.13 L333.87,122.52 L334.04,122.92 L334.23,123.31 L334.44,123.71 L334.68,124.10 L334.94,124.50 L335.24,124.89 L335.56,125.29 L335.91,125.68 L336.30,126.08 L336.72,126.47 L337.15,126.87 L337.50,127.26 L337.37,127.66 L337.08,128.05 L336.64,128.45 L336.10,128.84 L335.52,129.24 L334.94,129.63 L334.41,130.03 L333.94,130.42 L333.56,130.82 L333.24,131.21 L332.95,131.61 L332.60,132.00 L332.60,132.00 L332.25,131.61 L331.96,131.21 L331.64,130.82 L331.26,130.42 L330.79,130.03 L330.26,129.63 L329.68,129.24 L329.10,128.84 L328.56,128.45 L328.12,128.05 L327.83,127.66 L327.70,127.26 L328.05,126.87 L328.48,126.47 L328.90,126.08 L329.29,125.68 L329.64,125.29 L329.96,124.89 L330.26,124.50 L330.52,124.10 L330.76,123.71 L330.97,123.31 L331.16,122.92 L331.33,122.52 L331.48,122.13 L331.61,121.73 L331.73,121.34 L331.83,120.94 L331.93,120.55 L332.01,120.15 L332.08,119.76 L332.15,119.36 L332.20,118.97 L332.25,118.57 L332.29,118.18 L332.33,117.78 L332.37,117.39 L332.40,116.99 L332.42,116.60 L332.44,116.20 L332.46,115.81 L332.48,115.41 L332.50,115.02 L332.50,114.62 L332.50,114.23 L332.50,113.83 L332.50,113.44 L332.50,113.04 L332.50,112.65 L332.50,112.25 L332.50,111.86 L332.50,111.46 L332.50,111.07 L332.50,110.67 L332.50,110.28 L332.50,109.88 L332.50,109.49 L332.50,109.09 L332.50,108.70 L332.50,108.30 L332.50,107.91 L332.50,107.51 L332.50,107.12 L332.50,106.72 L332.50,106.33 L332.50,105.93 L332.50,105.54 L332.50,105.14 L332.50,104.75 L332.50,104.35 L332.50,103.96 L332.50,103.56 L332.50,103.17 L332.50,102.77 L332.50,102.38 L332.50,101.98 L332.50,101.59 L332.50,101.19 L332.50,100.80 L332.50,100.40 L332.50,100.01 L332.50,99.61 L332.50,99.22 L332.50,98.82 L332.50,98.43 L332.50,98.03 L332.50,97.64 L332.50,97.24 L332.50,96.85 L332.50,96.45 L332.50,96.06 L332.50,95.66 L332.50,95.27 L332.50,94.87 L332.50,94.48 L332.50,94.08 L332.50,93.69 L332.50,93.29 L332.50,92.90 L332.50,92.50 L332.50,92.11 L332.50,91.71 L332.50,91.32 L332.50,90.92 L332.50,90.53 L332.50,90.13 L332.50,89.74 L332.50,89.34 L332.50,88.95 L332.50,88.55 L332.50,88.16 L332.50,87.76 L332.50,87.37 L332.50,86.97 L332.50,86.58 L332.50,86.18 L332.50,85.79 L332.50,85.39 L332.50,85.00 L332.50,84.60 L332.50,84.21 L332.50,83.81 L332.50,83.42 L332.50,83.02 L332.50,82.63 L332.50,82.23 L332.50,81.84 L332.50,81.44 L332.50,81.05 L332.50,80.65 L332.50,80.26 L332.50,79.86 L332.50,79.47 L332.50,79.07 L332.50,78.68 L332.50,78.28 L332.50,77.89 L332.50,77.49 L332.50,77.10 L332.50,76.70 L332.50,76.31 L332.50,75.91 L332.50,75.52 L332.50,75.12 L332.50,74.73 L332.50,74.33 L332.50,73.94 L332.50,73.54 L332.50,73.15 L332.50,72.75 L332.50,72.36 L332.50,71.96 L332.50,71.57 L332.50,71.17 L332.50,70.78 L332.50,70.38 L332.50,69.99 L332.50,69.59 L332.50,69.20Z" fill="#cdcdcd" stroke="#666" stroke-width="0.8" stroke-linejoin="round"/>
<line x1="328.98" y1="126.00" x2="336.22" y2="126.00" stroke="#555" stroke-width="1.0"/>
<line x1="332.60" y1="138.20" x2="332.60" y2="140.40" stroke="#8c8c8c" stroke-width="0.9"/>
<text x="0" y="0" font-size="7.982" text-anchor="end" transform="translate(334.50 142.60) rotate(-90) scale(1.1 1)" stroke="#111" stroke-width="0.28">HBCx-30</text>
<path d="M345.40,84.00 L345.40,84.30 L345.40,84.61 L345.40,84.91 L345.40,85.21 L345.40,85.52 L345.40,85.82 L345.40,86.12 L345.40,86.43 L345.40,86.73 L345.40,87.03 L345.40,87.33 L345.40,87.64 L345.40,87.94 L345.40,88.24 L345.40,88.55 L345.40,88.85 L345.40,89.15 L345.40,89.46 L345.40,89.76 L345.40,90.06 L345.40,90.37 L345.40,90.67 L345.40,90.97 L345.40,91.28 L345.40,91.58 L345.40,91.88 L345.40,92.18 L345.40,92.49 L345.40,92.79 L345.40,93.09 L345.40,93.40 L345.40,93.70 L345.40,94.00 L345.40,94.31 L345.40,94.61 L345.40,94.91 L345.40,95.22 L345.40,95.52 L345.40,95.82 L345.40,96.13 L345.40,96.43 L345.40,96.73 L345.40,97.04 L345.40,97.34 L345.40,97.64 L345.40,97.94 L345.40,98.25 L345.40,98.55 L345.40,98.85 L345.40,99.16 L345.40,99.46 L345.40,99.76 L345.40,100.07 L345.40,100.37 L345.40,100.67 L345.40,100.98 L345.40,101.28 L345.40,101.58 L345.40,101.89 L345.40,102.19 L345.40,102.49 L345.40,102.79 L345.40,103.10 L345.40,103.40 L345.40,103.70 L345.40,104.01 L345.40,104.31 L345.40,104.61 L345.40,104.92 L345.40,105.22 L345.40,105.52 L345.40,105.83 L345.40,106.13 L345.40,106.43 L345.40,106.74 L345.40,107.04 L345.40,107.34 L345.40,107.65 L345.40,107.95 L345.40,108.25 L345.40,108.55 L345.40,108.86 L345.40,109.16 L345.40,109.46 L345.40,109.77 L345.40,110.07 L345.40,110.37 L345.40,110.68 L345.40,110.98 L345.40,111.28 L345.40,111.59 L345.40,111.89 L345.40,112.19 L345.40,112.50 L345.40,112.80 L345.40,113.10 L345.40,113.41 L345.40,113.71 L345.40,114.01 L345.41,114.31 L345.42,114.62 L345.43,114.92 L345.44,115.22 L345.45,115.53 L345.47,115.83 L345.49,116.13 L345.50,116.44 L345.52,116.74 L345.54,117.04 L345.57,117.35 L345.59,117.65 L345.62,117.95 L345.65,118.26 L345.68,118.56 L345.72,118.86 L345.76,119.16 L345.80,119.47 L345.85,119.77 L345.90,120.07 L345.96,120.38 L346.02,120.68 L346.08,120.98 L346.15,121.29 L346.23,121.59 L346.32,121.89 L346.41,122.20 L346.51,122.50 L346.61,122.80 L346.73,123.11 L346.85,123.41 L346.99,123.71 L347.14,124.02 L347.30,124.32 L347.47,124.62 L347.65,124.92 L347.85,125.23 L348.06,125.53 L348.28,125.83 L348.52,126.14 L348.78,126.44 L349.05,126.74 L349.34,127.05 L349.64,127.35 L349.95,127.65 L350.27,127.96 L350.50,128.26 L350.42,128.56 L350.22,128.87 L349.92,129.17 L349.55,129.47 L349.11,129.77 L348.65,130.08 L348.17,130.38 L347.70,130.68 L347.27,130.99 L346.87,131.29 L346.43,131.59 L345.98,131.90 L345.30,132.20 L345.30,132.20 L344.62,131.90 L344.17,131.59 L343.73,131.29 L343.33,130.99 L342.90,130.68 L342.43,130.38 L341.95,130.08 L341.49,129.77 L341.05,129.47 L340.68,129.17 L340.38,128.87 L340.18,128.56 L340.10,128.26 L340.33,127.96 L340.65,127.65 L340.96,127.35 L341.26,127.05 L341.55,126.74 L341.82,126.44 L342.08,126.14 L342.32,125.83 L342.54,125.53 L342.75,125.23 L342.95,124.92 L343.13,124.62 L343.30,124.32 L343.46,124.02 L343.61,123.71 L343.75,123.41 L343.87,123.11 L343.99,122.80 L344.09,122.50 L344.19,122.20 L344.28,121.89 L344.37,121.59 L344.45,121.29 L344.52,120.98 L344.58,120.68 L344.64,120.38 L344.70,120.07 L344.75,119.77 L344.80,119.47 L344.84,119.16 L344.88,118.86 L344.92,118.56 L344.95,118.26 L344.98,117.95 L345.01,117.65 L345.03,117.35 L345.06,117.04 L345.08,116.74 L345.10,116.44 L345.11,116.13 L345.13,115.83 L345.15,115.53 L345.16,115.22 L345.17,114.92 L345.18,114.62 L345.19,114.31 L345.20,114.01 L345.20,113.71 L345.20,113.41 L345.20,113.10 L345.20,112.80 L345.20,112.50 L345.20,112.19 L345.20,111.89 L345.20,111.59 L345.20,111.28 L345.20,110.98 L345.20,110.68 L345.20,110.37 L345.20,110.07 L345.20,109.77 L345.20,109.46 L345.20,109.16 L345.20,108.86 L345.20,108.55 L345.20,108.25 L345.20,107.95 L345.20,107.65 L345.20,107.34 L345.20,107.04 L345.20,106.74 L345.20,106.43 L345.20,106.13 L345.20,105.83 L345.20,105.52 L345.20,105.22 L345.20,104.92 L345.20,104.61 L345.20,104.31 L345.20,104.01 L345.20,103.70 L345.20,103.40 L345.20,103.10 L345.20,102.79 L345.20,102.49 L345.20,102.19 L345.20,101.89 L345.20,101.58 L345.20,101.28 L345.20,100.98 L345.20,100.67 L345.20,100.37 L345.20,100.07 L345.20,99.76 L345.20,99.46 L345.20,99.16 L345.20,98.85 L345.20,98.55 L345.20,98.25 L345.20,97.94 L345.20,97.64 L345.20,97.34 L345.20,97.04 L345.20,96.73 L345.20,96.43 L345.20,96.13 L345.20,95.82 L345.20,95.52 L345.20,95.22 L345.20,94.91 L345.20,94.61 L345.20,94.31 L345.20,94.00 L345.20,93.70 L345.20,93.40 L345.20,93.09 L345.20,92.79 L345.20,92.49 L345.20,92.18 L345.20,91.88 L345.20,91.58 L345.20,91.28 L345.20,90.97 L345.20,90.67 L345.20,90.37 L345.20,90.06 L345.20,89.76 L345.20,89.46 L345.20,89.15 L345.20,88.85 L345.20,88.55 L345.20,88.24 L345.20,87.94 L345.20,87.64 L345.20,87.33 L345.20,87.03 L345.20,86.73 L345.20,86.43 L345.20,86.12 L345.20,85.82 L345.20,85.52 L345.20,85.21 L345.20,84.91 L345.20,84.61 L345.20,84.30 L345.20,84.00Z" fill="#cdcdcd" stroke="#666" stroke-width="0.8" stroke-linejoin="round"/>
<line x1="341.11" y1="127.20" x2="349.49" y2="127.20" stroke="#555" stroke-width="1.0"/>
<line x1="345.30" y1="138.20" x2="345.30" y2="140.40" stroke="#8c8c8c" stroke-width="0.9"/>
<text x="0" y="0" font-size="7.982" text-anchor="end" transform="translate(347.20 142.60) rotate(-90) scale(1.1 1)" stroke="#111" stroke-width="0.28">HBCx-8</text>
<path d="M357.70,97.40 L357.70,97.62 L357.70,97.84 L357.70,98.06 L357.70,98.28 L357.70,98.50 L357.70,98.72 L357.70,98.94 L357.70,99.16 L357.70,99.38 L357.70,99.60 L357.70,99.82 L357.70,100.04 L357.70,100.26 L357.70,100.48 L357.70,100.70 L357.70,100.92 L357.70,101.14 L357.70,101.36 L357.70,101.58 L357.70,101.80 L357.70,102.02 L357.70,102.24 L357.70,102.46 L357.70,102.68 L357.70,102.90 L357.70,103.12 L357.70,103.34 L357.70,103.56 L357.70,103.78 L357.70,104.00 L357.70,104.22 L357.70,104.44 L357.70,104.66 L357.70,104.88 L357.70,105.10 L357.70,105.32 L357.70,105.54 L357.70,105.76 L357.70,105.98 L357.70,106.21 L357.70,106.43 L357.70,106.65 L357.70,106.87 L357.70,107.09 L357.70,107.31 L357.70,107.53 L357.70,107.75 L357.70,107.97 L357.70,108.19 L357.70,108.41 L357.70,108.63 L357.70,108.85 L357.70,109.07 L357.70,109.29 L357.70,109.51 L357.70,109.73 L357.70,109.95 L357.70,110.17 L357.70,110.39 L357.70,110.61 L357.70,110.83 L357.70,111.05 L357.70,111.27 L357.70,111.49 L357.70,111.71 L357.70,111.93 L357.70,112.15 L357.70,112.37 L357.70,112.59 L357.70,112.81 L357.70,113.03 L357.70,113.25 L357.70,113.47 L357.70,113.69 L357.70,113.91 L357.70,114.13 L357.70,114.35 L357.70,114.57 L357.70,114.79 L357.70,115.01 L357.70,115.23 L357.70,115.45 L357.70,115.67 L357.70,115.89 L357.70,116.11 L357.70,116.33 L357.70,116.55 L357.70,116.77 L357.70,116.99 L357.70,117.21 L357.70,117.43 L357.70,117.65 L357.70,117.87 L357.70,118.09 L357.70,118.31 L357.70,118.53 L357.70,118.75 L357.70,118.97 L357.70,119.19 L357.70,119.41 L357.70,119.63 L357.70,119.85 L357.71,120.07 L357.72,120.29 L357.73,120.51 L357.75,120.73 L357.77,120.95 L357.79,121.17 L357.81,121.39 L357.83,121.61 L357.86,121.83 L357.89,122.05 L357.92,122.27 L357.96,122.49 L358.00,122.71 L358.05,122.93 L358.10,123.15 L358.15,123.37 L358.21,123.59 L358.28,123.82 L358.36,124.04 L358.44,124.26 L358.54,124.48 L358.64,124.70 L358.75,124.92 L358.88,125.14 L359.01,125.36 L359.17,125.58 L359.33,125.80 L359.51,126.02 L359.71,126.24 L359.93,126.46 L360.17,126.68 L360.42,126.90 L360.70,127.12 L361.01,127.34 L361.33,127.56 L361.68,127.78 L362.05,128.00 L362.43,128.22 L362.81,128.44 L362.87,128.66 L362.73,128.88 L362.49,129.10 L362.17,129.32 L361.77,129.54 L361.33,129.76 L360.86,129.98 L360.39,130.20 L359.94,130.42 L359.52,130.64 L359.14,130.86 L358.81,131.08 L358.53,131.30 L358.29,131.52 L358.08,131.74 L357.91,131.96 L357.76,132.18 L357.60,132.40 L357.60,132.40 L357.44,132.18 L357.29,131.96 L357.12,131.74 L356.91,131.52 L356.67,131.30 L356.39,131.08 L356.06,130.86 L355.68,130.64 L355.26,130.42 L354.81,130.20 L354.34,129.98 L353.87,129.76 L353.43,129.54 L353.03,129.32 L352.71,129.10 L352.47,128.88 L352.33,128.66 L352.39,128.44 L352.77,128.22 L353.15,128.00 L353.52,127.78 L353.87,127.56 L354.19,127.34 L354.50,127.12 L354.78,126.90 L355.03,126.68 L355.27,126.46 L355.49,126.24 L355.69,126.02 L355.87,125.80 L356.03,125.58 L356.19,125.36 L356.32,125.14 L356.45,124.92 L356.56,124.70 L356.66,124.48 L356.76,124.26 L356.84,124.04 L356.92,123.82 L356.99,123.59 L357.05,123.37 L357.10,123.15 L357.15,122.93 L357.20,122.71 L357.24,122.49 L357.28,122.27 L357.31,122.05 L357.34,121.83 L357.37,121.61 L357.39,121.39 L357.41,121.17 L357.43,120.95 L357.45,120.73 L357.47,120.51 L357.48,120.29 L357.49,120.07 L357.50,119.85 L357.50,119.63 L357.50,119.41 L357.50,119.19 L357.50,118.97 L357.50,118.75 L357.50,118.53 L357.50,118.31 L357.50,118.09 L357.50,117.87 L357.50,117.65 L357.50,117.43 L357.50,117.21 L357.50,116.99 L357.50,116.77 L357.50,116.55 L357.50,116.33 L357.50,116.11 L357.50,115.89 L357.50,115.67 L357.50,115.45 L357.50,115.23 L357.50,115.01 L357.50,114.79 L357.50,114.57 L357.50,114.35 L357.50,114.13 L357.50,113.91 L357.50,113.69 L357.50,113.47 L357.50,113.25 L357.50,113.03 L357.50,112.81 L357.50,112.59 L357.50,112.37 L357.50,112.15 L357.50,111.93 L357.50,111.71 L357.50,111.49 L357.50,111.27 L357.50,111.05 L357.50,110.83 L357.50,110.61 L357.50,110.39 L357.50,110.17 L357.50,109.95 L357.50,109.73 L357.50,109.51 L357.50,109.29 L357.50,109.07 L357.50,108.85 L357.50,108.63 L357.50,108.41 L357.50,108.19 L357.50,107.97 L357.50,107.75 L357.50,107.53 L357.50,107.31 L357.50,107.09 L357.50,106.87 L357.50,106.65 L357.50,106.43 L357.50,106.21 L357.50,105.98 L357.50,105.76 L357.50,105.54 L357.50,105.32 L357.50,105.10 L357.50,104.88 L357.50,104.66 L357.50,104.44 L357.50,104.22 L357.50,104.00 L357.50,103.78 L357.50,103.56 L357.50,103.34 L357.50,103.12 L357.50,102.90 L357.50,102.68 L357.50,102.46 L357.50,102.24 L357.50,102.02 L357.50,101.80 L357.50,101.58 L357.50,101.36 L357.50,101.14 L357.50,100.92 L357.50,100.70 L357.50,100.48 L357.50,100.26 L357.50,100.04 L357.50,99.82 L357.50,99.60 L357.50,99.38 L357.50,99.16 L357.50,98.94 L357.50,98.72 L357.50,98.50 L357.50,98.28 L357.50,98.06 L357.50,97.84 L357.50,97.62 L357.50,97.40Z" fill="#cdcdcd" stroke="#666" stroke-width="0.8" stroke-linejoin="round"/>
<line x1="353.15" y1="128.00" x2="362.05" y2="128.00" stroke="#555" stroke-width="1.0"/>
<line x1="357.60" y1="138.20" x2="357.60" y2="140.40" stroke="#8c8c8c" stroke-width="0.9"/>
<text x="0" y="0" font-size="7.982" text-anchor="end" transform="translate(359.50 142.60) rotate(-90) scale(1.1 1)" stroke="#111" stroke-width="0.28">HBCx-15</text>
<rect x="430.9" y="9.5" width="86.80000000000007" height="181.4" fill="none" stroke="#555" stroke-width="1"/>
<line x1="475.30" y1="9.50" x2="475.30" y2="190.90" stroke="#a0a0a0" stroke-width="0.8"/>
<line x1="428.50" y1="190.50" x2="430.90" y2="190.50" stroke="#555" stroke-width="0.9"/>
<text x="426.40" y="194.10" font-size="8.6" text-anchor="end" transform="matrix(1,0,0,1.08,0,-15.528)" stroke="#111" stroke-width="0.28">0</text>
<line x1="428.50" y1="168.00" x2="430.90" y2="168.00" stroke="#555" stroke-width="0.9"/>
<text x="426.40" y="171.60" font-size="8.6" text-anchor="end" transform="matrix(1,0,0,1.08,0,-13.728)" stroke="#111" stroke-width="0.28">25</text>
<line x1="428.50" y1="145.50" x2="430.90" y2="145.50" stroke="#555" stroke-width="0.9"/>
<text x="426.40" y="149.10" font-size="8.6" text-anchor="end" transform="matrix(1,0,0,1.08,0,-11.928)" stroke="#111" stroke-width="0.28">50</text>
<line x1="428.50" y1="123.00" x2="430.90" y2="123.00" stroke="#555" stroke-width="0.9"/>
<text x="426.40" y="126.60" font-size="8.6" text-anchor="end" transform="matrix(1,0,0,1.08,0,-10.128)" stroke="#111" stroke-width="0.28">75</text>
<line x1="428.50" y1="100.50" x2="430.90" y2="100.50" stroke="#555" stroke-width="0.9"/>
<text x="426.40" y="104.10" font-size="8.6" text-anchor="end" transform="matrix(1,0,0,1.08,0,-8.328)" stroke="#111" stroke-width="0.28">100</text>
<line x1="428.50" y1="78.00" x2="430.90" y2="78.00" stroke="#555" stroke-width="0.9"/>
<text x="426.40" y="81.60" font-size="8.6" text-anchor="end" transform="matrix(1,0,0,1.08,0,-6.528)" stroke="#111" stroke-width="0.28">125</text>
<line x1="428.50" y1="55.50" x2="430.90" y2="55.50" stroke="#555" stroke-width="0.9"/>
<text x="426.40" y="59.10" font-size="8.6" text-anchor="end" transform="matrix(1,0,0,1.08,0,-4.728)" stroke="#111" stroke-width="0.28">150</text>
<line x1="428.50" y1="33.00" x2="430.90" y2="33.00" stroke="#555" stroke-width="0.9"/>
<text x="426.40" y="36.60" font-size="8.6" text-anchor="end" transform="matrix(1,0,0,1.08,0,-2.928)" stroke="#111" stroke-width="0.28">175</text>
<line x1="428.50" y1="10.50" x2="430.90" y2="10.50" stroke="#555" stroke-width="0.9"/>
<text x="426.40" y="14.10" font-size="8.6" text-anchor="end" transform="matrix(1,0,0,1.08,0,-1.128)" stroke="#111" stroke-width="0.28">200</text>
<text x="0" y="0" font-size="8.000" text-anchor="middle" transform="translate(405.40 101.20) rotate(-90) scale(1.1 1)" stroke="#111" stroke-width="0.28">Median membrane OD</text>
<text x="453.00" y="203.00" font-size="8.8" text-anchor="middle" transform="matrix(1,0,0,1.08,0,-16.240)" stroke="#111" stroke-width="0.28">Human</text>
<text x="496.50" y="203.00" font-size="8.8" text-anchor="middle" transform="matrix(1,0,0,1.08,0,-16.240)" stroke="#111" stroke-width="0.28">PDX</text>
<line x1="452.60" y1="190.90" x2="452.60" y2="192.90" stroke="#555" stroke-width="0.9"/>
<line x1="496.00" y1="190.90" x2="496.00" y2="192.90" stroke="#555" stroke-width="0.9"/>
<g fill="none" stroke="#888" stroke-width="0.85"><circle cx="444.4" cy="43.6" r="2.75"/><circle cx="451.3" cy="39.4" r="2.75"/><circle cx="452.0" cy="58.7" r="2.75"/><circle cx="445.5" cy="68.3" r="2.75"/><circle cx="446.4" cy="70.5" r="2.75"/><circle cx="461.5" cy="68.3" r="2.75"/><circle cx="443.1" cy="88.9" r="2.75"/><circle cx="449.0" cy="87.8" r="2.75"/><circle cx="453.6" cy="86.3" r="2.75"/><circle cx="445.7" cy="95.5" r="2.75"/><circle cx="453.6" cy="96.8" r="2.75"/><circle cx="461.9" cy="98.5" r="2.75"/><circle cx="457.6" cy="102.0" r="2.75"/><circle cx="447.7" cy="100.0" r="2.75"/><circle cx="442.5" cy="103.3" r="2.75"/><circle cx="450.1" cy="106.5" r="2.75"/><circle cx="453.9" cy="108.5" r="2.75"/><circle cx="442.0" cy="115.8" r="2.75"/><circle cx="449.3" cy="113.5" r="2.75"/><circle cx="460.1" cy="116.2" r="2.75"/><circle cx="444.3" cy="121.9" r="2.75"/><circle cx="449.7" cy="118.8" r="2.75"/><circle cx="450.1" cy="125.0" r="2.75"/><circle cx="459.7" cy="125.8" r="2.75"/><circle cx="462.8" cy="127.3" r="2.75"/><circle cx="455.1" cy="128.0" r="2.75"/><circle cx="450.8" cy="133.5" r="2.75"/><circle cx="459.7" cy="132.7" r="2.75"/><circle cx="455.1" cy="133.5" r="2.75"/><circle cx="462.8" cy="131.9" r="2.75"/><circle cx="443.5" cy="108.8" r="2.75"/><circle cx="445.7" cy="188.7" r="2.75"/><circle cx="460.1" cy="188.3" r="2.75"/><circle cx="452.6" cy="188.1" r="2.75"/><circle cx="444.2" cy="188.2" r="2.75"/><circle cx="458.6" cy="188.0" r="2.75"/><circle cx="447.5" cy="187.8" r="2.75"/><circle cx="442.6" cy="187.3" r="2.75"/><circle cx="453.9" cy="187.3" r="2.75"/><circle cx="448.9" cy="186.8" r="2.75"/><circle cx="460.6" cy="186.6" r="2.75"/><circle cx="449.4" cy="186.1" r="2.75"/><circle cx="441.6" cy="186.0" r="2.75"/><circle cx="455.5" cy="186.2" r="2.75"/><circle cx="450.3" cy="185.9" r="2.75"/><circle cx="463.8" cy="185.7" r="2.75"/><circle cx="453.5" cy="185.2" r="2.75"/><circle cx="442.5" cy="185.1" r="2.75"/><circle cx="458.2" cy="185.2" r="2.75"/><circle cx="450.3" cy="184.6" r="2.75"/><circle cx="442.0" cy="184.6" r="2.75"/><circle cx="455.2" cy="184.3" r="2.75"/><circle cx="448.3" cy="183.8" r="2.75"/><circle cx="462.5" cy="184.0" r="2.75"/><circle cx="455.0" cy="183.6" r="2.75"/><circle cx="442.5" cy="183.2" r="2.75"/><circle cx="456.3" cy="182.8" r="2.75"/><circle cx="450.8" cy="183.0" r="2.75"/><circle cx="464.1" cy="182.9" r="2.75"/><circle cx="456.0" cy="182.8" r="2.75"/><circle cx="446.3" cy="182.1" r="2.75"/><circle cx="459.6" cy="181.8" r="2.75"/><circle cx="452.1" cy="181.7" r="2.75"/><circle cx="442.1" cy="181.6" r="2.75"/><circle cx="459.7" cy="180.8" r="2.75"/><circle cx="449.0" cy="180.9" r="2.75"/><circle cx="464.0" cy="180.9" r="2.75"/><circle cx="456.5" cy="179.7" r="2.75"/><circle cx="443.3" cy="179.0" r="2.75"/><circle cx="460.3" cy="179.1" r="2.75"/><circle cx="450.0" cy="179.2" r="2.75"/><circle cx="462.8" cy="178.5" r="2.75"/><circle cx="457.4" cy="178.2" r="2.75"/><circle cx="445.2" cy="177.7" r="2.75"/><circle cx="463.7" cy="176.9" r="2.75"/><circle cx="452.1" cy="176.8" r="2.75"/><circle cx="445.4" cy="175.7" r="2.75"/><circle cx="460.1" cy="174.9" r="2.75"/><circle cx="448.4" cy="175.2" r="2.75"/><circle cx="441.9" cy="174.6" r="2.75"/><circle cx="452.5" cy="173.4" r="2.75"/><circle cx="443.8" cy="173.9" r="2.75"/><circle cx="460.1" cy="173.4" r="2.75"/><circle cx="449.6" cy="172.5" r="2.75"/><circle cx="441.4" cy="172.8" r="2.75"/><circle cx="457.1" cy="171.8" r="2.75"/><circle cx="448.6" cy="170.6" r="2.75"/><circle cx="463.0" cy="170.7" r="2.75"/><circle cx="450.6" cy="170.1" r="2.75"/><circle cx="445.6" cy="169.3" r="2.75"/><circle cx="460.6" cy="168.9" r="2.75"/><circle cx="449.1" cy="169.1" r="2.75"/><circle cx="441.3" cy="169.0" r="2.75"/><circle cx="452.8" cy="168.6" r="2.75"/><circle cx="444.2" cy="167.9" r="2.75"/><circle cx="458.4" cy="167.1" r="2.75"/><circle cx="449.8" cy="167.1" r="2.75"/><circle cx="441.9" cy="166.3" r="2.75"/><circle cx="459.7" cy="165.8" r="2.75"/><circle cx="446.3" cy="164.2" r="2.75"/><circle cx="462.3" cy="164.2" r="2.75"/><circle cx="451.8" cy="163.4" r="2.75"/><circle cx="447.7" cy="161.9" r="2.75"/><circle cx="459.6" cy="162.0" r="2.75"/><circle cx="448.2" cy="162.0" r="2.75"/><circle cx="464.0" cy="161.0" r="2.75"/><circle cx="454.2" cy="159.5" r="2.75"/><circle cx="449.6" cy="160.3" r="2.75"/><circle cx="459.8" cy="158.8" r="2.75"/><circle cx="449.9" cy="158.2" r="2.75"/><circle cx="446.2" cy="157.6" r="2.75"/><circle cx="459.5" cy="156.4" r="2.75"/><circle cx="448.4" cy="156.8" r="2.75"/><circle cx="441.6" cy="156.4" r="2.75"/><circle cx="456.4" cy="155.2" r="2.75"/><circle cx="444.1" cy="154.9" r="2.75"/><circle cx="463.3" cy="153.5" r="2.75"/><circle cx="453.1" cy="152.8" r="2.75"/><circle cx="443.5" cy="152.2" r="2.75"/><circle cx="457.1" cy="152.6" r="2.75"/><circle cx="445.1" cy="151.8" r="2.75"/><circle cx="461.4" cy="151.8" r="2.75"/><circle cx="454.6" cy="150.7" r="2.75"/><circle cx="444.0" cy="148.5" r="2.75"/><circle cx="462.0" cy="147.7" r="2.75"/><circle cx="449.2" cy="146.8" r="2.75"/><circle cx="463.2" cy="147.7" r="2.75"/><circle cx="453.9" cy="146.9" r="2.75"/><circle cx="448.8" cy="145.0" r="2.75"/><circle cx="461.2" cy="143.6" r="2.75"/><circle cx="453.9" cy="143.2" r="2.75"/><circle cx="443.9" cy="143.7" r="2.75"/><circle cx="459.4" cy="140.8" r="2.75"/><circle cx="448.5" cy="140.3" r="2.75"/><circle cx="441.1" cy="140.9" r="2.75"/><circle cx="456.0" cy="139.6" r="2.75"/><circle cx="444.5" cy="137.2" r="2.75"/><circle cx="462.6" cy="137.7" r="2.75"/><circle cx="448.9" cy="136.1" r="2.75"/><circle cx="463.6" cy="136.7" r="2.75"/><circle cx="458.2" cy="131.4" r="2.75"/><circle cx="449.2" cy="134.9" r="2.75"/><circle cx="463.0" cy="123.5" r="2.75"/><circle cx="453.3" cy="126.3" r="2.75"/><circle cx="441.0" cy="124.9" r="2.75"/><circle cx="459.5" cy="112.8" r="2.75"/><circle cx="452.0" cy="113.7" r="2.75"/><circle cx="442.4" cy="111.1" r="2.75"/><circle cx="453.5" cy="105.4" r="2.75"/></g>
<g fill="none" stroke="#888" stroke-width="0.85"><circle cx="506.6" cy="100.2" r="2.75"/><circle cx="493.2" cy="107.5" r="2.75"/><circle cx="498.6" cy="105.3" r="2.75"/><circle cx="500.8" cy="113.3" r="2.75"/><circle cx="506.6" cy="112.6" r="2.75"/><circle cx="505.9" cy="120.6" r="2.75"/><circle cx="500.8" cy="123.8" r="2.75"/><circle cx="487.7" cy="123.8" r="2.75"/><circle cx="506.3" cy="127.2" r="2.75"/><circle cx="485.5" cy="129.7" r="2.75"/><circle cx="487.4" cy="135.5" r="2.75"/><circle cx="498.6" cy="140.3" r="2.75"/><circle cx="501.5" cy="153.4" r="2.75"/><circle cx="504.4" cy="157.1" r="2.75"/><circle cx="503.7" cy="159.7" r="2.75"/><circle cx="493.5" cy="161.2" r="2.75"/><circle cx="486.2" cy="162.9" r="2.75"/><circle cx="498.6" cy="166.6" r="2.75"/><circle cx="492.0" cy="169.5" r="2.75"/><circle cx="491.3" cy="174.6" r="2.75"/><circle cx="486.9" cy="177.5" r="2.75"/><circle cx="503.0" cy="177.5" r="2.75"/><circle cx="490.3" cy="179.7" r="2.75"/></g>
<rect x="435.30" y="137.10" width="35.10" height="46.70" fill="none" stroke="#111" stroke-width="1.4"/>
<line x1="435.30" y1="170.60" x2="470.40" y2="170.60" stroke="#111" stroke-width="1.4"/>
<line x1="452.60" y1="137.10" x2="452.60" y2="68.30" stroke="#111" stroke-width="1.4"/>
<line x1="452.60" y1="183.80" x2="452.60" y2="187.30" stroke="#111" stroke-width="1.4"/>
<line x1="443.60" y1="68.30" x2="461.60" y2="68.30" stroke="#111" stroke-width="1.4"/>
<line x1="443.60" y1="187.30" x2="461.60" y2="187.30" stroke="#111" stroke-width="1.4"/>
<rect x="478.90" y="122.40" width="34.40" height="44.90" fill="none" stroke="#111" stroke-width="1.4"/>
<line x1="478.90" y1="147.30" x2="513.30" y2="147.30" stroke="#111" stroke-width="1.4"/>
<line x1="496.00" y1="122.40" x2="496.00" y2="100.50" stroke="#111" stroke-width="1.4"/>
<line x1="496.00" y1="167.30" x2="496.00" y2="179.70" stroke="#111" stroke-width="1.4"/>
<line x1="487.50" y1="100.50" x2="504.50" y2="100.50" stroke="#111" stroke-width="1.4"/>
<line x1="487.50" y1="179.70" x2="504.50" y2="179.70" stroke="#111" stroke-width="1.4"/>
<line x1="134.00" y1="228.95" x2="134.00" y2="383.65" stroke="#000" stroke-width="1.8"/>
<line x1="128.50" y1="228.95" x2="134.00" y2="228.95" stroke="#000" stroke-width="1.6"/>
<text x="123.40" y="232.95" font-size="8.7" text-anchor="end" transform="matrix(1,0,0,1.08,0,-18.636)" fill="#000" stroke="#000" stroke-width="0.28">100</text>
<line x1="128.50" y1="267.62" x2="134.00" y2="267.62" stroke="#000" stroke-width="1.6"/>
<text x="123.40" y="271.62" font-size="8.7" text-anchor="end" transform="matrix(1,0,0,1.08,0,-21.730)" fill="#000" stroke="#000" stroke-width="0.28">50</text>
<line x1="128.50" y1="306.30" x2="134.00" y2="306.30" stroke="#000" stroke-width="1.6"/>
<text x="123.40" y="310.30" font-size="8.7" text-anchor="end" transform="matrix(1,0,0,1.08,0,-24.824)" fill="#000" stroke="#000" stroke-width="0.28">0</text>
<line x1="128.50" y1="344.98" x2="134.00" y2="344.98" stroke="#000" stroke-width="1.6"/>
<text x="123.40" y="348.98" font-size="8.7" text-anchor="end" transform="matrix(1,0,0,1.08,0,-27.918)" fill="#000" stroke="#000" stroke-width="0.28">−50</text>
<line x1="128.50" y1="383.65" x2="134.00" y2="383.65" stroke="#000" stroke-width="1.6"/>
<text x="123.40" y="387.65" font-size="8.7" text-anchor="end" transform="matrix(1,0,0,1.08,0,-31.012)" fill="#000" stroke="#000" stroke-width="0.28">−100</text>
<g fill="#000"><rect x="138.10" y="229.20" width="7.7" height="77.10"/><rect x="149.74" y="238.90" width="7.7" height="67.40"/><rect x="161.38" y="253.00" width="7.7" height="53.30"/><rect x="173.02" y="256.50" width="7.7" height="49.80"/><rect x="184.66" y="266.80" width="7.7" height="39.50"/><rect x="196.30" y="279.50" width="7.7" height="26.80"/><rect x="207.94" y="299.20" width="7.7" height="7.10"/><rect x="219.58" y="306.30" width="7.7" height="7.40"/><rect x="231.22" y="306.30" width="7.7" height="32.50"/><rect x="242.86" y="306.30" width="7.7" height="38.30"/><rect x="254.50" y="306.30" width="7.7" height="45.90"/><rect x="266.14" y="306.30" width="7.7" height="52.20"/><rect x="277.78" y="306.30" width="7.7" height="61.90"/><rect x="289.42" y="306.30" width="7.7" height="67.20"/><rect x="301.06" y="306.30" width="7.7" height="69.50"/><rect x="312.70" y="306.30" width="7.7" height="69.50"/><rect x="324.34" y="306.30" width="7.7" height="70.70"/><rect x="335.98" y="306.30" width="7.7" height="74.10"/><rect x="347.62" y="306.30" width="7.7" height="74.10"/><rect x="359.26" y="306.30" width="7.7" height="75.20"/><rect x="370.90" y="306.30" width="7.7" height="75.20"/><rect x="382.54" y="306.30" width="7.7" height="76.40"/><rect x="394.18" y="306.30" width="7.7" height="76.40"/><rect x="405.82" y="306.30" width="7.7" height="76.40"/><rect x="417.46" y="306.30" width="7.7" height="76.40"/><rect x="429.10" y="306.30" width="7.7" height="76.40"/></g>
<line x1="134.00" y1="306.30" x2="438.50" y2="306.30" stroke="#000" stroke-width="2.0"/>
<line x1="137.50" y1="291.10" x2="439.50" y2="291.10" stroke="#000" stroke-width="1.25" stroke-dasharray="1.4 2.6"/>
<line x1="137.50" y1="329.50" x2="439.50" y2="329.50" stroke="#000" stroke-width="1.25" stroke-dasharray="1.4 2.6"/>
<line x1="137.50" y1="379.80" x2="439.50" y2="379.80" stroke="#000" stroke-width="1.25" stroke-dasharray="1.4 2.6"/>
<line x1="78.30" y1="304.40" x2="114.80" y2="304.40" stroke="#000" stroke-width="0.8"/>
<text x="0" y="0" font-size="6.409" text-anchor="middle" transform="translate(91.00 262.70) rotate(-90) scale(1.1 1)" fill="#000" stroke="#000" stroke-width="0.28">Tumor growth inhibition</text>
<text x="0" y="0" font-size="6.818" text-anchor="middle" transform="translate(100.10 263.30) rotate(-90) scale(1.1 1)" fill="#000" stroke="#000" stroke-width="0.28">(percentage of control)</text>
<text x="0" y="0" font-size="6.545" text-anchor="middle" transform="translate(89.40 347.60) rotate(-90) scale(1.1 1)" fill="#000" stroke="#000" stroke-width="0.28">Change in tumor volume</text>
<text x="0" y="0" font-size="6.773" text-anchor="middle" transform="translate(98.10 348.00) rotate(-90) scale(1.1 1)" fill="#000" stroke="#000" stroke-width="0.28">(percentage of baseline)</text>
<line x1="40.30" y1="409.60" x2="40.30" y2="507.30" stroke="#000" stroke-width="1.0"/>
<line x1="40.30" y1="507.30" x2="133.30" y2="507.30" stroke="#000" stroke-width="1.0"/>
<line x1="37.10" y1="507.30" x2="40.30" y2="507.30" stroke="#000" stroke-width="1.0"/>
<text x="36.70" y="510.80" font-size="8.7" text-anchor="end" transform="matrix(1,0,0,1.08,0,-40.864)" stroke="#111" stroke-width="0.28">0</text>
<line x1="37.10" y1="482.88" x2="40.30" y2="482.88" stroke="#000" stroke-width="1.0"/>
<text x="36.70" y="486.38" font-size="8.7" text-anchor="end" transform="matrix(1,0,0,1.08,0,-38.910)" stroke="#111" stroke-width="0.28">500</text>
<line x1="37.10" y1="458.45" x2="40.30" y2="458.45" stroke="#000" stroke-width="1.0"/>
<text x="36.70" y="461.95" font-size="8.7" text-anchor="end" transform="matrix(1,0,0,1.08,0,-36.956)" stroke="#111" stroke-width="0.28">1,000</text>
<line x1="37.10" y1="434.03" x2="40.30" y2="434.03" stroke="#000" stroke-width="1.0"/>
<text x="36.70" y="437.53" font-size="8.7" text-anchor="end" transform="matrix(1,0,0,1.08,0,-35.002)" stroke="#111" stroke-width="0.28">1,500</text>
<line x1="37.10" y1="409.60" x2="40.30" y2="409.60" stroke="#000" stroke-width="1.0"/>
<text x="36.70" y="413.10" font-size="8.7" text-anchor="end" transform="matrix(1,0,0,1.08,0,-33.048)" stroke="#111" stroke-width="0.28">2,000</text>
<line x1="40.30" y1="507.30" x2="40.30" y2="510.30" stroke="#000" stroke-width="1.0"/>
<text x="40.30" y="518.60" font-size="8.7" text-anchor="middle" transform="matrix(1,0,0,1.08,0,-41.488)" stroke="#111" stroke-width="0.28">0</text>
<line x1="71.30" y1="507.30" x2="71.30" y2="510.30" stroke="#000" stroke-width="1.0"/>
<text x="71.30" y="518.60" font-size="8.7" text-anchor="middle" transform="matrix(1,0,0,1.08,0,-41.488)" stroke="#111" stroke-width="0.28">10</text>
<line x1="102.30" y1="507.30" x2="102.30" y2="510.30" stroke="#000" stroke-width="1.0"/>
<text x="102.30" y="518.60" font-size="8.7" text-anchor="middle" transform="matrix(1,0,0,1.08,0,-41.488)" stroke="#111" stroke-width="0.28">20</text>
<line x1="133.30" y1="507.30" x2="133.30" y2="510.30" stroke="#000" stroke-width="1.0"/>
<text x="133.30" y="518.60" font-size="8.7" text-anchor="middle" transform="matrix(1,0,0,1.08,0,-41.488)" stroke="#111" stroke-width="0.28">30</text>
<text x="61.50" y="409.90" font-size="8.78" text-anchor="start" transform="matrix(1,0,0,1.08,0,-32.792)" font-weight="bold" stroke="#111" stroke-width="0.28">HBCx-30 (PD)</text>
<text x="0" y="0" font-size="7.909" text-anchor="middle" transform="translate(9.10 461.75) rotate(-90) scale(1.1 1)" stroke="#111" stroke-width="0.28">Tumor volume (mm<tspan font-size="5.5" dy="-3">3</tspan><tspan dy="3">)</tspan></text>
<text x="46.10" y="526.90" font-size="8.8" text-anchor="start" transform="matrix(1,0,0,1.08,0,-42.152)" stroke="#111" stroke-width="0.28">Days post-treatment</text>
<path d="M40.30,523.30 L40.30,532.30" stroke="#d8334f" stroke-width="1.2"/>
<path d="M37.70,524.70 L40.30,520.20 L42.90,524.70Z" fill="#d8334f"/>
<text x="40.30" y="539.90" font-size="6.8" text-anchor="middle" transform="matrix(1,0,0,1.08,0,-43.192)" fill="#d8334f">IV</text>
<line x1="40.30" y1="499.58" x2="133.80" y2="499.58" stroke="#e0505a" stroke-width="1.1"/>
<polyline points="40.30,499.58 62.00,496.31 83.70,491.67 105.40,484.34 127.10,482.88" fill="none" stroke="#6f6f6f" stroke-width="0.7"/>
<line x1="83.70" y1="494.60" x2="83.70" y2="489.23" stroke="#6f6f6f" stroke-width="0.8"/>
<line x1="81.70" y1="489.23" x2="85.70" y2="489.23" stroke="#6f6f6f" stroke-width="0.8"/>
<line x1="81.70" y1="494.60" x2="85.70" y2="494.60" stroke="#6f6f6f" stroke-width="0.8"/>
<line x1="105.40" y1="487.76" x2="105.40" y2="480.92" stroke="#6f6f6f" stroke-width="0.8"/>
<line x1="103.40" y1="480.92" x2="107.40" y2="480.92" stroke="#6f6f6f" stroke-width="0.8"/>
<line x1="103.40" y1="487.76" x2="107.40" y2="487.76" stroke="#6f6f6f" stroke-width="0.8"/>
<line x1="127.10" y1="487.76" x2="127.10" y2="477.99" stroke="#6f6f6f" stroke-width="0.8"/>
<line x1="125.10" y1="477.99" x2="129.10" y2="477.99" stroke="#6f6f6f" stroke-width="0.8"/>
<line x1="125.10" y1="487.76" x2="129.10" y2="487.76" stroke="#6f6f6f" stroke-width="0.8"/>
<circle cx="40.30" cy="499.58" r="2.45" fill="#6f6f6f"/>
<circle cx="62.00" cy="496.31" r="2.45" fill="#6f6f6f"/>
<circle cx="83.70" cy="491.67" r="2.45" fill="#6f6f6f"/>
<circle cx="105.40" cy="484.34" r="2.45" fill="#6f6f6f"/>
<circle cx="127.10" cy="482.88" r="2.45" fill="#6f6f6f"/>
<polyline points="40.30,499.58 62.00,496.06 83.70,489.23 105.40,482.88 127.10,478.97" fill="none" stroke="#263a8c" stroke-width="0.7"/>
<line x1="83.70" y1="492.65" x2="83.70" y2="486.78" stroke="#263a8c" stroke-width="0.8"/>
<line x1="81.70" y1="486.78" x2="85.70" y2="486.78" stroke="#263a8c" stroke-width="0.8"/>
<line x1="81.70" y1="492.65" x2="85.70" y2="492.65" stroke="#263a8c" stroke-width="0.8"/>
<line x1="105.40" y1="486.78" x2="105.40" y2="479.94" stroke="#263a8c" stroke-width="0.8"/>
<line x1="103.40" y1="479.94" x2="107.40" y2="479.94" stroke="#263a8c" stroke-width="0.8"/>
<line x1="103.40" y1="486.78" x2="107.40" y2="486.78" stroke="#263a8c" stroke-width="0.8"/>
<line x1="127.10" y1="483.85" x2="127.10" y2="474.08" stroke="#263a8c" stroke-width="0.8"/>
<line x1="125.10" y1="474.08" x2="129.10" y2="474.08" stroke="#263a8c" stroke-width="0.8"/>
<line x1="125.10" y1="483.85" x2="129.10" y2="483.85" stroke="#263a8c" stroke-width="0.8"/>
<circle cx="40.30" cy="499.58" r="2.45" fill="#263a8c"/>
<circle cx="62.00" cy="496.06" r="2.45" fill="#263a8c"/>
<circle cx="83.70" cy="489.23" r="2.45" fill="#263a8c"/>
<circle cx="105.40" cy="482.88" r="2.45" fill="#263a8c"/>
<circle cx="127.10" cy="478.97" r="2.45" fill="#263a8c"/>
<polyline points="40.30,499.58 62.00,496.55 83.70,489.71 105.40,477.50 127.10,468.71" fill="none" stroke="#222" stroke-width="0.9"/>
<line x1="83.70" y1="492.16" x2="83.70" y2="487.27" stroke="#222" stroke-width="0.8"/>
<line x1="81.70" y1="487.27" x2="85.70" y2="487.27" stroke="#222" stroke-width="0.8"/>
<line x1="81.70" y1="492.16" x2="85.70" y2="492.16" stroke="#222" stroke-width="0.8"/>
<line x1="105.40" y1="482.88" x2="105.40" y2="472.37" stroke="#222" stroke-width="0.8"/>
<line x1="103.40" y1="472.37" x2="107.40" y2="472.37" stroke="#222" stroke-width="0.8"/>
<line x1="103.40" y1="482.88" x2="107.40" y2="482.88" stroke="#222" stroke-width="0.8"/>
<line x1="127.10" y1="475.55" x2="127.10" y2="461.38" stroke="#222" stroke-width="0.8"/>
<line x1="125.10" y1="461.38" x2="129.10" y2="461.38" stroke="#222" stroke-width="0.8"/>
<line x1="125.10" y1="475.55" x2="129.10" y2="475.55" stroke="#222" stroke-width="0.8"/>
<circle cx="40.30" cy="499.58" r="2.5" fill="#fff" stroke="#222" stroke-width="0.9"/>
<circle cx="62.00" cy="496.55" r="2.5" fill="#fff" stroke="#222" stroke-width="0.9"/>
<circle cx="83.70" cy="489.71" r="2.5" fill="#fff" stroke="#222" stroke-width="0.9"/>
<circle cx="105.40" cy="477.50" r="2.5" fill="#fff" stroke="#222" stroke-width="0.9"/>
<circle cx="127.10" cy="468.71" r="2.5" fill="#fff" stroke="#222" stroke-width="0.9"/>
<line x1="184.70" y1="410.40" x2="184.70" y2="507.50" stroke="#000" stroke-width="1.0"/>
<line x1="184.70" y1="507.50" x2="277.70" y2="507.50" stroke="#000" stroke-width="1.0"/>
<line x1="181.50" y1="507.50" x2="184.70" y2="507.50" stroke="#000" stroke-width="1.0"/>
<text x="181.10" y="511.00" font-size="8.7" text-anchor="end" transform="matrix(1,0,0,1.08,0,-40.880)" stroke="#111" stroke-width="0.28">0</text>
<line x1="181.50" y1="483.23" x2="184.70" y2="483.23" stroke="#000" stroke-width="1.0"/>
<text x="181.10" y="486.73" font-size="8.7" text-anchor="end" transform="matrix(1,0,0,1.08,0,-38.938)" stroke="#111" stroke-width="0.28">500</text>
<line x1="181.50" y1="458.95" x2="184.70" y2="458.95" stroke="#000" stroke-width="1.0"/>
<text x="181.10" y="462.45" font-size="8.7" text-anchor="end" transform="matrix(1,0,0,1.08,0,-36.996)" stroke="#111" stroke-width="0.28">1,000</text>
<line x1="181.50" y1="434.67" x2="184.70" y2="434.67" stroke="#000" stroke-width="1.0"/>
<text x="181.10" y="438.17" font-size="8.7" text-anchor="end" transform="matrix(1,0,0,1.08,0,-35.054)" stroke="#111" stroke-width="0.28">1,500</text>
<line x1="181.50" y1="410.40" x2="184.70" y2="410.40" stroke="#000" stroke-width="1.0"/>
<text x="181.10" y="413.90" font-size="8.7" text-anchor="end" transform="matrix(1,0,0,1.08,0,-33.112)" stroke="#111" stroke-width="0.28">2,000</text>
<line x1="184.70" y1="507.50" x2="184.70" y2="510.50" stroke="#000" stroke-width="1.0"/>
<text x="184.70" y="518.80" font-size="8.7" text-anchor="middle" transform="matrix(1,0,0,1.08,0,-41.504)" stroke="#111" stroke-width="0.28">0</text>
<line x1="215.70" y1="507.50" x2="215.70" y2="510.50" stroke="#000" stroke-width="1.0"/>
<text x="215.70" y="518.80" font-size="8.7" text-anchor="middle" transform="matrix(1,0,0,1.08,0,-41.504)" stroke="#111" stroke-width="0.28">10</text>
<line x1="246.70" y1="507.50" x2="246.70" y2="510.50" stroke="#000" stroke-width="1.0"/>
<text x="246.70" y="518.80" font-size="8.7" text-anchor="middle" transform="matrix(1,0,0,1.08,0,-41.504)" stroke="#111" stroke-width="0.28">20</text>
<line x1="277.70" y1="507.50" x2="277.70" y2="510.50" stroke="#000" stroke-width="1.0"/>
<text x="277.70" y="518.80" font-size="8.7" text-anchor="middle" transform="matrix(1,0,0,1.08,0,-41.504)" stroke="#111" stroke-width="0.28">30</text>
<text x="207.00" y="410.70" font-size="8.78" text-anchor="start" transform="matrix(1,0,0,1.08,0,-32.856)" font-weight="bold" stroke="#111" stroke-width="0.28">HBCx-8 (SD)</text>
<text x="0" y="0" font-size="7.909" text-anchor="middle" transform="translate(153.50 462.25) rotate(-90) scale(1.1 1)" stroke="#111" stroke-width="0.28">Tumor volume (mm<tspan font-size="5.5" dy="-3">3</tspan><tspan dy="3">)</tspan></text>
<text x="190.50" y="527.10" font-size="8.8" text-anchor="start" transform="matrix(1,0,0,1.08,0,-42.168)" stroke="#111" stroke-width="0.28">Days post-treatment</text>
<path d="M184.70,523.50 L184.70,532.50" stroke="#d8334f" stroke-width="1.2"/>
<path d="M182.10,524.90 L184.70,520.40 L187.30,524.90Z" fill="#d8334f"/>
<text x="184.70" y="540.10" font-size="6.8" text-anchor="middle" transform="matrix(1,0,0,1.08,0,-43.208)" fill="#d8334f">IV</text>
<line x1="184.70" y1="500.22" x2="278.20" y2="500.22" stroke="#e0505a" stroke-width="1.1"/>
<polyline points="184.70,500.22 206.40,494.88 228.10,488.08 249.80,479.34 271.50,466.23" fill="none" stroke="#6f6f6f" stroke-width="0.7"/>
<line x1="228.10" y1="490.99" x2="228.10" y2="485.17" stroke="#6f6f6f" stroke-width="0.8"/>
<line x1="226.10" y1="485.17" x2="230.10" y2="485.17" stroke="#6f6f6f" stroke-width="0.8"/>
<line x1="226.10" y1="490.99" x2="230.10" y2="490.99" stroke="#6f6f6f" stroke-width="0.8"/>
<line x1="249.80" y1="485.65" x2="249.80" y2="473.51" stroke="#6f6f6f" stroke-width="0.8"/>
<line x1="247.80" y1="473.51" x2="251.80" y2="473.51" stroke="#6f6f6f" stroke-width="0.8"/>
<line x1="247.80" y1="485.65" x2="251.80" y2="485.65" stroke="#6f6f6f" stroke-width="0.8"/>
<line x1="271.50" y1="479.34" x2="271.50" y2="454.09" stroke="#6f6f6f" stroke-width="0.8"/>
<line x1="269.50" y1="454.09" x2="273.50" y2="454.09" stroke="#6f6f6f" stroke-width="0.8"/>
<line x1="269.50" y1="479.34" x2="273.50" y2="479.34" stroke="#6f6f6f" stroke-width="0.8"/>
<circle cx="184.70" cy="500.22" r="2.45" fill="#6f6f6f"/>
<circle cx="206.40" cy="494.88" r="2.45" fill="#6f6f6f"/>
<circle cx="228.10" cy="488.08" r="2.45" fill="#6f6f6f"/>
<circle cx="249.80" cy="479.34" r="2.45" fill="#6f6f6f"/>
<circle cx="271.50" cy="466.23" r="2.45" fill="#6f6f6f"/>
<polyline points="184.70,500.22 206.40,494.39 228.10,500.70 249.80,500.70 271.50,498.28" fill="none" stroke="#263a8c" stroke-width="0.7"/>
<line x1="271.50" y1="501.19" x2="271.50" y2="495.36" stroke="#263a8c" stroke-width="0.8"/>
<line x1="269.50" y1="495.36" x2="273.50" y2="495.36" stroke="#263a8c" stroke-width="0.8"/>
<line x1="269.50" y1="501.19" x2="273.50" y2="501.19" stroke="#263a8c" stroke-width="0.8"/>
<circle cx="184.70" cy="500.22" r="2.45" fill="#263a8c"/>
<circle cx="206.40" cy="494.39" r="2.45" fill="#263a8c"/>
<circle cx="228.10" cy="500.70" r="2.45" fill="#263a8c"/>
<circle cx="249.80" cy="500.70" r="2.45" fill="#263a8c"/>
<circle cx="271.50" cy="498.28" r="2.45" fill="#263a8c"/>
<polyline points="184.70,500.22 206.40,492.94 228.10,485.65 249.80,474.49 271.50,457.98" fill="none" stroke="#222" stroke-width="0.9"/>
<line x1="206.40" y1="496.33" x2="206.40" y2="489.54" stroke="#222" stroke-width="0.8"/>
<line x1="204.40" y1="489.54" x2="208.40" y2="489.54" stroke="#222" stroke-width="0.8"/>
<line x1="204.40" y1="496.33" x2="208.40" y2="496.33" stroke="#222" stroke-width="0.8"/>
<line x1="228.10" y1="489.54" x2="228.10" y2="480.31" stroke="#222" stroke-width="0.8"/>
<line x1="226.10" y1="480.31" x2="230.10" y2="480.31" stroke="#222" stroke-width="0.8"/>
<line x1="226.10" y1="489.54" x2="230.10" y2="489.54" stroke="#222" stroke-width="0.8"/>
<line x1="249.80" y1="480.31" x2="249.80" y2="468.66" stroke="#222" stroke-width="0.8"/>
<line x1="247.80" y1="468.66" x2="251.80" y2="468.66" stroke="#222" stroke-width="0.8"/>
<line x1="247.80" y1="480.31" x2="251.80" y2="480.31" stroke="#222" stroke-width="0.8"/>
<line x1="271.50" y1="466.23" x2="271.50" y2="449.24" stroke="#222" stroke-width="0.8"/>
<line x1="269.50" y1="449.24" x2="273.50" y2="449.24" stroke="#222" stroke-width="0.8"/>
<line x1="269.50" y1="466.23" x2="273.50" y2="466.23" stroke="#222" stroke-width="0.8"/>
<circle cx="184.70" cy="500.22" r="2.5" fill="#fff" stroke="#222" stroke-width="0.9"/>
<circle cx="206.40" cy="492.94" r="2.5" fill="#fff" stroke="#222" stroke-width="0.9"/>
<circle cx="228.10" cy="485.65" r="2.5" fill="#fff" stroke="#222" stroke-width="0.9"/>
<circle cx="249.80" cy="474.49" r="2.5" fill="#fff" stroke="#222" stroke-width="0.9"/>
<circle cx="271.50" cy="457.98" r="2.5" fill="#fff" stroke="#222" stroke-width="0.9"/>
<line x1="40.20" y1="551.50" x2="40.20" y2="649.70" stroke="#000" stroke-width="1.0"/>
<line x1="40.20" y1="649.70" x2="133.20" y2="649.70" stroke="#000" stroke-width="1.0"/>
<line x1="37.00" y1="649.70" x2="40.20" y2="649.70" stroke="#000" stroke-width="1.0"/>
<text x="36.60" y="653.20" font-size="8.7" text-anchor="end" transform="matrix(1,0,0,1.08,0,-52.256)" stroke="#111" stroke-width="0.28">0</text>
<line x1="37.00" y1="625.15" x2="40.20" y2="625.15" stroke="#000" stroke-width="1.0"/>
<text x="36.60" y="628.65" font-size="8.7" text-anchor="end" transform="matrix(1,0,0,1.08,0,-50.292)" stroke="#111" stroke-width="0.28">500</text>
<line x1="37.00" y1="600.60" x2="40.20" y2="600.60" stroke="#000" stroke-width="1.0"/>
<text x="36.60" y="604.10" font-size="8.7" text-anchor="end" transform="matrix(1,0,0,1.08,0,-48.328)" stroke="#111" stroke-width="0.28">1,000</text>
<line x1="37.00" y1="576.05" x2="40.20" y2="576.05" stroke="#000" stroke-width="1.0"/>
<text x="36.60" y="579.55" font-size="8.7" text-anchor="end" transform="matrix(1,0,0,1.08,0,-46.364)" stroke="#111" stroke-width="0.28">1,500</text>
<line x1="37.00" y1="551.50" x2="40.20" y2="551.50" stroke="#000" stroke-width="1.0"/>
<text x="36.60" y="555.00" font-size="8.7" text-anchor="end" transform="matrix(1,0,0,1.08,0,-44.400)" stroke="#111" stroke-width="0.28">2,000</text>
<line x1="40.20" y1="649.70" x2="40.20" y2="652.70" stroke="#000" stroke-width="1.0"/>
<text x="40.20" y="661.00" font-size="8.7" text-anchor="middle" transform="matrix(1,0,0,1.08,0,-52.880)" stroke="#111" stroke-width="0.28">0</text>
<line x1="71.20" y1="649.70" x2="71.20" y2="652.70" stroke="#000" stroke-width="1.0"/>
<text x="71.20" y="661.00" font-size="8.7" text-anchor="middle" transform="matrix(1,0,0,1.08,0,-52.880)" stroke="#111" stroke-width="0.28">10</text>
<line x1="102.20" y1="649.70" x2="102.20" y2="652.70" stroke="#000" stroke-width="1.0"/>
<text x="102.20" y="661.00" font-size="8.7" text-anchor="middle" transform="matrix(1,0,0,1.08,0,-52.880)" stroke="#111" stroke-width="0.28">20</text>
<line x1="133.20" y1="649.70" x2="133.20" y2="652.70" stroke="#000" stroke-width="1.0"/>
<text x="133.20" y="661.00" font-size="8.7" text-anchor="middle" transform="matrix(1,0,0,1.08,0,-52.880)" stroke="#111" stroke-width="0.28">30</text>
<text x="62.80" y="551.80" font-size="8.78" text-anchor="start" transform="matrix(1,0,0,1.08,0,-44.144)" font-weight="bold" stroke="#111" stroke-width="0.28">HBCx-10 (R)</text>
<text x="0" y="0" font-size="7.909" text-anchor="middle" transform="translate(9.00 603.90) rotate(-90) scale(1.1 1)" stroke="#111" stroke-width="0.28">Tumor volume (mm<tspan font-size="5.5" dy="-3">3</tspan><tspan dy="3">)</tspan></text>
<text x="46.00" y="669.30" font-size="8.8" text-anchor="start" transform="matrix(1,0,0,1.08,0,-53.544)" stroke="#111" stroke-width="0.28">Days post-treatment</text>
<path d="M40.20,665.70 L40.20,674.70" stroke="#d8334f" stroke-width="1.2"/>
<path d="M37.60,667.10 L40.20,662.60 L42.80,667.10Z" fill="#d8334f"/>
<text x="40.20" y="682.30" font-size="6.8" text-anchor="middle" transform="matrix(1,0,0,1.08,0,-54.584)" fill="#d8334f">IV</text>
<line x1="40.20" y1="643.42" x2="133.70" y2="643.42" stroke="#e0505a" stroke-width="1.1"/>
<polyline points="40.20,643.42 61.90,637.43 83.60,631.78 105.30,625.40 127.00,595.20" fill="none" stroke="#6f6f6f" stroke-width="0.7"/>
<line x1="61.90" y1="643.32" x2="61.90" y2="631.29" stroke="#6f6f6f" stroke-width="0.8"/>
<line x1="59.90" y1="631.29" x2="63.90" y2="631.29" stroke="#6f6f6f" stroke-width="0.8"/>
<line x1="59.90" y1="643.32" x2="63.90" y2="643.32" stroke="#6f6f6f" stroke-width="0.8"/>
<line x1="83.60" y1="637.92" x2="83.60" y2="626.13" stroke="#6f6f6f" stroke-width="0.8"/>
<line x1="81.60" y1="626.13" x2="85.60" y2="626.13" stroke="#6f6f6f" stroke-width="0.8"/>
<line x1="81.60" y1="637.92" x2="85.60" y2="637.92" stroke="#6f6f6f" stroke-width="0.8"/>
<line x1="105.30" y1="633.50" x2="105.30" y2="617.29" stroke="#6f6f6f" stroke-width="0.8"/>
<line x1="103.30" y1="617.29" x2="107.30" y2="617.29" stroke="#6f6f6f" stroke-width="0.8"/>
<line x1="103.30" y1="633.50" x2="107.30" y2="633.50" stroke="#6f6f6f" stroke-width="0.8"/>
<line x1="127.00" y1="615.33" x2="127.00" y2="575.07" stroke="#6f6f6f" stroke-width="0.8"/>
<line x1="125.00" y1="575.07" x2="129.00" y2="575.07" stroke="#6f6f6f" stroke-width="0.8"/>
<line x1="125.00" y1="615.33" x2="129.00" y2="615.33" stroke="#6f6f6f" stroke-width="0.8"/>
<circle cx="40.20" cy="643.42" r="2.45" fill="#6f6f6f"/>
<circle cx="61.90" cy="637.43" r="2.45" fill="#6f6f6f"/>
<circle cx="83.60" cy="631.78" r="2.45" fill="#6f6f6f"/>
<circle cx="105.30" cy="625.40" r="2.45" fill="#6f6f6f"/>
<circle cx="127.00" cy="595.20" r="2.45" fill="#6f6f6f"/>
<polyline points="40.20,643.42 61.90,641.35 83.60,648.23 105.30,649.21 127.00,649.21" fill="none" stroke="#263a8c" stroke-width="0.7"/>
<circle cx="40.20" cy="643.42" r="2.45" fill="#263a8c"/>
<circle cx="61.90" cy="641.35" r="2.45" fill="#263a8c"/>
<circle cx="83.60" cy="648.23" r="2.45" fill="#263a8c"/>
<circle cx="105.30" cy="649.21" r="2.45" fill="#263a8c"/>
<circle cx="127.00" cy="649.21" r="2.45" fill="#263a8c"/>
<polyline points="40.20,643.42 61.90,638.65 83.60,627.11 105.30,605.51 127.00,567.21" fill="none" stroke="#222" stroke-width="0.9"/>
<line x1="83.60" y1="630.06" x2="83.60" y2="624.17" stroke="#222" stroke-width="0.8"/>
<line x1="81.60" y1="624.17" x2="85.60" y2="624.17" stroke="#222" stroke-width="0.8"/>
<line x1="81.60" y1="630.06" x2="85.60" y2="630.06" stroke="#222" stroke-width="0.8"/>
<line x1="105.30" y1="609.93" x2="105.30" y2="601.09" stroke="#222" stroke-width="0.8"/>
<line x1="103.30" y1="601.09" x2="107.30" y2="601.09" stroke="#222" stroke-width="0.8"/>
<line x1="103.30" y1="609.93" x2="107.30" y2="609.93" stroke="#222" stroke-width="0.8"/>
<line x1="127.00" y1="569.67" x2="127.00" y2="563.28" stroke="#222" stroke-width="0.8"/>
<line x1="125.00" y1="563.28" x2="129.00" y2="563.28" stroke="#222" stroke-width="0.8"/>
<line x1="125.00" y1="569.67" x2="129.00" y2="569.67" stroke="#222" stroke-width="0.8"/>
<circle cx="40.20" cy="643.42" r="2.5" fill="#fff" stroke="#222" stroke-width="0.9"/>
<circle cx="61.90" cy="638.65" r="2.5" fill="#fff" stroke="#222" stroke-width="0.9"/>
<circle cx="83.60" cy="627.11" r="2.5" fill="#fff" stroke="#222" stroke-width="0.9"/>
<circle cx="105.30" cy="605.51" r="2.5" fill="#fff" stroke="#222" stroke-width="0.9"/>
<circle cx="127.00" cy="567.21" r="2.5" fill="#fff" stroke="#222" stroke-width="0.9"/>
<rect x="182.4" y="551.5" width="50.7" height="34.5" rx="2" fill="#fff" stroke="#9a9a9a" stroke-width="0.8"/>
<circle cx="189.1" cy="558.5" r="2.4" fill="#fff" stroke="#222" stroke-width="0.9"/>
<circle cx="189.1" cy="569.3" r="2.5" fill="#6f6f6f"/>
<circle cx="189.1" cy="580.3" r="2.5" fill="#263a8c"/>
<text x="197.90" y="561.00" font-size="6.95" text-anchor="start" transform="matrix(1,0,0,1.08,0,-44.880)" stroke="#111" stroke-width="0.28">Untreated</text>
<text x="197.90" y="571.80" font-size="6.95" text-anchor="start" transform="matrix(1,0,0,1.08,0,-45.744)" stroke="#111" stroke-width="0.28">Iso-ADC</text>
<text x="197.90" y="582.80" font-size="6.95" text-anchor="start" transform="matrix(1,0,0,1.08,0,-46.624)" stroke="#111" stroke-width="0.28">AZD8205</text>
<rect x="322.5" y="410.5" width="195.29999999999995" height="199.89999999999998" fill="#fff"/>
<line x1="322.50" y1="585.18" x2="517.80" y2="585.18" stroke="#f4f4f4" stroke-width="0.6"/>
<line x1="322.50" y1="538.33" x2="517.80" y2="538.33" stroke="#f4f4f4" stroke-width="0.6"/>
<line x1="322.50" y1="491.48" x2="517.80" y2="491.48" stroke="#f4f4f4" stroke-width="0.6"/>
<line x1="322.50" y1="444.62" x2="517.80" y2="444.62" stroke="#f4f4f4" stroke-width="0.6"/>
<line x1="322.50" y1="608.60" x2="517.80" y2="608.60" stroke="#e6e6e6" stroke-width="1.0"/>
<line x1="322.50" y1="561.75" x2="517.80" y2="561.75" stroke="#e6e6e6" stroke-width="1.0"/>
<line x1="322.50" y1="514.90" x2="517.80" y2="514.90" stroke="#e6e6e6" stroke-width="1.0"/>
<line x1="322.50" y1="468.05" x2="517.80" y2="468.05" stroke="#e6e6e6" stroke-width="1.0"/>
<line x1="322.50" y1="421.20" x2="517.80" y2="421.20" stroke="#e6e6e6" stroke-width="1.0"/>
<line x1="375.80" y1="410.50" x2="375.80" y2="610.40" stroke="#e6e6e6" stroke-width="1.0"/>
<line x1="464.60" y1="410.50" x2="464.60" y2="610.40" stroke="#e6e6e6" stroke-width="1.0"/>
<rect x="322.5" y="410.5" width="195.29999999999995" height="199.89999999999998" fill="none" stroke="#9a9a9a" stroke-width="0.9"/>
<line x1="320.00" y1="608.60" x2="322.50" y2="608.60" stroke="#444" stroke-width="0.8"/>
<text x="316.60" y="611.80" font-size="8.6" text-anchor="end" transform="matrix(1,0,0,1.08,0,-48.944)" fill="#333" stroke="#333" stroke-width="0.28">0</text>
<line x1="320.00" y1="561.75" x2="322.50" y2="561.75" stroke="#444" stroke-width="0.8"/>
<text x="316.60" y="564.95" font-size="8.6" text-anchor="end" transform="matrix(1,0,0,1.08,0,-45.196)" fill="#333" stroke="#333" stroke-width="0.28">25</text>
<line x1="320.00" y1="514.90" x2="322.50" y2="514.90" stroke="#444" stroke-width="0.8"/>
<text x="316.60" y="518.10" font-size="8.6" text-anchor="end" transform="matrix(1,0,0,1.08,0,-41.448)" fill="#333" stroke="#333" stroke-width="0.28">50</text>
<line x1="320.00" y1="468.05" x2="322.50" y2="468.05" stroke="#444" stroke-width="0.8"/>
<text x="316.60" y="471.25" font-size="8.6" text-anchor="end" transform="matrix(1,0,0,1.08,0,-37.700)" fill="#333" stroke="#333" stroke-width="0.28">75</text>
<line x1="320.00" y1="421.20" x2="322.50" y2="421.20" stroke="#444" stroke-width="0.8"/>
<text x="316.60" y="424.40" font-size="8.6" text-anchor="end" transform="matrix(1,0,0,1.08,0,-33.952)" fill="#333" stroke="#333" stroke-width="0.28">100</text>
<line x1="375.80" y1="610.40" x2="375.80" y2="612.80" stroke="#444" stroke-width="0.8"/>
<line x1="464.60" y1="610.40" x2="464.60" y2="612.80" stroke="#444" stroke-width="0.8"/>
<text x="0" y="0" font-size="8.727" text-anchor="middle" transform="translate(301.20 508.30) rotate(-90) scale(1.1 1)" stroke="#111" stroke-width="0.28">Median membrane OD</text>
<text x="375.50" y="623.60" font-size="8.75" text-anchor="middle" transform="matrix(1,0,0,1.08,0,-49.888)" stroke="#111" stroke-width="0.28">Nonresponders</text>
<text x="465.00" y="623.60" font-size="8.75" text-anchor="middle" transform="matrix(1,0,0,1.08,0,-49.888)" stroke="#111" stroke-width="0.28">Responders</text>
<path d="M375.8,424.2 L375.8,419.6 L464.7,419.6 L464.7,423.1" fill="none" stroke="#555" stroke-width="0.7"/>
<text x="419.40" y="417.30" font-size="6.6" text-anchor="middle" transform="matrix(1,0,0,1.08,0,-33.384)" fill="#333" stroke="#333" stroke-width="0.15">0.019</text>
<rect x="353.00" y="548.50" width="45.00" height="30.00" fill="none" stroke="#111" stroke-width="1.4"/>
<line x1="353.00" y1="562.30" x2="398.00" y2="562.30" stroke="#111" stroke-width="1.4"/>
<line x1="375.80" y1="548.50" x2="375.80" y2="541.10" stroke="#111" stroke-width="1.4"/>
<line x1="375.80" y1="578.50" x2="375.80" y2="583.30" stroke="#111" stroke-width="1.4"/>
<rect x="442.50" y="466.50" width="44.70" height="75.00" fill="none" stroke="#111" stroke-width="1.4"/>
<line x1="442.50" y1="476.90" x2="487.20" y2="476.90" stroke="#111" stroke-width="1.4"/>
<line x1="464.70" y1="466.50" x2="464.70" y2="427.20" stroke="#111" stroke-width="1.4"/>
<line x1="464.70" y1="541.50" x2="464.70" y2="586.00" stroke="#111" stroke-width="1.4"/>
<g fill="#222"><circle cx="375.8" cy="450.5" r="1.8"/><circle cx="378.2" cy="539.7" r="1.8"/><circle cx="370.3" cy="551.2" r="1.8"/><circle cx="376.5" cy="564.2" r="1.8"/><circle cx="384.2" cy="561.2" r="1.8"/><circle cx="383.5" cy="577.3" r="1.8"/><circle cx="374.2" cy="583.1" r="1.8"/><circle cx="380.5" cy="581.9" r="1.8"/><circle cx="373.5" cy="583.8" r="1.8"/><circle cx="468.4" cy="427.2" r="1.8"/><circle cx="469.5" cy="432.3" r="1.8"/><circle cx="469.5" cy="434.2" r="1.8"/><circle cx="458.5" cy="448.9" r="1.8"/><circle cx="458.5" cy="466.2" r="1.8"/><circle cx="456.2" cy="468.8" r="1.8"/><circle cx="467.7" cy="466.5" r="1.8"/><circle cx="467.7" cy="471.1" r="1.8"/><circle cx="467.7" cy="472.2" r="1.8"/><circle cx="472.3" cy="481.9" r="1.8"/><circle cx="466.1" cy="488.9" r="1.8"/><circle cx="463.1" cy="502.0" r="1.8"/><circle cx="463.0" cy="502.3" r="1.8"/><circle cx="457.7" cy="533.0" r="1.8"/><circle cx="456.1" cy="544.3" r="1.8"/><circle cx="472.7" cy="547.8" r="1.8"/><circle cx="462.3" cy="561.9" r="1.8"/><circle cx="472.0" cy="567.4" r="1.8"/><circle cx="458.8" cy="586.1" r="1.8"/></g>
<text x="375.80" y="601.20" font-size="8.6" text-anchor="middle" transform="matrix(1,0,0,1.08,0,-48.096)" fill="#222" stroke="#222" stroke-width="0.28"><tspan font-style="italic">n</tspan> = 8</text>
<text x="465.30" y="601.20" font-size="8.6" text-anchor="middle" transform="matrix(1,0,0,1.08,0,-48.096)" fill="#222" stroke="#222" stroke-width="0.28"><tspan font-style="italic">n</tspan> = 18</text>
</svg>
</body></html>
